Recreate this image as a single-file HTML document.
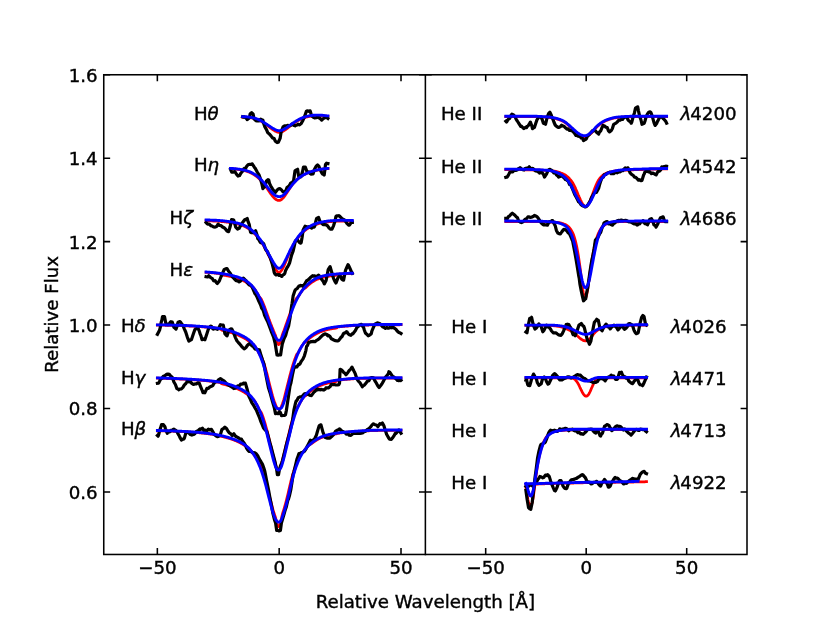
<!DOCTYPE html>
<html><head><meta charset="utf-8"><title>Line profiles</title>
<style>html,body{margin:0;padding:0;background:#fff}svg{display:block}</style></head>
<body>
<svg width="830" height="623" viewBox="0 0 830 623">
<rect width="830" height="623" fill="#fff"/>
<g fill="none" stroke-linejoin="round" stroke-linecap="square">
<g stroke="#f00" stroke-width="2.75">
<path d="M242.6 117.0 L243.1 117.0 L243.6 117.0 L244.1 117.0 L244.6 117.1 L245.1 117.1 L245.6 117.1 L246.1 117.2 L246.6 117.2 L247.1 117.3 L247.6 117.3 L248.1 117.4 L248.6 117.4 L249.1 117.5 L249.6 117.5 L250.1 117.6 L250.6 117.7 L251.1 117.8 L251.6 117.9 L252.1 118.0 L252.6 118.1 L253.1 118.2 L253.6 118.3 L254.1 118.4 L254.6 118.6 L255.1 118.7 L255.6 118.9 L256.1 119.0 L256.6 119.2 L257.1 119.4 L257.6 119.6 L258.1 119.8 L258.6 120.0 L259.1 120.2 L259.6 120.5 L260.1 120.7 L260.6 121.0 L261.1 121.3 L261.6 121.6 L262.1 121.9 L262.6 122.2 L263.1 122.5 L263.6 122.9 L264.1 123.2 L264.6 123.6 L265.1 123.9 L265.6 124.3 L266.1 124.7 L266.6 125.0 L267.1 125.4 L267.6 125.8 L268.1 126.1 L268.6 126.5 L269.1 126.9 L269.6 127.3 L270.1 127.7 L270.6 128.0 L271.1 128.4 L271.6 128.8 L272.1 129.1 L272.6 129.5 L273.1 129.8 L273.6 130.1 L274.1 130.4 L274.6 130.7 L275.1 131.0 L275.6 131.3 L276.1 131.5 L276.6 131.7 L277.1 131.9 L277.6 132.1 L278.1 132.2 L278.6 132.3 L279.1 132.3 L279.6 132.3 L280.1 132.3 L280.6 132.2 L281.1 132.0 L281.6 131.9 L282.1 131.7 L282.6 131.4 L283.1 131.2 L283.6 130.9 L284.1 130.6 L284.6 130.3 L285.1 129.9 L285.6 129.6 L286.1 129.2 L286.6 128.9 L287.1 128.5 L287.6 128.1 L288.1 127.7 L288.6 127.3 L289.1 126.9 L289.6 126.5 L290.1 126.1 L290.6 125.7 L291.1 125.3 L291.6 124.9 L292.1 124.5 L292.6 124.1 L293.1 123.8 L293.6 123.4 L294.1 123.1 L294.6 122.7 L295.1 122.4 L295.6 122.0 L296.1 121.7 L296.6 121.4 L297.1 121.1 L297.6 120.8 L298.1 120.5 L298.6 120.2 L299.1 119.9 L299.6 119.7 L300.1 119.4 L300.6 119.2 L301.1 119.0 L301.6 118.7 L302.1 118.5 L302.6 118.3 L303.1 118.1 L303.6 117.9 L304.1 117.7 L304.6 117.6 L305.1 117.4 L305.6 117.3 L306.1 117.1 L306.6 117.0 L307.1 116.9 L307.6 116.8 L308.1 116.7 L308.6 116.6 L309.1 116.5 L309.6 116.4 L310.1 116.3 L310.6 116.2 L311.1 116.1 L311.6 116.1 L312.1 116.0 L312.6 115.9 L313.1 115.9 L313.6 115.8 L314.1 115.8 L314.6 115.8 L315.1 115.7 L315.6 115.7 L316.1 115.7 L316.6 115.7 L317.1 115.7 L317.6 115.7 L318.1 115.7 L318.6 115.7 L319.1 115.7 L319.6 115.7 L320.1 115.7 L320.6 115.7 L321.1 115.8 L321.6 115.8 L322.1 115.8 L322.6 115.9 L323.1 115.9 L323.6 115.9 L324.1 116.0 L324.6 116.0 L325.1 116.1 L325.6 116.1 L326.1 116.2 L326.6 116.2 L327.1 116.3 L327.6 116.3 L327.9 116.4"/>
<path d="M230.5 168.7 L231.0 168.7 L231.5 168.8 L232.0 168.8 L232.5 168.8 L233.0 168.9 L233.5 168.9 L234.0 169.0 L234.5 169.0 L235.0 169.1 L235.5 169.1 L236.0 169.2 L236.5 169.2 L237.0 169.3 L237.5 169.4 L238.0 169.4 L238.5 169.5 L239.0 169.6 L239.5 169.6 L240.0 169.7 L240.5 169.8 L241.0 169.9 L241.5 170.0 L242.0 170.1 L242.5 170.2 L243.0 170.3 L243.5 170.4 L244.0 170.5 L244.5 170.6 L245.0 170.8 L245.5 170.9 L246.0 171.0 L246.5 171.2 L247.0 171.3 L247.5 171.5 L248.0 171.7 L248.5 171.9 L249.0 172.0 L249.5 172.2 L250.0 172.5 L250.5 172.7 L251.0 172.9 L251.5 173.2 L252.0 173.4 L252.5 173.7 L253.0 174.0 L253.5 174.3 L254.0 174.6 L254.5 175.0 L255.0 175.3 L255.5 175.7 L256.0 176.0 L256.5 176.4 L257.0 176.8 L257.5 177.2 L258.0 177.6 L258.5 178.1 L259.0 178.6 L259.5 179.0 L260.0 179.5 L260.5 180.0 L261.0 180.6 L261.5 181.1 L262.0 181.7 L262.5 182.2 L263.0 182.8 L263.5 183.4 L264.0 184.1 L264.5 184.7 L265.0 185.4 L265.5 186.1 L266.0 186.8 L266.5 187.5 L267.0 188.2 L267.5 188.9 L268.0 189.7 L268.5 190.4 L269.0 191.2 L269.5 191.9 L270.0 192.7 L270.5 193.4 L271.0 194.1 L271.5 194.7 L272.0 195.4 L272.5 196.0 L273.0 196.6 L273.5 197.2 L274.0 197.7 L274.5 198.2 L275.0 198.7 L275.5 199.1 L276.0 199.5 L276.5 199.8 L277.0 200.0 L277.5 200.2 L278.0 200.4 L278.5 200.4 L279.0 200.4 L279.5 200.4 L280.0 200.3 L280.5 200.1 L281.0 199.8 L281.5 199.5 L282.0 199.1 L282.5 198.6 L283.0 198.1 L283.5 197.5 L284.0 196.9 L284.5 196.3 L285.0 195.6 L285.5 194.8 L286.0 194.1 L286.5 193.3 L287.0 192.6 L287.5 191.8 L288.0 191.0 L288.5 190.2 L289.0 189.5 L289.5 188.7 L290.0 187.9 L290.5 187.2 L291.0 186.4 L291.5 185.7 L292.0 185.1 L292.5 184.4 L293.0 183.8 L293.5 183.2 L294.0 182.6 L294.5 182.0 L295.0 181.5 L295.5 180.9 L296.0 180.4 L296.5 180.0 L297.0 179.5 L297.5 179.0 L298.0 178.6 L298.5 178.2 L299.0 177.8 L299.5 177.4 L300.0 177.1 L300.5 176.7 L301.0 176.4 L301.5 176.1 L302.0 175.8 L302.5 175.5 L303.0 175.2 L303.5 174.9 L304.0 174.6 L304.5 174.4 L305.0 174.2 L305.5 173.9 L306.0 173.7 L306.5 173.5 L307.0 173.2 L307.5 173.0 L308.0 172.8 L308.5 172.6 L309.0 172.5 L309.5 172.3 L310.0 172.1 L310.5 171.9 L311.0 171.8 L311.5 171.6 L312.0 171.5 L312.5 171.3 L313.0 171.2 L313.5 171.1 L314.0 170.9 L314.5 170.8 L315.0 170.7 L315.5 170.6 L316.0 170.4 L316.5 170.3 L317.0 170.2 L317.5 170.1 L318.0 170.0 L318.5 169.9 L319.0 169.8 L319.5 169.7 L320.0 169.6 L320.5 169.5 L321.0 169.5 L321.5 169.4 L322.0 169.3 L322.5 169.2 L323.0 169.2 L323.5 169.1 L324.0 169.0 L324.5 169.0 L325.0 168.9 L325.5 168.9 L326.0 168.8 L326.5 168.8 L327.0 168.7 L327.5 168.7 L327.9 168.7"/>
<path d="M206.1 220.7 L206.6 220.7 L207.1 220.8 L207.6 220.8 L208.1 220.8 L208.6 220.8 L209.1 220.8 L209.6 220.8 L210.1 220.9 L210.6 220.9 L211.1 220.9 L211.6 220.9 L212.1 220.9 L212.6 221.0 L213.1 221.0 L213.6 221.0 L214.1 221.0 L214.6 221.0 L215.1 221.1 L215.6 221.1 L216.1 221.1 L216.6 221.1 L217.1 221.2 L217.6 221.2 L218.1 221.2 L218.6 221.3 L219.1 221.3 L219.6 221.3 L220.1 221.4 L220.6 221.4 L221.1 221.5 L221.6 221.5 L222.1 221.6 L222.6 221.6 L223.1 221.6 L223.6 221.7 L224.1 221.7 L224.6 221.8 L225.1 221.9 L225.6 221.9 L226.1 222.0 L226.6 222.0 L227.1 222.1 L227.6 222.2 L228.1 222.2 L228.6 222.3 L229.1 222.4 L229.6 222.4 L230.1 222.5 L230.6 222.6 L231.1 222.7 L231.6 222.7 L232.1 222.8 L232.6 222.9 L233.1 223.0 L233.6 223.1 L234.1 223.2 L234.6 223.3 L235.1 223.4 L235.6 223.5 L236.1 223.6 L236.6 223.7 L237.1 223.8 L237.6 223.9 L238.1 224.1 L238.6 224.2 L239.1 224.3 L239.6 224.5 L240.1 224.6 L240.6 224.8 L241.1 225.0 L241.6 225.1 L242.1 225.3 L242.6 225.5 L243.1 225.7 L243.6 225.9 L244.1 226.1 L244.6 226.4 L245.1 226.6 L245.6 226.9 L246.1 227.1 L246.6 227.4 L247.1 227.7 L247.6 228.0 L248.1 228.3 L248.6 228.7 L249.1 229.0 L249.6 229.4 L250.1 229.7 L250.6 230.1 L251.1 230.5 L251.6 230.9 L252.1 231.3 L252.6 231.8 L253.1 232.2 L253.6 232.7 L254.1 233.2 L254.6 233.7 L255.1 234.2 L255.6 234.7 L256.1 235.3 L256.6 235.8 L257.1 236.4 L257.6 237.0 L258.1 237.6 L258.6 238.2 L259.1 238.9 L259.6 239.5 L260.1 240.2 L260.6 240.9 L261.1 241.7 L261.6 242.4 L262.1 243.2 L262.6 244.0 L263.1 244.8 L263.6 245.7 L264.1 246.5 L264.6 247.4 L265.1 248.4 L265.6 249.3 L266.1 250.2 L266.6 251.2 L267.1 252.1 L267.6 253.1 L268.1 254.1 L268.6 255.1 L269.1 256.2 L269.6 257.2 L270.1 258.2 L270.6 259.3 L271.1 260.3 L271.6 261.3 L272.1 262.4 L272.6 263.4 L273.1 264.5 L273.6 265.5 L274.1 266.5 L274.6 267.4 L275.1 268.3 L275.6 269.2 L276.1 270.0 L276.6 270.7 L277.1 271.3 L277.6 271.9 L278.1 272.3 L278.6 272.5 L279.1 272.5 L279.6 272.4 L280.1 272.0 L280.6 271.5 L281.1 271.0 L281.6 270.3 L282.1 269.5 L282.6 268.6 L283.1 267.6 L283.6 266.6 L284.1 265.6 L284.6 264.4 L285.1 263.3 L285.6 262.1 L286.1 260.9 L286.6 259.7 L287.1 258.5 L287.6 257.3 L288.1 256.0 L288.6 254.8 L289.1 253.6 L289.6 252.5 L290.1 251.4 L290.6 250.3 L291.1 249.3 L291.6 248.4 L292.1 247.4 L292.6 246.5 L293.1 245.5 L293.6 244.6 L294.1 243.8 L294.6 242.9 L295.1 242.1 L295.6 241.3 L296.1 240.5 L296.6 239.8 L297.1 239.1 L297.6 238.4 L298.1 237.7 L298.6 237.0 L299.1 236.4 L299.6 235.8 L300.1 235.2 L300.6 234.7 L301.1 234.1 L301.6 233.6 L302.1 233.1 L302.6 232.6 L303.1 232.1 L303.6 231.6 L304.1 231.2 L304.6 230.8 L305.1 230.4 L305.6 230.0 L306.1 229.6 L306.6 229.2 L307.1 228.8 L307.6 228.5 L308.1 228.2 L308.6 227.9 L309.1 227.6 L309.6 227.3 L310.1 227.0 L310.6 226.7 L311.1 226.5 L311.6 226.2 L312.1 226.0 L312.6 225.7 L313.1 225.5 L313.6 225.3 L314.1 225.1 L314.6 224.9 L315.1 224.7 L315.6 224.5 L316.1 224.4 L316.6 224.2 L317.1 224.1 L317.6 223.9 L318.1 223.8 L318.6 223.6 L319.1 223.5 L319.6 223.4 L320.1 223.2 L320.6 223.1 L321.1 223.0 L321.6 222.9 L322.1 222.8 L322.6 222.7 L323.1 222.6 L323.6 222.5 L324.1 222.4 L324.6 222.3 L325.1 222.3 L325.6 222.2 L326.1 222.1 L326.6 222.0 L327.1 222.0 L327.6 221.9 L328.1 221.8 L328.6 221.8 L329.1 221.7 L329.6 221.7 L330.1 221.6 L330.6 221.6 L331.1 221.5 L331.6 221.5 L332.1 221.5 L332.6 221.4 L333.1 221.4 L333.6 221.4 L334.1 221.3 L334.6 221.3 L335.1 221.3 L335.6 221.2 L336.1 221.2 L336.6 221.2 L337.1 221.2 L337.6 221.2 L338.1 221.2 L338.6 221.1 L339.1 221.1 L339.6 221.1 L340.1 221.1 L340.6 221.1 L341.1 221.1 L341.6 221.1 L342.1 221.1 L342.6 221.1 L343.1 221.1 L343.6 221.1 L344.1 221.1 L344.6 221.1 L345.1 221.1 L345.6 221.2 L346.1 221.2 L346.6 221.2 L347.1 221.2 L347.6 221.2 L348.1 221.2 L348.6 221.2 L349.1 221.2 L349.6 221.2 L350.1 221.2 L350.6 221.2 L351.1 221.2 L351.6 221.2 L352.1 221.3 L352.3 221.3"/>
<path d="M206.1 272.3 L206.6 272.3 L207.1 272.4 L207.6 272.4 L208.1 272.4 L208.6 272.5 L209.1 272.5 L209.6 272.6 L210.1 272.6 L210.6 272.7 L211.1 272.7 L211.6 272.8 L212.1 272.8 L212.6 272.8 L213.1 272.9 L213.6 272.9 L214.1 273.0 L214.6 273.0 L215.1 273.1 L215.6 273.1 L216.1 273.2 L216.6 273.3 L217.1 273.3 L217.6 273.4 L218.1 273.4 L218.6 273.5 L219.1 273.6 L219.6 273.6 L220.1 273.8 L220.6 274.2 L221.1 274.6 L221.6 274.8 L222.1 275.0 L222.6 275.0 L223.1 275.1 L223.6 275.2 L224.1 275.3 L224.6 275.3 L225.1 275.4 L225.6 275.5 L226.1 275.6 L226.6 275.7 L227.1 275.8 L227.6 275.9 L228.1 276.0 L228.6 276.1 L229.1 276.2 L229.6 276.3 L230.1 276.4 L230.6 276.5 L231.1 276.6 L231.6 276.7 L232.1 276.8 L232.6 276.9 L233.1 277.1 L233.6 277.2 L234.1 277.3 L234.6 277.5 L235.1 277.6 L235.6 277.7 L236.1 277.9 L236.6 278.0 L237.1 278.2 L237.6 278.4 L238.1 278.5 L238.6 278.7 L239.1 278.9 L239.6 279.1 L240.1 279.2 L240.6 279.4 L241.1 279.6 L241.6 279.9 L242.1 280.1 L242.6 280.3 L243.1 280.5 L243.6 280.8 L244.1 281.1 L244.6 281.3 L245.1 281.6 L245.6 281.9 L246.1 282.2 L246.6 282.6 L247.1 282.9 L247.6 283.3 L248.1 283.6 L248.6 284.0 L249.1 284.4 L249.6 284.9 L250.1 285.3 L250.6 285.8 L251.1 286.3 L251.6 286.8 L252.1 287.2 L252.6 287.4 L253.1 287.5 L253.6 287.9 L254.1 288.5 L254.6 289.2 L255.1 289.9 L255.6 290.6 L256.1 291.4 L256.6 292.2 L257.1 293.0 L257.6 293.8 L258.1 294.7 L258.6 295.6 L259.1 296.5 L259.6 297.2 L260.1 297.7 L260.6 298.2 L261.1 298.9 L261.6 299.9 L262.1 301.0 L262.6 302.1 L263.1 303.3 L263.6 304.5 L264.1 305.7 L264.6 307.1 L265.1 308.4 L265.6 309.8 L266.1 311.2 L266.6 312.6 L267.1 314.0 L267.6 315.4 L268.1 316.8 L268.6 318.2 L269.1 319.6 L269.6 320.9 L270.1 322.2 L270.6 323.5 L271.1 324.7 L271.6 326.0 L272.1 327.3 L272.6 328.5 L273.1 329.8 L273.6 331.1 L274.1 332.3 L274.6 333.5 L275.1 334.6 L275.6 335.8 L276.1 337.7 L276.6 340.3 L277.1 342.1 L277.6 343.3 L278.1 344.2 L278.6 344.5 L279.1 344.2 L279.6 343.6 L280.1 343.0 L280.6 342.1 L281.1 340.3 L281.6 337.7 L282.1 335.5 L282.6 334.1 L283.1 332.9 L283.6 331.6 L284.1 330.2 L284.6 328.8 L285.1 327.4 L285.6 325.9 L286.1 324.5 L286.6 323.1 L287.1 321.7 L287.6 320.3 L288.1 318.9 L288.6 317.5 L289.1 316.1 L289.6 314.7 L290.1 313.3 L290.6 312.0 L291.1 310.6 L291.6 309.3 L292.1 308.0 L292.6 306.7 L293.1 305.5 L293.6 304.3 L294.1 303.2 L294.6 302.1 L295.1 301.0 L295.6 300.0 L296.1 299.0 L296.6 298.3 L297.1 297.8 L297.6 297.4 L298.1 296.8 L298.6 296.0 L299.1 295.2 L299.6 294.4 L300.1 293.6 L300.6 292.8 L301.1 292.1 L301.6 291.4 L302.1 290.7 L302.6 290.0 L303.1 289.4 L303.6 288.8 L304.1 288.3 L304.6 288.2 L305.1 288.1 L305.6 287.8 L306.1 287.3 L306.6 286.8 L307.1 286.3 L307.6 285.8 L308.1 285.3 L308.6 284.9 L309.1 284.5 L309.6 284.0 L310.1 283.6 L310.6 283.2 L311.1 282.9 L311.6 282.5 L312.1 282.1 L312.6 281.8 L313.1 281.5 L313.6 281.2 L314.1 280.9 L314.6 280.6 L315.1 280.3 L315.6 280.0 L316.1 279.8 L316.6 279.5 L317.1 279.3 L317.6 279.1 L318.1 278.9 L318.6 278.7 L319.1 278.5 L319.6 278.3 L320.1 278.1 L320.6 277.9 L321.1 277.8 L321.6 277.6 L322.1 277.5 L322.6 277.4 L323.1 277.2 L323.6 277.1 L324.1 277.0 L324.6 276.9 L325.1 276.8 L325.6 276.7 L326.1 276.6 L326.6 276.5 L327.1 276.4 L327.6 276.3 L328.1 276.3 L328.6 276.2 L329.1 276.1 L329.6 276.1 L330.1 276.0 L330.6 275.9 L331.1 275.9 L331.6 275.8 L332.1 275.7 L332.6 275.7 L333.1 275.6 L333.6 275.6 L334.1 275.5 L334.6 275.5 L335.1 275.4 L335.6 275.4 L336.1 275.2 L336.6 274.9 L337.1 274.5 L337.6 274.3 L338.1 274.2 L338.6 274.2 L339.1 274.1 L339.6 274.1 L340.1 274.1 L340.6 274.0 L341.1 274.0 L341.6 274.0 L342.1 274.0 L342.6 273.9 L343.1 273.9 L343.6 273.9 L344.1 273.8 L344.6 273.8 L345.1 273.8 L345.6 273.8 L346.1 273.7 L346.6 273.7 L347.1 273.7 L347.6 273.7 L348.1 273.7 L348.6 273.6 L349.1 273.6 L349.6 273.6 L350.1 273.6 L350.6 273.6 L351.1 273.5 L351.6 273.5 L352.1 273.5 L352.3 273.5"/>
<path d="M157.4 325.2 L157.9 325.2 L158.4 325.2 L158.9 325.2 L159.4 325.2 L159.9 325.2 L160.4 325.2 L160.9 325.2 L161.4 325.2 L161.9 325.2 L162.4 325.2 L162.9 325.2 L163.4 325.2 L163.9 325.2 L164.4 325.2 L164.9 325.2 L165.4 325.3 L165.9 325.3 L166.4 325.3 L166.9 325.3 L167.4 325.3 L167.9 325.3 L168.4 325.3 L168.9 325.3 L169.4 325.3 L169.9 325.3 L170.4 325.3 L170.9 325.3 L171.4 325.4 L171.9 325.4 L172.4 325.4 L172.9 325.4 L173.4 325.4 L173.9 325.4 L174.4 325.4 L174.9 325.4 L175.4 325.5 L175.9 325.5 L176.4 325.5 L176.9 325.5 L177.4 325.5 L177.9 325.5 L178.4 325.5 L178.9 325.6 L179.4 325.6 L179.9 325.6 L180.4 325.6 L180.9 325.6 L181.4 325.6 L181.9 325.7 L182.4 325.7 L182.9 325.7 L183.4 325.7 L183.9 325.7 L184.4 325.8 L184.9 325.8 L185.4 325.8 L185.9 325.8 L186.4 325.8 L186.9 325.9 L187.4 325.9 L187.9 325.9 L188.4 325.9 L188.9 326.0 L189.4 326.0 L189.9 326.0 L190.4 326.0 L190.9 326.1 L191.4 326.1 L191.9 326.1 L192.4 326.1 L192.9 326.2 L193.4 326.2 L193.9 326.2 L194.4 326.3 L194.9 326.3 L195.4 326.3 L195.9 326.4 L196.4 326.4 L196.9 326.4 L197.4 326.5 L197.9 326.5 L198.4 326.5 L198.9 326.6 L199.4 326.6 L199.9 326.6 L200.4 326.7 L200.9 326.7 L201.4 326.7 L201.9 326.8 L202.4 326.8 L202.9 326.9 L203.4 326.9 L203.9 326.9 L204.4 327.0 L204.9 327.0 L205.4 327.1 L205.9 327.1 L206.4 327.2 L206.9 327.2 L207.4 327.3 L207.9 327.3 L208.4 327.4 L208.9 327.4 L209.4 327.5 L209.9 327.5 L210.4 327.6 L210.9 327.6 L211.4 327.7 L211.9 327.7 L212.4 327.8 L212.9 327.8 L213.4 327.9 L213.9 328.0 L214.4 328.0 L214.9 328.1 L215.4 328.2 L215.9 328.2 L216.4 328.3 L216.9 328.4 L217.4 328.4 L217.9 328.5 L218.4 328.6 L218.9 328.7 L219.4 328.8 L219.9 328.9 L220.4 329.0 L220.9 329.4 L221.4 329.8 L221.9 330.2 L222.4 330.3 L222.9 330.4 L223.4 330.5 L223.9 330.6 L224.4 330.7 L224.9 330.8 L225.4 330.9 L225.9 331.0 L226.4 331.2 L226.9 331.3 L227.4 331.4 L227.9 331.5 L228.4 331.7 L228.9 331.8 L229.4 332.0 L229.9 332.1 L230.4 332.3 L230.9 332.4 L231.4 332.6 L231.9 332.7 L232.4 332.9 L232.9 333.1 L233.4 333.2 L233.9 333.4 L234.4 333.6 L234.9 333.8 L235.4 334.0 L235.9 334.2 L236.4 334.4 L236.9 334.6 L237.4 334.8 L237.9 335.0 L238.4 335.2 L238.9 335.4 L239.4 335.7 L239.9 335.9 L240.4 336.1 L240.9 336.4 L241.4 336.6 L241.9 336.9 L242.4 337.1 L242.9 337.4 L243.4 337.6 L243.9 337.9 L244.4 338.2 L244.9 338.5 L245.4 338.8 L245.9 339.1 L246.4 339.4 L246.9 339.8 L247.4 340.1 L247.9 340.5 L248.4 340.8 L248.9 341.2 L249.4 341.6 L249.9 342.0 L250.4 342.5 L250.9 342.9 L251.4 343.4 L251.9 343.9 L252.4 344.3 L252.9 344.5 L253.4 344.6 L253.9 345.0 L254.4 345.6 L254.9 346.2 L255.4 346.9 L255.9 347.7 L256.4 348.5 L256.9 349.3 L257.4 350.2 L257.9 351.1 L258.4 352.1 L258.9 353.1 L259.4 354.1 L259.9 354.9 L260.4 355.5 L260.9 356.0 L261.4 356.8 L261.9 357.9 L262.4 359.2 L262.9 360.6 L263.4 362.0 L263.9 363.4 L264.4 364.9 L264.9 366.5 L265.4 368.2 L265.9 370.0 L266.4 371.8 L266.9 373.7 L267.4 375.7 L267.9 377.7 L268.4 379.8 L268.9 381.8 L269.4 383.8 L269.9 385.8 L270.4 387.8 L270.9 389.7 L271.4 391.6 L271.9 393.5 L272.4 395.4 L272.9 397.1 L273.4 398.8 L273.9 400.4 L274.4 401.8 L274.9 403.1 L275.4 404.4 L275.9 405.7 L276.4 407.0 L276.9 407.9 L277.4 408.4 L277.9 408.8 L278.4 409.1 L278.9 409.2 L279.4 409.1 L279.9 408.8 L280.4 408.4 L280.9 407.7 L281.4 406.6 L281.9 405.3 L282.4 404.0 L282.9 402.5 L283.4 401.0 L283.9 399.4 L284.4 397.6 L284.9 395.7 L285.4 393.7 L285.9 391.7 L286.4 389.6 L286.9 387.5 L287.4 385.5 L287.9 383.5 L288.4 381.6 L288.9 379.6 L289.4 377.7 L289.9 375.7 L290.4 373.8 L290.9 371.9 L291.4 370.1 L291.9 368.3 L292.4 366.6 L292.9 365.0 L293.4 363.4 L293.9 361.9 L294.4 360.4 L294.9 359.0 L295.4 357.7 L295.9 356.4 L296.4 355.2 L296.9 354.2 L297.4 353.6 L297.9 353.1 L298.4 352.4 L298.9 351.5 L299.4 350.5 L299.9 349.5 L300.4 348.6 L300.9 347.7 L301.4 346.8 L301.9 346.0 L302.4 345.2 L302.9 344.5 L303.4 343.7 L303.9 343.1 L304.4 342.5 L304.9 342.3 L305.4 342.2 L305.9 341.8 L306.4 341.3 L306.9 340.8 L307.4 340.3 L307.9 339.8 L308.4 339.3 L308.9 338.9 L309.4 338.4 L309.9 338.0 L310.4 337.6 L310.9 337.2 L311.4 336.8 L311.9 336.5 L312.4 336.1 L312.9 335.8 L313.4 335.5 L313.9 335.1 L314.4 334.8 L314.9 334.5 L315.4 334.2 L315.9 334.0 L316.4 333.7 L316.9 333.4 L317.4 333.2 L317.9 332.9 L318.4 332.7 L318.9 332.5 L319.4 332.2 L319.9 332.0 L320.4 331.8 L320.9 331.6 L321.4 331.4 L321.9 331.2 L322.4 331.1 L322.9 330.9 L323.4 330.7 L323.9 330.6 L324.4 330.4 L324.9 330.3 L325.4 330.1 L325.9 330.0 L326.4 329.9 L326.9 329.7 L327.4 329.6 L327.9 329.5 L328.4 329.4 L328.9 329.3 L329.4 329.2 L329.9 329.1 L330.4 329.0 L330.9 328.9 L331.4 328.8 L331.9 328.7 L332.4 328.7 L332.9 328.6 L333.4 328.5 L333.9 328.4 L334.4 328.4 L334.9 328.3 L335.4 328.2 L335.9 328.1 L336.4 328.0 L336.9 327.7 L337.4 327.2 L337.9 327.0 L338.4 326.9 L338.9 326.8 L339.4 326.8 L339.9 326.7 L340.4 326.7 L340.9 326.6 L341.4 326.6 L341.9 326.5 L342.4 326.5 L342.9 326.4 L343.4 326.4 L343.9 326.3 L344.4 326.3 L344.9 326.2 L345.4 326.2 L345.9 326.2 L346.4 326.1 L346.9 326.1 L347.4 326.0 L347.9 326.0 L348.4 326.0 L348.9 325.9 L349.4 325.9 L349.9 325.8 L350.4 325.8 L350.9 325.8 L351.4 325.7 L351.9 325.7 L352.4 325.7 L352.9 325.6 L353.4 325.6 L353.9 325.6 L354.4 325.6 L354.9 325.5 L355.4 325.5 L355.9 325.5 L356.4 325.4 L356.9 325.4 L357.4 325.4 L357.9 325.4 L358.4 325.3 L358.9 325.3 L359.4 325.3 L359.9 325.3 L360.4 325.2 L360.9 325.2 L361.4 325.2 L361.9 325.2 L362.4 325.2 L362.9 325.1 L363.4 325.1 L363.9 325.1 L364.4 325.1 L364.9 325.1 L365.4 325.1 L365.9 325.0 L366.4 325.0 L366.9 325.0 L367.4 325.0 L367.9 325.0 L368.4 325.0 L368.9 325.0 L369.4 324.9 L369.9 324.9 L370.4 324.9 L370.9 324.9 L371.4 324.9 L371.9 324.9 L372.4 324.9 L372.9 324.9 L373.4 324.9 L373.9 324.9 L374.4 324.9 L374.9 324.8 L375.4 324.8 L375.9 324.8 L376.4 324.8 L376.9 324.8 L377.4 324.8 L377.9 324.8 L378.4 324.8 L378.9 324.8 L379.4 324.8 L379.9 324.8 L380.4 324.8 L380.9 324.8 L381.4 324.8 L381.9 324.8 L382.4 324.8 L382.9 324.8 L383.4 324.8 L383.9 324.8 L384.4 324.8 L384.9 324.8 L385.4 324.8 L385.9 324.8 L386.4 324.8 L386.9 324.8 L387.4 324.8 L387.9 324.8 L388.4 324.8 L388.9 324.8 L389.4 324.8 L389.9 324.8 L390.4 324.8 L390.9 324.8 L391.4 324.8 L391.9 324.8 L392.4 324.8 L392.9 324.8 L393.4 324.8 L393.9 324.8 L394.4 324.8 L394.9 324.8 L395.4 324.8 L395.9 324.8 L396.4 324.8 L396.9 324.8 L397.4 324.8 L397.9 324.8 L398.4 324.8 L398.9 324.8 L399.4 324.8 L399.9 324.7 L400.4 324.7 L400.9 324.7 L401.0 324.7"/>
<path d="M157.4 378.2 L157.9 378.2 L158.4 378.2 L158.9 378.3 L159.4 378.3 L159.9 378.3 L160.4 378.3 L160.9 378.3 L161.4 378.3 L161.9 378.3 L162.4 378.3 L162.9 378.3 L163.4 378.4 L163.9 378.4 L164.4 378.4 L164.9 378.4 L165.4 378.4 L165.9 378.4 L166.4 378.5 L166.9 378.5 L167.4 378.5 L167.9 378.5 L168.4 378.5 L168.9 378.5 L169.4 378.6 L169.9 378.6 L170.4 378.6 L170.9 378.6 L171.4 378.6 L171.9 378.6 L172.4 378.7 L172.9 378.7 L173.4 378.7 L173.9 378.7 L174.4 378.7 L174.9 378.8 L175.4 378.8 L175.9 378.8 L176.4 378.8 L176.9 378.9 L177.4 378.9 L177.9 378.9 L178.4 378.9 L178.9 378.9 L179.4 379.0 L179.9 379.0 L180.4 379.0 L180.9 379.0 L181.4 379.1 L181.9 379.1 L182.4 379.1 L182.9 379.1 L183.4 379.2 L183.9 379.2 L184.4 379.2 L184.9 379.2 L185.4 379.3 L185.9 379.3 L186.4 379.3 L186.9 379.3 L187.4 379.4 L187.9 379.4 L188.4 379.4 L188.9 379.5 L189.4 379.5 L189.9 379.5 L190.4 379.6 L190.9 379.6 L191.4 379.6 L191.9 379.6 L192.4 379.7 L192.9 379.7 L193.4 379.7 L193.9 379.8 L194.4 379.8 L194.9 379.8 L195.4 379.9 L195.9 379.9 L196.4 379.9 L196.9 380.0 L197.4 380.0 L197.9 380.1 L198.4 380.1 L198.9 380.1 L199.4 380.2 L199.9 380.2 L200.4 380.2 L200.9 380.3 L201.4 380.3 L201.9 380.4 L202.4 380.4 L202.9 380.4 L203.4 380.5 L203.9 380.5 L204.4 380.6 L204.9 380.6 L205.4 380.7 L205.9 380.7 L206.4 380.7 L206.9 380.8 L207.4 380.8 L207.9 380.9 L208.4 380.9 L208.9 381.0 L209.4 381.0 L209.9 381.1 L210.4 381.2 L210.9 381.2 L211.4 381.3 L211.9 381.3 L212.4 381.4 L212.9 381.4 L213.4 381.5 L213.9 381.6 L214.4 381.6 L214.9 381.7 L215.4 381.8 L215.9 381.8 L216.4 381.9 L216.9 382.0 L217.4 382.1 L217.9 382.2 L218.4 382.2 L218.9 382.3 L219.4 382.4 L219.9 382.5 L220.4 382.7 L220.9 383.0 L221.4 383.5 L221.9 383.8 L222.4 384.0 L222.9 384.1 L223.4 384.2 L223.9 384.3 L224.4 384.4 L224.9 384.5 L225.4 384.7 L225.9 384.8 L226.4 384.9 L226.9 385.1 L227.4 385.2 L227.9 385.3 L228.4 385.5 L228.9 385.6 L229.4 385.8 L229.9 385.9 L230.4 386.1 L230.9 386.2 L231.4 386.4 L231.9 386.6 L232.4 386.8 L232.9 386.9 L233.4 387.1 L233.9 387.3 L234.4 387.5 L234.9 387.7 L235.4 387.9 L235.9 388.1 L236.4 388.3 L236.9 388.5 L237.4 388.7 L237.9 388.9 L238.4 389.2 L238.9 389.4 L239.4 389.6 L239.9 389.9 L240.4 390.1 L240.9 390.4 L241.4 390.6 L241.9 390.9 L242.4 391.2 L242.9 391.5 L243.4 391.8 L243.9 392.1 L244.4 392.4 L244.9 392.7 L245.4 393.0 L245.9 393.4 L246.4 393.7 L246.9 394.1 L247.4 394.5 L247.9 394.9 L248.4 395.3 L248.9 395.7 L249.4 396.2 L249.9 396.7 L250.4 397.2 L250.9 397.7 L251.4 398.2 L251.9 398.8 L252.4 399.3 L252.9 399.5 L253.4 399.7 L253.9 400.1 L254.4 400.8 L254.9 401.5 L255.4 402.3 L255.9 403.2 L256.4 404.0 L256.9 404.9 L257.4 405.9 L257.9 406.9 L258.4 407.9 L258.9 409.0 L259.4 410.0 L259.9 410.9 L260.4 411.5 L260.9 412.1 L261.4 412.9 L261.9 414.0 L262.4 415.4 L262.9 416.8 L263.4 418.2 L263.9 419.8 L264.4 421.4 L264.9 423.0 L265.4 424.7 L265.9 426.5 L266.4 428.3 L266.9 430.2 L267.4 432.1 L267.9 434.1 L268.4 436.1 L268.9 438.1 L269.4 440.2 L269.9 442.2 L270.4 444.3 L270.9 446.3 L271.4 448.3 L271.9 450.4 L272.4 452.4 L272.9 454.4 L273.4 456.4 L273.9 458.3 L274.4 460.1 L274.9 461.9 L275.4 463.6 L275.9 465.3 L276.4 467.1 L276.9 468.5 L277.4 469.3 L277.9 469.8 L278.4 470.2 L278.9 470.1 L279.4 469.7 L279.9 468.8 L280.4 467.7 L280.9 466.1 L281.4 464.1 L281.9 462.1 L282.4 460.3 L282.9 458.4 L283.4 456.5 L283.9 454.4 L284.4 452.3 L284.9 450.2 L285.4 448.1 L285.9 446.0 L286.4 443.9 L286.9 441.9 L287.4 439.8 L287.9 437.8 L288.4 435.7 L288.9 433.7 L289.4 431.6 L289.9 429.5 L290.4 427.4 L290.9 425.4 L291.4 423.5 L291.9 421.7 L292.4 419.9 L292.9 418.3 L293.4 416.7 L293.9 415.2 L294.4 413.8 L294.9 412.4 L295.4 411.1 L295.9 409.8 L296.4 408.6 L296.9 407.7 L297.4 407.0 L297.9 406.5 L298.4 405.9 L298.9 405.0 L299.4 404.0 L299.9 403.0 L300.4 402.1 L300.9 401.2 L301.4 400.4 L301.9 399.6 L302.4 398.8 L302.9 398.1 L303.4 397.4 L303.9 396.7 L304.4 396.2 L304.9 395.9 L305.4 395.8 L305.9 395.5 L306.4 395.0 L306.9 394.5 L307.4 394.0 L307.9 393.5 L308.4 393.1 L308.9 392.6 L309.4 392.2 L309.9 391.8 L310.4 391.4 L310.9 391.0 L311.4 390.6 L311.9 390.2 L312.4 389.9 L312.9 389.5 L313.4 389.2 L313.9 388.9 L314.4 388.6 L314.9 388.3 L315.4 388.0 L315.9 387.7 L316.4 387.4 L316.9 387.1 L317.4 386.9 L317.9 386.6 L318.4 386.4 L318.9 386.1 L319.4 385.9 L319.9 385.7 L320.4 385.5 L320.9 385.3 L321.4 385.1 L321.9 384.9 L322.4 384.7 L322.9 384.5 L323.4 384.3 L323.9 384.2 L324.4 384.0 L324.9 383.9 L325.4 383.7 L325.9 383.6 L326.4 383.4 L326.9 383.3 L327.4 383.2 L327.9 383.0 L328.4 382.9 L328.9 382.8 L329.4 382.7 L329.9 382.6 L330.4 382.5 L330.9 382.4 L331.4 382.3 L331.9 382.2 L332.4 382.1 L332.9 382.0 L333.4 381.9 L333.9 381.8 L334.4 381.8 L334.9 381.7 L335.4 381.6 L335.9 381.5 L336.4 381.4 L336.9 381.0 L337.4 380.6 L337.9 380.3 L338.4 380.2 L338.9 380.1 L339.4 380.1 L339.9 380.0 L340.4 379.9 L340.9 379.9 L341.4 379.8 L341.9 379.8 L342.4 379.7 L342.9 379.7 L343.4 379.6 L343.9 379.5 L344.4 379.5 L344.9 379.4 L345.4 379.4 L345.9 379.4 L346.4 379.3 L346.9 379.3 L347.4 379.2 L347.9 379.2 L348.4 379.1 L348.9 379.1 L349.4 379.1 L349.9 379.0 L350.4 379.0 L350.9 378.9 L351.4 378.9 L351.9 378.9 L352.4 378.8 L352.9 378.8 L353.4 378.8 L353.9 378.7 L354.4 378.7 L354.9 378.7 L355.4 378.7 L355.9 378.6 L356.4 378.6 L356.9 378.6 L357.4 378.6 L357.9 378.5 L358.4 378.5 L358.9 378.5 L359.4 378.5 L359.9 378.5 L360.4 378.4 L360.9 378.4 L361.4 378.4 L361.9 378.4 L362.4 378.4 L362.9 378.4 L363.4 378.4 L363.9 378.3 L364.4 378.3 L364.9 378.3 L365.4 378.3 L365.9 378.3 L366.4 378.3 L366.9 378.3 L367.4 378.3 L367.9 378.3 L368.4 378.3 L368.9 378.2 L369.4 378.2 L369.9 378.2 L370.4 378.2 L370.9 378.2 L371.4 378.2 L371.9 378.2 L372.4 378.2 L372.9 378.2 L373.4 378.2 L373.9 378.2 L374.4 378.2 L374.9 378.2 L375.4 378.2 L375.9 378.2 L376.4 378.2 L376.9 378.2 L377.4 378.2 L377.9 378.2 L378.4 378.2 L378.9 378.2 L379.4 378.2 L379.9 378.2 L380.4 378.2 L380.9 378.2 L381.4 378.2 L381.9 378.2 L382.4 378.2 L382.9 378.2 L383.4 378.2 L383.9 378.2 L384.4 378.2 L384.9 378.2 L385.4 378.2 L385.9 378.2 L386.4 378.2 L386.9 378.2 L387.4 378.1 L387.9 378.1 L388.4 378.1 L388.9 378.1 L389.4 378.1 L389.9 378.1 L390.4 378.1 L390.9 378.1 L391.4 378.1 L391.9 378.1 L392.4 378.1 L392.9 378.1 L393.4 378.1 L393.9 378.1 L394.4 378.1 L394.9 378.1 L395.4 378.1 L395.9 378.1 L396.4 378.1 L396.9 378.1 L397.4 378.1 L397.9 378.1 L398.4 378.1 L398.9 378.1 L399.4 378.1 L399.9 378.1 L400.4 378.1 L400.9 378.1 L401.0 378.1"/>
<path d="M157.4 430.8 L157.9 430.8 L158.4 430.8 L158.9 430.8 L159.4 430.8 L159.9 430.8 L160.4 430.8 L160.9 430.8 L161.4 430.9 L161.9 430.9 L162.4 430.9 L162.9 430.9 L163.4 430.9 L163.9 430.9 L164.4 430.9 L164.9 431.0 L165.4 431.0 L165.9 431.0 L166.4 431.0 L166.9 431.0 L167.4 431.0 L167.9 431.0 L168.4 431.1 L168.9 431.1 L169.4 431.1 L169.9 431.1 L170.4 431.1 L170.9 431.2 L171.4 431.2 L171.9 431.2 L172.4 431.2 L172.9 431.2 L173.4 431.3 L173.9 431.3 L174.4 431.3 L174.9 431.3 L175.4 431.3 L175.9 431.4 L176.4 431.4 L176.9 431.4 L177.4 431.4 L177.9 431.4 L178.4 431.5 L178.9 431.5 L179.4 431.5 L179.9 431.5 L180.4 431.6 L180.9 431.6 L181.4 431.6 L181.9 431.6 L182.4 431.7 L182.9 431.7 L183.4 431.7 L183.9 431.7 L184.4 431.8 L184.9 431.8 L185.4 431.8 L185.9 431.8 L186.4 431.9 L186.9 431.9 L187.4 431.9 L187.9 431.9 L188.4 432.0 L188.9 432.0 L189.4 432.0 L189.9 432.1 L190.4 432.1 L190.9 432.1 L191.4 432.2 L191.9 432.2 L192.4 432.2 L192.9 432.3 L193.4 432.3 L193.9 432.3 L194.4 432.4 L194.9 432.4 L195.4 432.4 L195.9 432.5 L196.4 432.5 L196.9 432.6 L197.4 432.6 L197.9 432.7 L198.4 432.7 L198.9 432.7 L199.4 432.8 L199.9 432.8 L200.4 432.9 L200.9 432.9 L201.4 433.0 L201.9 433.0 L202.4 433.1 L202.9 433.1 L203.4 433.2 L203.9 433.2 L204.4 433.3 L204.9 433.3 L205.4 433.4 L205.9 433.5 L206.4 433.5 L206.9 433.6 L207.4 433.6 L207.9 433.7 L208.4 433.8 L208.9 433.8 L209.4 433.9 L209.9 434.0 L210.4 434.0 L210.9 434.1 L211.4 434.2 L211.9 434.2 L212.4 434.3 L212.9 434.4 L213.4 434.5 L213.9 434.6 L214.4 434.6 L214.9 434.7 L215.4 434.8 L215.9 434.9 L216.4 435.0 L216.9 435.1 L217.4 435.2 L217.9 435.3 L218.4 435.4 L218.9 435.5 L219.4 435.6 L219.9 435.7 L220.4 435.9 L220.9 436.2 L221.4 436.4 L221.9 436.5 L222.4 436.6 L222.9 436.7 L223.4 436.8 L223.9 437.0 L224.4 437.1 L224.9 437.2 L225.4 437.4 L225.9 437.5 L226.4 437.6 L226.9 437.8 L227.4 437.9 L227.9 438.0 L228.4 438.2 L228.9 438.3 L229.4 438.5 L229.9 438.6 L230.4 438.8 L230.9 439.0 L231.4 439.1 L231.9 439.3 L232.4 439.5 L232.9 439.7 L233.4 439.8 L233.9 440.0 L234.4 440.2 L234.9 440.4 L235.4 440.6 L235.9 440.8 L236.4 441.0 L236.9 441.2 L237.4 441.5 L237.9 441.7 L238.4 441.9 L238.9 442.1 L239.4 442.4 L239.9 442.6 L240.4 442.9 L240.9 443.2 L241.4 443.5 L241.9 443.7 L242.4 444.0 L242.9 444.3 L243.4 444.7 L243.9 445.0 L244.4 445.3 L244.9 445.7 L245.4 446.1 L245.9 446.4 L246.4 446.6 L246.9 446.8 L247.4 447.0 L247.9 447.5 L248.4 447.9 L248.9 448.4 L249.4 448.9 L249.9 449.5 L250.4 450.0 L250.9 450.6 L251.4 451.2 L251.9 451.9 L252.4 452.6 L252.9 453.3 L253.4 454.0 L253.9 454.7 L254.4 455.3 L254.9 455.8 L255.4 456.1 L255.9 456.6 L256.4 457.4 L256.9 458.3 L257.4 459.2 L257.9 460.2 L258.4 461.3 L258.9 462.3 L259.4 463.4 L259.9 464.6 L260.4 465.8 L260.9 467.1 L261.4 468.4 L261.9 469.7 L262.4 471.1 L262.9 472.6 L263.4 474.1 L263.9 475.7 L264.4 477.3 L264.9 478.9 L265.4 480.6 L265.9 482.4 L266.4 484.2 L266.9 486.1 L267.4 488.0 L267.9 490.0 L268.4 492.0 L268.9 494.0 L269.4 496.0 L269.9 498.0 L270.4 499.9 L270.9 501.8 L271.4 503.8 L271.9 505.7 L272.4 507.5 L272.9 509.4 L273.4 511.1 L273.9 512.7 L274.4 514.2 L274.9 515.6 L275.4 517.1 L275.9 519.2 L276.4 521.9 L276.9 523.8 L277.4 525.1 L277.9 526.1 L278.4 526.6 L278.9 526.4 L279.4 525.5 L279.9 524.7 L280.4 523.7 L280.9 522.0 L281.4 519.3 L281.9 516.3 L282.4 514.2 L282.9 512.5 L283.4 510.9 L283.9 509.3 L284.4 507.6 L284.9 505.9 L285.4 504.1 L285.9 502.3 L286.4 500.4 L286.9 498.4 L287.4 496.3 L287.9 494.2 L288.4 492.0 L288.9 489.9 L289.4 487.7 L289.9 485.6 L290.4 483.5 L290.9 481.4 L291.4 479.4 L291.9 477.5 L292.4 475.7 L292.9 473.9 L293.4 472.3 L293.9 470.7 L294.4 469.2 L294.9 467.7 L295.4 466.3 L295.9 464.9 L296.4 463.6 L296.9 462.4 L297.4 461.2 L297.9 460.0 L298.4 459.0 L298.9 457.9 L299.4 456.9 L299.9 456.0 L300.4 455.1 L300.9 454.3 L301.4 453.6 L301.9 453.1 L302.4 452.8 L302.9 452.3 L303.4 451.7 L303.9 451.0 L304.4 450.4 L304.9 449.7 L305.4 449.1 L305.9 448.5 L306.4 447.9 L306.9 447.4 L307.4 446.8 L307.9 446.3 L308.4 445.8 L308.9 445.3 L309.4 444.9 L309.9 444.5 L310.4 444.2 L310.9 444.0 L311.4 443.8 L311.9 443.4 L312.4 443.0 L312.9 442.6 L313.4 442.2 L313.9 441.9 L314.4 441.5 L314.9 441.2 L315.4 440.8 L315.9 440.5 L316.4 440.2 L316.9 439.9 L317.4 439.6 L317.9 439.3 L318.4 439.0 L318.9 438.8 L319.4 438.5 L319.9 438.3 L320.4 438.0 L320.9 437.8 L321.4 437.6 L321.9 437.4 L322.4 437.2 L322.9 437.0 L323.4 436.8 L323.9 436.6 L324.4 436.5 L324.9 436.3 L325.4 436.2 L325.9 436.0 L326.4 435.9 L326.9 435.7 L327.4 435.6 L327.9 435.5 L328.4 435.4 L328.9 435.2 L329.4 435.1 L329.9 435.0 L330.4 434.9 L330.9 434.8 L331.4 434.7 L331.9 434.6 L332.4 434.5 L332.9 434.4 L333.4 434.4 L333.9 434.3 L334.4 434.2 L334.9 434.1 L335.4 434.0 L335.9 433.9 L336.4 433.8 L336.9 433.5 L337.4 433.4 L337.9 433.3 L338.4 433.2 L338.9 433.1 L339.4 433.1 L339.9 433.0 L340.4 432.9 L340.9 432.9 L341.4 432.8 L341.9 432.8 L342.4 432.7 L342.9 432.7 L343.4 432.6 L343.9 432.5 L344.4 432.5 L344.9 432.4 L345.4 432.4 L345.9 432.3 L346.4 432.3 L346.9 432.2 L347.4 432.2 L347.9 432.2 L348.4 432.1 L348.9 432.1 L349.4 432.0 L349.9 432.0 L350.4 431.9 L350.9 431.9 L351.4 431.9 L351.9 431.8 L352.4 431.8 L352.9 431.7 L353.4 431.7 L353.9 431.7 L354.4 431.6 L354.9 431.6 L355.4 431.5 L355.9 431.5 L356.4 431.5 L356.9 431.4 L357.4 431.4 L357.9 431.4 L358.4 431.3 L358.9 431.3 L359.4 431.3 L359.9 431.3 L360.4 431.2 L360.9 431.2 L361.4 431.2 L361.9 431.1 L362.4 431.1 L362.9 431.1 L363.4 431.0 L363.9 431.0 L364.4 431.0 L364.9 431.0 L365.4 430.9 L365.9 430.9 L366.4 430.9 L366.9 430.9 L367.4 430.8 L367.9 430.8 L368.4 430.8 L368.9 430.8 L369.4 430.7 L369.9 430.7 L370.4 430.7 L370.9 430.7 L371.4 430.7 L371.9 430.6 L372.4 430.6 L372.9 430.6 L373.4 430.6 L373.9 430.6 L374.4 430.5 L374.9 430.5 L375.4 430.5 L375.9 430.5 L376.4 430.5 L376.9 430.5 L377.4 430.5 L377.9 430.5 L378.4 430.4 L378.9 430.4 L379.4 430.4 L379.9 430.4 L380.4 430.4 L380.9 430.4 L381.4 430.4 L381.9 430.4 L382.4 430.4 L382.9 430.4 L383.4 430.4 L383.9 430.4 L384.4 430.4 L384.9 430.3 L385.4 430.3 L385.9 430.3 L386.4 430.3 L386.9 430.3 L387.4 430.3 L387.9 430.3 L388.4 430.3 L388.9 430.3 L389.4 430.3 L389.9 430.3 L390.4 430.3 L390.9 430.3 L391.4 430.3 L391.9 430.3 L392.4 430.3 L392.9 430.3 L393.4 430.3 L393.9 430.3 L394.4 430.3 L394.9 430.3 L395.4 430.3 L395.9 430.3 L396.4 430.3 L396.9 430.3 L397.4 430.3 L397.9 430.3 L398.4 430.3 L398.9 430.3 L399.4 430.3 L399.9 430.3 L400.4 430.3 L400.9 430.3 L401.0 430.3"/>
<path d="M505.8 116.7 L506.3 116.7 L506.8 116.7 L507.3 116.7 L507.8 116.7 L508.3 116.7 L508.8 116.7 L509.3 116.7 L509.8 116.7 L510.3 116.7 L510.8 116.7 L511.3 116.7 L511.8 116.7 L512.3 116.7 L512.8 116.7 L513.3 116.7 L513.8 116.7 L514.3 116.7 L514.8 116.7 L515.3 116.7 L515.8 116.7 L516.3 116.7 L516.8 116.7 L517.3 116.7 L517.8 116.7 L518.3 116.7 L518.8 116.7 L519.3 116.7 L519.8 116.7 L520.3 116.7 L520.8 116.7 L521.3 116.7 L521.8 116.7 L522.3 116.7 L522.8 116.7 L523.3 116.7 L523.8 116.7 L524.3 116.7 L524.8 116.7 L525.3 116.7 L525.8 116.7 L526.3 116.7 L526.8 116.7 L527.3 116.7 L527.8 116.7 L528.3 116.7 L528.8 116.7 L529.3 116.7 L529.8 116.7 L530.3 116.7 L530.8 116.7 L531.3 116.7 L531.8 116.7 L532.3 116.7 L532.8 116.7 L533.3 116.7 L533.8 116.7 L534.3 116.7 L534.8 116.7 L535.3 116.7 L535.8 116.7 L536.3 116.7 L536.8 116.8 L537.3 116.8 L537.8 116.8 L538.3 116.8 L538.8 116.8 L539.3 116.8 L539.8 116.9 L540.3 116.9 L540.8 116.9 L541.3 116.9 L541.8 117.0 L542.3 117.0 L542.8 117.0 L543.3 117.1 L543.8 117.1 L544.3 117.1 L544.8 117.2 L545.3 117.2 L545.8 117.2 L546.3 117.3 L546.8 117.3 L547.3 117.3 L547.8 117.4 L548.3 117.4 L548.8 117.5 L549.3 117.5 L549.8 117.6 L550.3 117.6 L550.8 117.7 L551.3 117.8 L551.8 117.8 L552.3 117.9 L552.8 118.0 L553.3 118.1 L553.8 118.2 L554.3 118.3 L554.8 118.4 L555.3 118.5 L555.8 118.6 L556.3 118.8 L556.8 118.9 L557.3 119.1 L557.8 119.2 L558.3 119.4 L558.8 119.5 L559.3 119.7 L559.8 119.9 L560.3 120.1 L560.8 120.2 L561.3 120.4 L561.8 120.7 L562.3 120.9 L562.8 121.1 L563.3 121.4 L563.8 121.7 L564.3 122.0 L564.8 122.3 L565.3 122.7 L565.8 123.0 L566.3 123.4 L566.8 123.8 L567.3 124.3 L567.8 124.7 L568.3 125.2 L568.8 125.6 L569.3 126.1 L569.8 126.5 L570.3 127.0 L570.8 127.5 L571.3 127.9 L571.8 128.4 L572.3 128.9 L572.8 129.3 L573.3 129.8 L573.8 130.3 L574.3 130.8 L574.8 131.2 L575.3 131.7 L575.8 132.1 L576.3 132.6 L576.8 133.0 L577.3 133.4 L577.8 133.8 L578.3 134.2 L578.8 134.5 L579.3 134.8 L579.8 135.1 L580.3 135.4 L580.8 135.7 L581.3 135.9 L581.8 136.1 L582.3 136.3 L582.8 136.4 L583.3 136.6 L583.8 136.6 L584.3 136.7 L584.8 136.7 L585.3 136.6 L585.8 136.5 L586.3 136.4 L586.8 136.2 L587.3 136.0 L587.8 135.7 L588.3 135.4 L588.8 135.1 L589.3 134.8 L589.8 134.4 L590.3 134.0 L590.8 133.5 L591.3 133.1 L591.8 132.6 L592.3 132.1 L592.8 131.5 L593.3 131.0 L593.8 130.4 L594.3 129.8 L594.8 129.2 L595.3 128.6 L595.8 128.1 L596.3 127.5 L596.8 127.0 L597.3 126.5 L597.8 126.0 L598.3 125.6 L598.8 125.2 L599.3 124.8 L599.8 124.4 L600.3 124.0 L600.8 123.6 L601.3 123.2 L601.8 122.9 L602.3 122.6 L602.8 122.3 L603.3 122.0 L603.8 121.7 L604.3 121.4 L604.8 121.2 L605.3 120.9 L605.8 120.7 L606.3 120.5 L606.8 120.3 L607.3 120.1 L607.8 119.9 L608.3 119.7 L608.8 119.5 L609.3 119.3 L609.8 119.2 L610.3 119.0 L610.8 118.9 L611.3 118.7 L611.8 118.6 L612.3 118.5 L612.8 118.3 L613.3 118.2 L613.8 118.1 L614.3 118.0 L614.8 117.9 L615.3 117.8 L615.8 117.8 L616.3 117.7 L616.8 117.6 L617.3 117.6 L617.8 117.5 L618.3 117.5 L618.8 117.4 L619.3 117.4 L619.8 117.3 L620.3 117.3 L620.8 117.3 L621.3 117.2 L621.8 117.2 L622.3 117.2 L622.8 117.1 L623.3 117.1 L623.8 117.1 L624.3 117.0 L624.8 117.0 L625.3 117.0 L625.8 116.9 L626.3 116.9 L626.8 116.9 L627.3 116.9 L627.8 116.8 L628.3 116.8 L628.8 116.8 L629.3 116.8 L629.8 116.8 L630.3 116.8 L630.8 116.7 L631.3 116.7 L631.8 116.7 L632.3 116.7 L632.8 116.7 L633.3 116.7 L633.8 116.7 L634.3 116.7 L634.8 116.7 L635.3 116.7 L635.8 116.7 L636.3 116.7 L636.8 116.7 L637.3 116.7 L637.8 116.7 L638.3 116.7 L638.8 116.7 L639.3 116.7 L639.8 116.7 L640.3 116.7 L640.8 116.7 L641.3 116.7 L641.8 116.7 L642.3 116.7 L642.8 116.7 L643.3 116.7 L643.8 116.7 L644.3 116.7 L644.8 116.7 L645.3 116.7 L645.8 116.7 L646.3 116.7 L646.8 116.7 L647.3 116.7 L647.8 116.7 L648.3 116.7 L648.8 116.7 L649.3 116.7 L649.8 116.7 L650.3 116.7 L650.8 116.7 L651.3 116.7 L651.8 116.7 L652.3 116.7 L652.8 116.7 L653.3 116.7 L653.8 116.7 L654.3 116.7 L654.8 116.7 L655.3 116.7 L655.8 116.7 L656.3 116.7 L656.8 116.7 L657.3 116.7 L657.8 116.7 L658.3 116.7 L658.8 116.7 L659.3 116.7 L659.8 116.7 L660.3 116.7 L660.8 116.7 L661.3 116.7 L661.8 116.7 L662.3 116.7 L662.8 116.7 L663.3 116.7 L663.8 116.7 L664.3 116.7 L664.8 116.7 L665.3 116.7 L665.8 116.7 L666.3 116.7 L666.6 116.7"/>
<path d="M505.8 169.5 L506.3 169.5 L506.8 169.5 L507.3 169.5 L507.8 169.5 L508.3 169.5 L508.8 169.5 L509.3 169.5 L509.8 169.5 L510.3 169.5 L510.8 169.5 L511.3 169.6 L511.8 169.6 L512.3 169.6 L512.8 169.6 L513.3 169.6 L513.8 169.6 L514.3 169.6 L514.8 169.6 L515.3 169.6 L515.8 169.6 L516.3 169.6 L516.8 169.6 L517.3 169.6 L517.8 169.6 L518.3 169.6 L518.8 169.7 L519.3 169.7 L519.8 169.7 L520.3 169.7 L520.8 169.7 L521.3 169.7 L521.8 169.7 L522.3 169.7 L522.8 169.7 L523.3 169.7 L523.8 169.7 L524.3 169.8 L524.8 169.8 L525.3 169.8 L525.8 169.8 L526.3 169.8 L526.8 169.8 L527.3 169.8 L527.8 169.8 L528.3 169.9 L528.8 169.9 L529.3 169.9 L529.8 169.9 L530.3 169.9 L530.8 169.9 L531.3 169.9 L531.8 169.9 L532.3 169.9 L532.8 170.0 L533.3 170.0 L533.8 170.0 L534.3 170.0 L534.8 170.0 L535.3 170.0 L535.8 170.0 L536.3 170.0 L536.8 170.1 L537.3 170.1 L537.8 170.1 L538.3 170.1 L538.8 170.1 L539.3 170.1 L539.8 170.2 L540.3 170.2 L540.8 170.2 L541.3 170.2 L541.8 170.2 L542.3 170.2 L542.8 170.3 L543.3 170.3 L543.8 170.3 L544.3 170.3 L544.8 170.4 L545.3 170.4 L545.8 170.4 L546.3 170.4 L546.8 170.5 L547.3 170.5 L547.8 170.5 L548.3 170.6 L548.8 170.6 L549.3 170.6 L549.8 170.7 L550.3 170.7 L550.8 170.7 L551.3 170.8 L551.8 170.8 L552.3 170.9 L552.8 170.9 L553.3 171.0 L553.8 171.1 L554.3 171.1 L554.8 171.2 L555.3 171.3 L555.8 171.4 L556.3 171.6 L556.8 171.7 L557.3 171.8 L557.8 172.0 L558.3 172.1 L558.8 172.3 L559.3 172.4 L559.8 172.6 L560.3 172.8 L560.8 173.0 L561.3 173.2 L561.8 173.4 L562.3 173.6 L562.8 173.8 L563.3 174.0 L563.8 174.3 L564.3 174.5 L564.8 174.8 L565.3 175.1 L565.8 175.5 L566.3 175.8 L566.8 176.2 L567.3 176.6 L567.8 177.0 L568.3 177.5 L568.8 178.0 L569.3 178.5 L569.8 179.1 L570.3 179.6 L570.8 180.2 L571.3 180.9 L571.8 181.6 L572.3 182.3 L572.8 183.1 L573.3 183.9 L573.8 184.8 L574.3 185.8 L574.8 186.8 L575.3 187.9 L575.8 189.1 L576.3 190.2 L576.8 191.4 L577.3 192.6 L577.8 193.8 L578.3 195.0 L578.8 196.1 L579.3 197.3 L579.8 198.4 L580.3 199.5 L580.8 200.5 L581.3 201.6 L581.8 202.5 L582.3 203.4 L582.8 204.2 L583.3 204.9 L583.8 205.5 L584.3 206.0 L584.8 206.4 L585.3 206.5 L585.8 206.6 L586.3 206.4 L586.8 206.1 L587.3 205.7 L587.8 205.1 L588.3 204.4 L588.8 203.5 L589.3 202.6 L589.8 201.5 L590.3 200.3 L590.8 199.0 L591.3 197.7 L591.8 196.3 L592.3 195.0 L592.8 193.6 L593.3 192.2 L593.8 190.9 L594.3 189.6 L594.8 188.3 L595.3 187.0 L595.8 185.8 L596.3 184.6 L596.8 183.5 L597.3 182.4 L597.8 181.5 L598.3 180.6 L598.8 179.8 L599.3 179.1 L599.8 178.4 L600.3 177.8 L600.8 177.3 L601.3 176.8 L601.8 176.3 L602.3 175.8 L602.8 175.4 L603.3 175.0 L603.8 174.6 L604.3 174.3 L604.8 174.0 L605.3 173.7 L605.8 173.5 L606.3 173.2 L606.8 173.0 L607.3 172.9 L607.8 172.7 L608.3 172.5 L608.8 172.4 L609.3 172.3 L609.8 172.1 L610.3 172.0 L610.8 171.9 L611.3 171.8 L611.8 171.6 L612.3 171.5 L612.8 171.4 L613.3 171.3 L613.8 171.2 L614.3 171.2 L614.8 171.1 L615.3 171.0 L615.8 170.9 L616.3 170.8 L616.8 170.8 L617.3 170.7 L617.8 170.7 L618.3 170.6 L618.8 170.6 L619.3 170.5 L619.8 170.5 L620.3 170.4 L620.8 170.4 L621.3 170.3 L621.8 170.3 L622.3 170.3 L622.8 170.2 L623.3 170.2 L623.8 170.2 L624.3 170.2 L624.8 170.1 L625.3 170.1 L625.8 170.1 L626.3 170.0 L626.8 170.0 L627.3 170.0 L627.8 170.0 L628.3 170.0 L628.8 169.9 L629.3 169.9 L629.8 169.9 L630.3 169.9 L630.8 169.9 L631.3 169.8 L631.8 169.8 L632.3 169.8 L632.8 169.8 L633.3 169.8 L633.8 169.7 L634.3 169.7 L634.8 169.7 L635.3 169.7 L635.8 169.7 L636.3 169.7 L636.8 169.6 L637.3 169.6 L637.8 169.6 L638.3 169.6 L638.8 169.6 L639.3 169.6 L639.8 169.6 L640.3 169.5 L640.8 169.5 L641.3 169.5 L641.8 169.5 L642.3 169.5 L642.8 169.5 L643.3 169.4 L643.8 169.4 L644.3 169.4 L644.8 169.4 L645.3 169.4 L645.8 169.4 L646.3 169.4 L646.8 169.3 L647.3 169.3 L647.8 169.3 L648.3 169.3 L648.8 169.3 L649.3 169.3 L649.8 169.3 L650.3 169.2 L650.8 169.2 L651.3 169.2 L651.8 169.2 L652.3 169.2 L652.8 169.2 L653.3 169.2 L653.8 169.1 L654.3 169.1 L654.8 169.1 L655.3 169.1 L655.8 169.1 L656.3 169.1 L656.8 169.1 L657.3 169.1 L657.8 169.0 L658.3 169.0 L658.8 169.0 L659.3 169.0 L659.8 169.0 L660.3 169.0 L660.8 169.0 L661.3 169.0 L661.8 169.0 L662.3 169.0 L662.8 168.9 L663.3 168.9 L663.8 168.9 L664.3 168.9 L664.8 168.9 L665.3 168.9 L665.8 168.9 L666.3 168.9 L666.6 168.9"/>
<path d="M505.8 221.5 L506.3 221.5 L506.8 221.5 L507.3 221.5 L507.8 221.5 L508.3 221.5 L508.8 221.5 L509.3 221.5 L509.8 221.5 L510.3 221.5 L510.8 221.5 L511.3 221.5 L511.8 221.5 L512.3 221.5 L512.8 221.5 L513.3 221.5 L513.8 221.5 L514.3 221.5 L514.8 221.5 L515.3 221.5 L515.8 221.5 L516.3 221.5 L516.8 221.5 L517.3 221.5 L517.8 221.5 L518.3 221.5 L518.8 221.5 L519.3 221.5 L519.8 221.5 L520.3 221.5 L520.8 221.5 L521.3 221.5 L521.8 221.5 L522.3 221.5 L522.8 221.5 L523.3 221.5 L523.8 221.5 L524.3 221.5 L524.8 221.5 L525.3 221.6 L525.8 221.6 L526.3 221.6 L526.8 221.6 L527.3 221.6 L527.8 221.6 L528.3 221.6 L528.8 221.6 L529.3 221.6 L529.8 221.6 L530.3 221.6 L530.8 221.6 L531.3 221.6 L531.8 221.6 L532.3 221.6 L532.8 221.6 L533.3 221.6 L533.8 221.6 L534.3 221.6 L534.8 221.6 L535.3 221.6 L535.8 221.6 L536.3 221.7 L536.8 221.7 L537.3 221.7 L537.8 221.7 L538.3 221.7 L538.8 221.7 L539.3 221.7 L539.8 221.7 L540.3 221.7 L540.8 221.7 L541.3 221.7 L541.8 221.7 L542.3 221.7 L542.8 221.7 L543.3 221.8 L543.8 221.8 L544.3 221.8 L544.8 221.8 L545.3 221.8 L545.8 221.8 L546.3 221.8 L546.8 221.9 L547.3 221.9 L547.8 221.9 L548.3 221.9 L548.8 221.9 L549.3 221.9 L549.8 222.0 L550.3 222.0 L550.8 222.0 L551.3 222.0 L551.8 222.1 L552.3 222.1 L552.8 222.1 L553.3 222.1 L553.8 222.2 L554.3 222.2 L554.8 222.2 L555.3 222.3 L555.8 222.3 L556.3 222.3 L556.8 222.4 L557.3 222.4 L557.8 222.5 L558.3 222.6 L558.8 222.6 L559.3 222.7 L559.8 222.8 L560.3 222.9 L560.8 223.1 L561.3 223.2 L561.8 223.3 L562.3 223.5 L562.8 223.6 L563.3 223.8 L563.8 224.0 L564.3 224.2 L564.8 224.4 L565.3 224.6 L565.8 224.8 L566.3 225.1 L566.8 225.4 L567.3 225.7 L567.8 226.1 L568.3 226.6 L568.8 227.0 L569.3 227.6 L569.8 228.2 L570.3 228.9 L570.8 229.6 L571.3 230.3 L571.8 231.2 L572.3 232.1 L572.8 233.1 L573.3 234.3 L573.8 235.6 L574.3 237.1 L574.8 238.8 L575.3 240.6 L575.8 242.6 L576.3 244.8 L576.8 247.1 L577.3 249.7 L577.8 252.4 L578.3 255.4 L578.8 258.6 L579.3 262.1 L579.8 265.7 L580.3 269.4 L580.8 273.4 L581.3 277.5 L581.8 281.6 L582.3 285.7 L582.8 289.5 L583.3 292.7 L583.8 295.3 L584.3 297.1 L584.8 298.1 L585.3 298.2 L585.8 297.6 L586.3 296.2 L586.8 294.2 L587.3 291.6 L587.8 288.5 L588.3 285.1 L588.8 281.4 L589.3 277.7 L589.8 274.1 L590.3 270.6 L590.8 267.3 L591.3 264.0 L591.8 260.8 L592.3 257.8 L592.8 254.9 L593.3 252.2 L593.8 249.7 L594.3 247.3 L594.8 245.2 L595.3 243.1 L595.8 241.2 L596.3 239.4 L596.8 237.8 L597.3 236.3 L597.8 234.9 L598.3 233.6 L598.8 232.5 L599.3 231.5 L599.8 230.6 L600.3 229.7 L600.8 228.9 L601.3 228.2 L601.8 227.5 L602.3 226.9 L602.8 226.4 L603.3 225.9 L603.8 225.5 L604.3 225.1 L604.8 224.8 L605.3 224.5 L605.8 224.3 L606.3 224.0 L606.8 223.8 L607.3 223.6 L607.8 223.4 L608.3 223.2 L608.8 223.0 L609.3 222.8 L609.8 222.6 L610.3 222.5 L610.8 222.4 L611.3 222.3 L611.8 222.2 L612.3 222.1 L612.8 222.0 L613.3 222.0 L613.8 221.9 L614.3 221.9 L614.8 221.9 L615.3 221.9 L615.8 221.8 L616.3 221.8 L616.8 221.8 L617.3 221.8 L617.8 221.8 L618.3 221.8 L618.8 221.7 L619.3 221.7 L619.8 221.7 L620.3 221.7 L620.8 221.7 L621.3 221.7 L621.8 221.7 L622.3 221.7 L622.8 221.7 L623.3 221.6 L623.8 221.6 L624.3 221.6 L624.8 221.6 L625.3 221.6 L625.8 221.6 L626.3 221.6 L626.8 221.6 L627.3 221.6 L627.8 221.6 L628.3 221.6 L628.8 221.5 L629.3 221.5 L629.8 221.5 L630.3 221.5 L630.8 221.5 L631.3 221.5 L631.8 221.5 L632.3 221.5 L632.8 221.5 L633.3 221.5 L633.8 221.5 L634.3 221.5 L634.8 221.5 L635.3 221.5 L635.8 221.5 L636.3 221.5 L636.8 221.5 L637.3 221.5 L637.8 221.5 L638.3 221.5 L638.8 221.5 L639.3 221.5 L639.8 221.5 L640.3 221.5 L640.8 221.5 L641.3 221.5 L641.8 221.5 L642.3 221.5 L642.8 221.5 L643.3 221.5 L643.8 221.5 L644.3 221.5 L644.8 221.5 L645.3 221.5 L645.8 221.5 L646.3 221.5 L646.8 221.5 L647.3 221.5 L647.8 221.5 L648.3 221.5 L648.8 221.5 L649.3 221.5 L649.8 221.5 L650.3 221.5 L650.8 221.5 L651.3 221.5 L651.8 221.5 L652.3 221.5 L652.8 221.5 L653.3 221.5 L653.8 221.5 L654.3 221.5 L654.8 221.5 L655.3 221.5 L655.8 221.5 L656.3 221.5 L656.8 221.5 L657.3 221.5 L657.8 221.5 L658.3 221.5 L658.8 221.5 L659.3 221.5 L659.8 221.5 L660.3 221.5 L660.8 221.5 L661.3 221.5 L661.8 221.5 L662.3 221.5 L662.8 221.5 L663.3 221.5 L663.8 221.5 L664.3 221.5 L664.8 221.5 L665.3 221.5 L665.8 221.5 L666.3 221.5 L666.6 221.5"/>
<path d="M525.9 325.4 L526.4 325.4 L526.9 325.4 L527.4 325.4 L527.9 325.4 L528.4 325.4 L528.9 325.4 L529.4 325.4 L529.9 325.4 L530.4 325.4 L530.9 325.4 L531.4 325.4 L531.9 325.4 L532.4 325.4 L532.9 325.4 L533.4 325.4 L533.9 325.4 L534.4 325.4 L534.9 325.4 L535.4 325.4 L535.9 325.4 L536.4 325.4 L536.9 325.4 L537.4 325.4 L537.9 325.4 L538.4 325.4 L538.9 325.4 L539.4 325.4 L539.9 325.4 L540.4 325.4 L540.9 325.4 L541.4 325.4 L541.9 325.4 L542.4 325.4 L542.9 325.4 L543.4 325.4 L543.9 325.4 L544.4 325.4 L544.9 325.4 L545.4 325.4 L545.9 325.4 L546.4 325.4 L546.9 325.5 L547.4 325.5 L547.9 325.5 L548.4 325.5 L548.9 325.5 L549.4 325.5 L549.9 325.5 L550.4 325.5 L550.9 325.5 L551.4 325.6 L551.9 325.6 L552.4 325.6 L552.9 325.7 L553.4 325.7 L553.9 325.8 L554.4 325.8 L554.9 325.9 L555.4 325.9 L555.9 326.0 L556.4 326.0 L556.9 326.1 L557.4 326.2 L557.9 326.3 L558.4 326.3 L558.9 326.4 L559.4 326.5 L559.9 326.6 L560.4 326.7 L560.9 326.8 L561.4 327.0 L561.9 327.1 L562.4 327.2 L562.9 327.4 L563.4 327.6 L563.9 327.7 L564.4 327.9 L564.9 328.1 L565.4 328.3 L565.9 328.5 L566.4 328.7 L566.9 328.9 L567.4 329.2 L567.9 329.4 L568.4 329.6 L568.9 329.9 L569.4 330.1 L569.9 330.4 L570.4 330.7 L570.9 331.0 L571.4 331.3 L571.9 331.6 L572.4 331.9 L572.9 332.3 L573.4 332.6 L573.9 333.0 L574.4 333.4 L574.9 333.8 L575.4 334.2 L575.9 334.6 L576.4 335.0 L576.9 335.5 L577.4 335.9 L577.9 336.4 L578.4 336.9 L578.9 337.3 L579.4 337.8 L579.9 338.2 L580.4 338.6 L580.9 339.0 L581.4 339.3 L581.9 339.6 L582.4 339.9 L582.9 340.2 L583.4 340.4 L583.9 340.6 L584.4 340.7 L584.9 340.8 L585.4 340.9 L585.9 340.9 L586.4 340.8 L586.9 340.7 L587.4 340.5 L587.9 340.2 L588.4 339.9 L588.9 339.5 L589.4 339.1 L589.9 338.6 L590.4 338.1 L590.9 337.5 L591.4 336.9 L591.9 336.3 L592.4 335.6 L592.9 335.0 L593.4 334.3 L593.9 333.7 L594.4 333.1 L594.9 332.5 L595.4 332.0 L595.9 331.5 L596.4 331.1 L596.9 330.7 L597.4 330.3 L597.9 330.0 L598.4 329.6 L598.9 329.3 L599.4 329.1 L599.9 328.8 L600.4 328.6 L600.9 328.3 L601.4 328.1 L601.9 328.0 L602.4 327.8 L602.9 327.6 L603.4 327.4 L603.9 327.3 L604.4 327.2 L604.9 327.0 L605.4 326.9 L605.9 326.8 L606.4 326.7 L606.9 326.6 L607.4 326.5 L607.9 326.4 L608.4 326.3 L608.9 326.2 L609.4 326.2 L609.9 326.1 L610.4 326.1 L610.9 326.0 L611.4 326.0 L611.9 325.9 L612.4 325.9 L612.9 325.9 L613.4 325.8 L613.9 325.8 L614.4 325.8 L614.9 325.8 L615.4 325.8 L615.9 325.7 L616.4 325.7 L616.9 325.7 L617.4 325.7 L617.9 325.7 L618.4 325.6 L618.9 325.6 L619.4 325.6 L619.9 325.6 L620.4 325.6 L620.9 325.6 L621.4 325.6 L621.9 325.5 L622.4 325.5 L622.9 325.5 L623.4 325.5 L623.9 325.5 L624.4 325.5 L624.9 325.5 L625.4 325.5 L625.9 325.4 L626.4 325.4 L626.9 325.4 L627.4 325.4 L627.9 325.4 L628.4 325.4 L628.9 325.4 L629.4 325.4 L629.9 325.3 L630.4 325.3 L630.9 325.3 L631.4 325.3 L631.9 325.3 L632.4 325.3 L632.9 325.3 L633.4 325.3 L633.9 325.3 L634.4 325.2 L634.9 325.2 L635.4 325.2 L635.9 325.2 L636.4 325.2 L636.9 325.2 L637.4 325.2 L637.9 325.2 L638.4 325.2 L638.9 325.2 L639.4 325.2 L639.9 325.1 L640.4 325.1 L640.9 325.1 L641.4 325.1 L641.9 325.1 L642.4 325.1 L642.9 325.1 L643.4 325.1 L643.9 325.1 L644.4 325.1 L644.9 325.1 L645.4 325.1 L645.9 325.1 L646.4 325.1 L646.5 325.1"/>
<path d="M525.9 377.8 L526.4 377.8 L526.9 377.8 L527.4 377.8 L527.9 377.8 L528.4 377.8 L528.9 377.8 L529.4 377.8 L529.9 377.8 L530.4 377.8 L530.9 377.8 L531.4 377.8 L531.9 377.8 L532.4 377.8 L532.9 377.8 L533.4 377.8 L533.9 377.8 L534.4 377.8 L534.9 377.8 L535.4 377.8 L535.9 377.8 L536.4 377.8 L536.9 377.8 L537.4 377.8 L537.9 377.8 L538.4 377.8 L538.9 377.8 L539.4 377.8 L539.9 377.8 L540.4 377.8 L540.9 377.8 L541.4 377.8 L541.9 377.8 L542.4 377.8 L542.9 377.8 L543.4 377.8 L543.9 377.8 L544.4 377.8 L544.9 377.8 L545.4 377.8 L545.9 377.8 L546.4 377.8 L546.9 377.8 L547.4 377.8 L547.9 377.8 L548.4 377.8 L548.9 377.8 L549.4 377.8 L549.9 377.8 L550.4 377.8 L550.9 377.8 L551.4 377.8 L551.9 377.8 L552.4 377.8 L552.9 377.8 L553.4 377.8 L553.9 377.8 L554.4 377.8 L554.9 377.8 L555.4 377.8 L555.9 377.8 L556.4 377.8 L556.9 377.8 L557.4 377.8 L557.9 377.8 L558.4 377.8 L558.9 377.8 L559.4 377.8 L559.9 377.8 L560.4 377.8 L560.9 377.8 L561.4 377.8 L561.9 377.8 L562.4 377.8 L562.9 377.8 L563.4 377.8 L563.9 377.8 L564.4 377.8 L564.9 377.8 L565.4 377.8 L565.9 377.8 L566.4 377.9 L566.9 377.9 L567.4 377.9 L567.9 377.9 L568.4 377.9 L568.9 377.9 L569.4 377.9 L569.9 377.9 L570.4 377.9 L570.9 377.9 L571.4 378.0 L571.9 378.0 L572.4 378.1 L572.9 378.2 L573.4 378.4 L573.9 378.7 L574.4 379.0 L574.9 379.4 L575.4 379.9 L575.9 380.5 L576.4 381.1 L576.9 381.8 L577.4 382.5 L577.9 383.3 L578.4 384.2 L578.9 385.2 L579.4 386.2 L579.9 387.3 L580.4 388.3 L580.9 389.4 L581.4 390.4 L581.9 391.4 L582.4 392.4 L582.9 393.3 L583.4 394.1 L583.9 394.7 L584.4 395.3 L584.9 395.7 L585.4 396.0 L585.9 396.2 L586.4 396.2 L586.9 396.0 L587.4 395.7 L587.9 395.3 L588.4 394.7 L588.9 393.9 L589.4 393.0 L589.9 392.0 L590.4 390.9 L590.9 389.7 L591.4 388.5 L591.9 387.4 L592.4 386.2 L592.9 385.1 L593.4 384.0 L593.9 383.0 L594.4 382.1 L594.9 381.3 L595.4 380.6 L595.9 379.9 L596.4 379.4 L596.9 378.9 L597.4 378.6 L597.9 378.4 L598.4 378.2 L598.9 378.2 L599.4 378.1 L599.9 378.1 L600.4 378.1 L600.9 378.0 L601.4 378.0 L601.9 378.0 L602.4 378.0 L602.9 378.0 L603.4 378.0 L603.9 378.0 L604.4 377.9 L604.9 377.9 L605.4 377.9 L605.9 377.9 L606.4 377.9 L606.9 377.9 L607.4 377.9 L607.9 377.9 L608.4 377.9 L608.9 377.9 L609.4 377.9 L609.9 377.8 L610.4 377.8 L610.9 377.8 L611.4 377.8 L611.9 377.8 L612.4 377.8 L612.9 377.8 L613.4 377.8 L613.9 377.8 L614.4 377.8 L614.9 377.8 L615.4 377.8 L615.9 377.8 L616.4 377.8 L616.9 377.8 L617.4 377.8 L617.9 377.8 L618.4 377.8 L618.9 377.8 L619.4 377.8 L619.9 377.8 L620.4 377.8 L620.9 377.8 L621.4 377.8 L621.9 377.8 L622.4 377.8 L622.9 377.8 L623.4 377.8 L623.9 377.8 L624.4 377.8 L624.9 377.8 L625.4 377.8 L625.9 377.8 L626.4 377.8 L626.9 377.8 L627.4 377.8 L627.9 377.8 L628.4 377.8 L628.9 377.8 L629.4 377.8 L629.9 377.8 L630.4 377.8 L630.9 377.8 L631.4 377.8 L631.9 377.8 L632.4 377.8 L632.9 377.8 L633.4 377.8 L633.9 377.8 L634.4 377.8 L634.9 377.8 L635.4 377.8 L635.9 377.8 L636.4 377.8 L636.9 377.8 L637.4 377.8 L637.9 377.8 L638.4 377.8 L638.9 377.8 L639.4 377.8 L639.9 377.8 L640.4 377.8 L640.9 377.8 L641.4 377.8 L641.9 377.8 L642.4 377.8 L642.9 377.8 L643.4 377.8 L643.9 377.8 L644.4 377.8 L644.9 377.8 L645.4 377.8 L645.9 377.8 L646.4 377.8 L646.5 377.8"/>
<path d="M525.9 487.0 L526.4 489.7 L526.9 493.1 L527.4 496.4 L527.9 499.5 L528.4 501.9 L528.9 503.6 L529.4 504.8 L529.9 505.5 L530.4 505.7 L530.9 505.5 L531.4 504.8 L531.9 503.5 L532.4 501.6 L532.9 499.1 L533.4 496.1 L533.9 492.6 L534.4 488.7 L534.9 484.8 L535.4 480.8 L535.9 476.9 L536.4 473.0 L536.9 469.4 L537.4 466.0 L537.9 462.9 L538.4 460.2 L538.9 457.7 L539.4 455.5 L539.9 453.4 L540.4 451.5 L540.9 449.7 L541.4 448.1 L541.9 446.5 L542.4 445.1 L542.9 443.8 L543.4 442.5 L543.9 441.4 L544.4 440.3 L544.9 439.4 L545.4 438.5 L545.9 437.7 L546.4 437.0 L546.9 436.4 L547.4 435.8 L547.9 435.2 L548.4 434.7 L548.9 434.3 L549.4 433.9 L549.9 433.5 L550.4 433.2 L550.9 433.0 L551.4 432.7 L551.9 432.5 L552.4 432.3 L552.9 432.1 L553.4 431.9 L553.9 431.8 L554.4 431.6 L554.9 431.5 L555.4 431.3 L555.9 431.2 L556.4 431.1 L556.9 431.0 L557.4 430.9 L557.9 430.9 L558.4 430.8 L558.9 430.7 L559.4 430.7 L559.9 430.6 L560.4 430.6 L560.9 430.5 L561.4 430.5 L561.9 430.4 L562.4 430.4 L562.9 430.4 L563.4 430.3 L563.9 430.3 L564.4 430.2 L564.9 430.2 L565.4 430.1 L565.9 430.1 L566.4 430.1 L566.9 430.0 L567.4 430.0 L567.9 430.0 L568.4 429.9 L568.9 429.9 L569.4 429.9 L569.9 429.9 L570.4 429.8 L570.9 429.8 L571.4 429.8 L571.9 429.8 L572.4 429.8 L572.9 429.7 L573.4 429.7 L573.9 429.7 L574.4 429.7 L574.9 429.7 L575.4 429.7 L575.9 429.7 L576.4 429.7 L576.9 429.7 L577.4 429.7 L577.9 429.7 L578.4 429.7 L578.9 429.7 L579.4 429.7 L579.9 429.7 L580.4 429.7 L580.9 429.7 L581.4 429.7 L581.9 429.7 L582.4 429.7 L582.9 429.7 L583.4 429.7 L583.9 429.7 L584.4 429.7 L584.9 429.7 L585.4 429.7 L585.9 429.7 L586.4 429.7 L586.9 429.7 L587.4 429.7 L587.9 429.7 L588.4 429.7 L588.9 429.7 L589.4 429.7 L589.9 429.7 L590.4 429.7 L590.9 429.7 L591.4 429.7 L591.9 429.7 L592.4 429.7 L592.9 429.7 L593.4 429.7 L593.9 429.7 L594.4 429.7 L594.9 429.7 L595.4 429.7 L595.9 429.7 L596.4 429.7 L596.9 429.7 L597.4 429.7 L597.9 429.7 L598.4 429.7 L598.9 429.7 L599.4 429.7 L599.9 429.7 L600.4 429.7 L600.9 429.7 L601.4 429.7 L601.9 429.7 L602.4 429.7 L602.9 429.7 L603.4 429.7 L603.9 429.7 L604.4 429.7 L604.9 429.7 L605.4 429.7 L605.9 429.7 L606.4 429.7 L606.9 429.7 L607.4 429.7 L607.9 429.7 L608.4 429.7 L608.9 429.7 L609.4 429.7 L609.9 429.7 L610.4 429.7 L610.9 429.7 L611.4 429.7 L611.9 429.7 L612.4 429.7 L612.9 429.7 L613.4 429.7 L613.9 429.7 L614.4 429.7 L614.9 429.7 L615.4 429.7 L615.9 429.7 L616.4 429.7 L616.9 429.7 L617.4 429.7 L617.9 429.7 L618.4 429.7 L618.9 429.7 L619.4 429.7 L619.9 429.7 L620.4 429.7 L620.9 429.7 L621.4 429.7 L621.9 429.7 L622.4 429.7 L622.9 429.7 L623.4 429.7 L623.9 429.7 L624.4 429.7 L624.9 429.7 L625.4 429.7 L625.9 429.7 L626.4 429.7 L626.9 429.7 L627.4 429.7 L627.9 429.7 L628.4 429.7 L628.9 429.7 L629.4 429.7 L629.9 429.7 L630.4 429.7 L630.9 429.7 L631.4 429.7 L631.9 429.7 L632.4 429.7 L632.9 429.7 L633.4 429.7 L633.9 429.7 L634.4 429.7 L634.9 429.7 L635.4 429.7 L635.9 429.7 L636.4 429.7 L636.9 429.7 L637.4 429.7 L637.9 429.7 L638.4 429.7 L638.9 429.7 L639.4 429.7 L639.9 429.7 L640.4 429.7 L640.9 429.7 L641.4 429.7 L641.9 429.7 L642.4 429.7 L642.9 429.7 L643.4 429.7 L643.9 429.7 L644.4 429.7 L644.9 429.7 L645.4 429.7 L645.9 429.7 L646.4 429.7 L646.5 429.7"/>
<path d="M525.9 484.4 L526.4 484.4 L526.9 484.4 L527.4 484.3 L527.9 484.3 L528.4 484.3 L528.9 484.3 L529.4 484.3 L529.9 484.3 L530.4 484.2 L530.9 484.2 L531.4 484.2 L531.9 484.2 L532.4 484.2 L532.9 484.1 L533.4 484.1 L533.9 484.1 L534.4 484.1 L534.9 484.1 L535.4 484.1 L535.9 484.0 L536.4 484.0 L536.9 484.0 L537.4 484.0 L537.9 484.0 L538.4 484.0 L538.9 483.9 L539.4 483.9 L539.9 483.9 L540.4 483.9 L540.9 483.9 L541.4 483.9 L541.9 483.8 L542.4 483.8 L542.9 483.8 L543.4 483.8 L543.9 483.8 L544.4 483.8 L544.9 483.7 L545.4 483.7 L545.9 483.7 L546.4 483.7 L546.9 483.7 L547.4 483.7 L547.9 483.7 L548.4 483.6 L548.9 483.6 L549.4 483.6 L549.9 483.6 L550.4 483.6 L550.9 483.6 L551.4 483.6 L551.9 483.5 L552.4 483.5 L552.9 483.5 L553.4 483.5 L553.9 483.5 L554.4 483.5 L554.9 483.5 L555.4 483.4 L555.9 483.4 L556.4 483.4 L556.9 483.4 L557.4 483.4 L557.9 483.4 L558.4 483.4 L558.9 483.3 L559.4 483.3 L559.9 483.3 L560.4 483.3 L560.9 483.3 L561.4 483.3 L561.9 483.3 L562.4 483.3 L562.9 483.2 L563.4 483.2 L563.9 483.2 L564.4 483.2 L564.9 483.2 L565.4 483.2 L565.9 483.2 L566.4 483.1 L566.9 483.1 L567.4 483.1 L567.9 483.1 L568.4 483.1 L568.9 483.1 L569.4 483.1 L569.9 483.1 L570.4 483.0 L570.9 483.0 L571.4 483.0 L571.9 483.0 L572.4 483.0 L572.9 483.0 L573.4 483.0 L573.9 483.0 L574.4 482.9 L574.9 482.9 L575.4 482.9 L575.9 482.9 L576.4 482.9 L576.9 482.9 L577.4 482.9 L577.9 482.9 L578.4 482.9 L578.9 482.8 L579.4 482.8 L579.9 482.8 L580.4 482.8 L580.9 482.8 L581.4 482.8 L581.9 482.8 L582.4 482.8 L582.9 482.8 L583.4 482.7 L583.9 482.7 L584.4 482.7 L584.9 482.7 L585.4 482.7 L585.9 482.7 L586.4 482.7 L586.9 482.7 L587.4 482.7 L587.9 482.7 L588.4 482.7 L588.9 482.6 L589.4 482.6 L589.9 482.6 L590.4 482.6 L590.9 482.6 L591.4 482.6 L591.9 482.6 L592.4 482.6 L592.9 482.6 L593.4 482.6 L593.9 482.6 L594.4 482.5 L594.9 482.5 L595.4 482.5 L595.9 482.5 L596.4 482.5 L596.9 482.5 L597.4 482.5 L597.9 482.5 L598.4 482.5 L598.9 482.5 L599.4 482.5 L599.9 482.5 L600.4 482.5 L600.9 482.5 L601.4 482.4 L601.9 482.4 L602.4 482.4 L602.9 482.4 L603.4 482.4 L603.9 482.4 L604.4 482.4 L604.9 482.4 L605.4 482.4 L605.9 482.4 L606.4 482.4 L606.9 482.4 L607.4 482.4 L607.9 482.4 L608.4 482.3 L608.9 482.3 L609.4 482.3 L609.9 482.3 L610.4 482.3 L610.9 482.3 L611.4 482.3 L611.9 482.3 L612.4 482.3 L612.9 482.3 L613.4 482.3 L613.9 482.3 L614.4 482.3 L614.9 482.3 L615.4 482.3 L615.9 482.2 L616.4 482.2 L616.9 482.2 L617.4 482.2 L617.9 482.2 L618.4 482.2 L618.9 482.2 L619.4 482.2 L619.9 482.2 L620.4 482.2 L620.9 482.2 L621.4 482.2 L621.9 482.2 L622.4 482.1 L622.9 482.1 L623.4 482.1 L623.9 482.1 L624.4 482.1 L624.9 482.1 L625.4 482.1 L625.9 482.1 L626.4 482.1 L626.9 482.1 L627.4 482.1 L627.9 482.1 L628.4 482.1 L628.9 482.0 L629.4 482.0 L629.9 482.0 L630.4 482.0 L630.9 482.0 L631.4 482.0 L631.9 482.0 L632.4 482.0 L632.9 482.0 L633.4 482.0 L633.9 482.0 L634.4 481.9 L634.9 481.9 L635.4 481.9 L635.9 481.9 L636.4 481.9 L636.9 481.9 L637.4 481.9 L637.9 481.9 L638.4 481.9 L638.9 481.9 L639.4 481.9 L639.9 481.8 L640.4 481.8 L640.9 481.8 L641.4 481.8 L641.9 481.8 L642.4 481.8 L642.9 481.8 L643.4 481.8 L643.9 481.8 L644.4 481.8 L644.9 481.8 L645.4 481.7 L645.9 481.7 L646.4 481.7 L646.5 481.7"/>
</g>
<g stroke="#000" stroke-width="3.20">
<path d="M242.6 116.8 L243.6 117.2 L244.1 116.7 L245.6 117.8 L246.5 118.5 L247.1 119.6 L248.6 118.5 L249.4 117.7 L250.1 114.0 L251.6 112.6 L253.1 114.2 L254.2 119.1 L256.1 120.7 L257.1 121.0 L257.6 120.9 L259.1 120.8 L260.0 119.7 L260.6 119.2 L262.1 120.0 L262.9 120.1 L263.6 123.3 L264.8 126.8 L266.6 129.9 L267.7 132.6 L269.6 134.2 L271.1 136.1 L272.6 137.9 L274.1 138.5 L275.4 141.3 L277.1 142.6 L278.3 142.2 L280.1 138.4 L281.2 131.6 L283.1 126.8 L284.6 125.8 L286.0 126.2 L287.6 125.3 L288.9 125.8 L290.6 125.4 L292.1 124.0 L293.6 125.2 L295.1 125.9 L296.6 125.0 L297.6 124.9 L298.1 124.2 L299.6 124.9 L301.1 123.6 L302.6 121.0 L304.1 117.7 L305.6 113.5 L306.3 111.4 L307.1 110.9 L308.6 111.3 L310.1 110.8 L311.6 115.8 L313.1 117.1 L314.6 118.0 L316.1 117.7 L317.6 117.2 L318.8 117.7 L320.6 118.9 L321.7 120.1 L323.6 118.4 L324.6 117.7 L325.1 117.6 L326.6 117.5 L327.9 118.4"/>
<path d="M230.5 169.4 L231.7 172.2 L233.5 172.1 L234.9 171.6 L236.5 174.3 L238.0 176.1 L239.5 175.6 L241.0 173.0 L241.7 172.2 L242.5 171.2 L244.0 168.6 L244.6 168.3 L245.5 168.6 L247.0 165.8 L248.4 164.5 L250.0 164.3 L251.5 164.1 L252.3 163.9 L253.0 165.2 L254.5 167.4 L255.2 168.3 L256.0 169.8 L257.5 172.5 L259.0 174.8 L260.5 179.1 L261.0 180.8 L262.0 184.4 L262.9 188.6 L263.5 187.8 L264.8 186.6 L266.5 181.0 L268.0 179.6 L268.7 179.9 L269.5 183.3 L270.6 185.7 L272.5 188.9 L273.5 190.5 L275.4 192.4 L277.0 190.2 L278.5 188.8 L280.0 188.6 L281.5 189.9 L283.0 191.9 L284.5 191.9 L285.1 191.4 L286.0 190.4 L287.0 187.6 L289.0 186.1 L289.9 184.7 L290.5 183.3 L292.0 182.3 L293.5 181.2 L295.0 170.9 L296.5 169.9 L297.6 169.3 L298.6 176.0 L299.5 176.7 L301.0 176.8 L302.5 171.7 L303.4 167.3 L304.0 167.0 L305.3 167.0 L306.8 171.2 L308.5 172.3 L309.2 172.2 L310.0 173.4 L311.1 174.1 L313.0 174.0 L314.5 169.2 L316.0 166.5 L316.9 165.4 L317.5 165.0 L319.0 166.5 L320.5 170.2 L322.0 173.3 L322.7 174.1 L323.5 174.2 L324.2 175.1 L325.0 168.6 L325.5 164.5 L326.5 163.2 L327.9 163.5"/>
<path d="M206.1 222.6 L206.7 223.3 L207.6 224.1 L209.1 224.0 L209.6 224.3 L210.6 225.6 L212.1 226.0 L213.6 227.0 L215.1 227.1 L216.6 226.5 L218.1 224.1 L219.6 225.5 L221.1 225.7 L222.6 227.0 L224.1 227.7 L225.6 229.2 L227.0 231.0 L228.6 231.7 L230.1 226.8 L231.6 219.6 L233.1 219.8 L233.7 220.0 L234.6 223.0 L235.7 227.2 L237.6 229.1 L239.1 228.4 L240.6 225.6 L241.4 224.3 L242.1 223.2 L243.4 221.4 L245.1 219.4 L246.6 218.9 L247.2 218.5 L248.1 221.7 L249.2 224.3 L250.5 232.0 L251.1 232.6 L252.6 232.6 L254.1 232.5 L255.6 230.7 L257.1 235.2 L257.8 238.7 L258.6 239.3 L260.1 242.0 L260.7 242.6 L261.6 242.0 L263.1 243.3 L263.6 243.6 L264.6 246.6 L265.5 249.3 L266.1 250.1 L267.6 251.8 L268.4 254.2 L269.1 255.3 L270.4 258.0 L272.1 263.4 L273.6 269.4 L274.2 272.5 L275.1 274.1 L276.1 275.0 L278.1 274.5 L279.0 275.4 L279.6 274.8 L281.1 276.1 L281.9 276.4 L282.6 275.2 L284.1 274.4 L284.8 273.4 L285.6 270.4 L287.1 267.5 L287.7 266.7 L288.6 265.0 L289.6 262.8 L291.6 255.1 L293.1 251.2 L294.6 244.7 L295.4 240.7 L296.1 240.5 L297.3 239.7 L299.1 242.1 L300.6 243.2 L301.2 242.6 L302.1 237.3 L303.1 230.1 L305.1 226.2 L306.6 226.7 L308.0 227.2 L309.6 226.5 L311.1 227.6 L311.8 228.1 L312.6 227.0 L314.1 227.2 L314.7 226.2 L315.6 222.1 L316.6 218.5 L318.6 217.5 L320.1 221.7 L321.6 223.0 L323.1 224.6 L324.6 224.7 L326.1 224.8 L327.6 225.9 L329.1 228.0 L330.6 229.2 L332.0 229.1 L333.6 225.6 L335.1 220.8 L335.9 216.6 L336.6 215.8 L338.1 215.9 L338.8 215.6 L339.6 216.1 L341.1 217.6 L341.7 218.5 L342.6 219.0 L344.1 219.7 L345.6 221.3 L347.1 223.7 L348.6 225.1 L349.4 225.2 L350.1 224.1 L351.3 222.3 L352.3 222.3"/>
<path d="M206.1 276.7 L207.6 277.0 L208.7 275.8 L210.6 277.5 L211.6 278.1 L212.1 278.2 L213.6 280.7 L214.5 281.0 L215.1 280.7 L216.6 282.9 L217.3 283.5 L218.1 282.5 L219.3 281.0 L221.1 276.5 L222.6 273.1 L224.1 269.7 L225.6 268.8 L227.0 268.5 L228.6 271.3 L230.1 273.0 L231.6 275.5 L233.1 277.5 L234.6 279.1 L236.1 280.7 L237.6 280.9 L239.1 281.8 L240.5 281.0 L242.1 278.9 L243.4 278.1 L245.1 279.8 L246.3 281.0 L248.1 283.7 L249.2 284.9 L251.1 285.3 L252.0 286.8 L252.6 288.2 L254.1 291.5 L254.9 293.6 L255.6 294.2 L257.1 297.1 L258.3 300.0 L260.1 303.8 L261.0 306.0 L261.6 308.0 L263.1 310.2 L264.0 313.0 L264.6 315.4 L266.1 318.5 L267.6 321.5 L269.1 325.5 L270.6 329.4 L271.5 332.0 L272.1 333.3 L273.6 337.1 L275.1 343.1 L276.2 350.0 L277.0 355.0 L278.1 355.2 L279.6 354.8 L280.6 355.0 L281.3 350.0 L282.3 344.0 L284.1 338.4 L285.6 335.5 L286.8 331.0 L288.6 326.0 L289.3 322.0 L290.1 317.4 L290.8 312.0 L291.6 306.1 L292.1 303.2 L293.1 296.1 L294.6 291.5 L295.4 289.7 L296.1 289.2 L297.6 288.1 L298.3 286.8 L299.1 286.0 L300.6 285.4 L301.2 285.8 L302.1 285.5 L303.6 286.6 L304.1 284.9 L305.1 283.3 L306.6 280.7 L308.1 280.0 L309.6 278.5 L310.8 277.2 L312.6 275.7 L314.1 276.1 L314.7 275.8 L315.6 276.3 L317.1 276.1 L318.6 275.2 L320.1 276.7 L321.4 279.1 L323.1 281.2 L324.3 283.9 L326.1 280.5 L327.6 272.7 L328.2 269.5 L329.1 268.1 L330.1 266.6 L332.0 273.3 L333.6 278.6 L335.1 281.7 L335.9 283.0 L336.6 281.5 L337.8 278.1 L339.6 275.5 L341.1 276.9 L341.7 279.1 L342.6 279.9 L343.6 280.1 L345.5 270.4 L347.1 266.6 L348.0 264.6 L348.6 265.5 L350.0 268.5 L351.6 272.1 L352.3 273.3"/>
<path d="M157.4 334.3 L158.9 331.4 L159.6 330.1 L160.4 326.9 L161.2 322.3 L161.9 320.0 L162.5 316.6 L163.4 316.5 L164.5 316.6 L165.8 323.3 L166.4 323.7 L167.9 324.6 L169.4 323.6 L170.2 322.3 L170.9 321.7 L172.2 322.0 L173.9 327.3 L175.4 328.5 L176.0 329.1 L176.9 326.7 L178.0 322.3 L179.9 321.6 L180.5 322.0 L181.4 323.4 L182.8 325.2 L184.4 329.1 L185.7 332.0 L187.4 337.3 L188.9 341.1 L189.5 340.7 L190.4 340.1 L191.4 339.7 L193.4 333.8 L194.9 329.5 L196.4 328.6 L197.9 327.9 L199.4 331.3 L200.1 333.9 L200.9 335.6 L202.0 339.7 L203.9 338.9 L204.9 339.7 L206.9 333.7 L208.4 329.1 L209.9 326.6 L210.7 326.2 L211.4 326.3 L212.9 329.0 L213.6 329.1 L214.4 328.3 L215.9 328.6 L217.4 329.3 L218.9 327.8 L220.4 324.7 L221.9 325.0 L223.3 325.2 L224.9 333.7 L226.4 335.4 L227.1 335.8 L227.9 333.3 L229.0 330.1 L230.9 328.9 L231.9 329.1 L233.9 333.4 L235.4 337.6 L236.9 340.8 L238.4 342.6 L239.9 344.2 L241.4 346.1 L242.9 347.8 L244.4 348.9 L245.9 347.6 L247.3 345.5 L248.9 344.0 L250.2 343.6 L251.9 345.8 L253.1 346.4 L254.9 348.9 L256.0 349.3 L257.9 349.7 L259.4 349.9 L260.9 354.9 L262.4 359.8 L263.9 363.7 L265.4 372.1 L266.9 380.0 L268.4 387.4 L269.9 392.2 L271.4 397.7 L272.5 401.5 L274.4 408.1 L275.5 413.7 L277.4 413.0 L278.0 413.7 L278.9 413.3 L279.5 411.5 L280.4 412.5 L281.5 415.6 L283.4 415.5 L284.9 415.3 L285.5 414.6 L286.4 410.2 L287.9 400.0 L289.4 390.0 L290.0 386.0 L290.9 383.0 L292.4 375.0 L293.9 368.1 L295.4 366.9 L296.0 366.7 L296.9 367.0 L298.4 364.5 L298.9 364.8 L299.9 364.0 L301.4 361.1 L302.9 359.1 L304.4 355.8 L305.9 350.6 L306.6 346.4 L307.4 345.6 L308.6 342.6 L310.4 341.9 L311.4 341.6 L313.4 341.4 L314.9 341.7 L316.4 340.5 L317.9 339.6 L319.2 338.7 L320.9 336.9 L322.0 335.8 L323.9 334.4 L324.9 333.9 L326.9 334.5 L327.8 335.8 L328.4 335.4 L329.9 336.4 L331.4 338.8 L332.9 339.5 L334.4 340.3 L335.5 340.7 L337.4 341.0 L338.4 340.7 L340.4 338.2 L341.3 336.8 L341.9 336.9 L343.4 333.7 L344.2 333.0 L344.9 332.9 L346.4 331.7 L347.1 332.0 L347.9 333.5 L349.4 334.9 L350.0 334.9 L350.9 335.3 L352.4 333.6 L352.9 333.9 L353.9 332.4 L355.4 330.5 L356.9 327.5 L358.4 326.3 L359.9 324.7 L361.4 324.3 L362.9 326.8 L363.5 327.2 L364.4 330.2 L365.4 333.0 L367.4 334.9 L368.3 335.8 L368.9 335.6 L370.4 334.4 L371.2 333.9 L371.9 331.0 L373.1 328.1 L374.9 324.1 L376.4 323.3 L377.9 322.9 L379.4 323.5 L380.8 324.3 L382.4 326.7 L383.7 327.2 L385.4 328.3 L386.9 327.5 L387.6 328.1 L388.4 328.2 L389.9 327.5 L391.4 327.8 L392.9 327.2 L394.3 328.1 L395.9 329.2 L397.2 331.0 L398.9 332.5 L400.4 333.1 L401.0 333.5"/>
<path d="M157.4 383.3 L158.7 383.1 L160.4 379.6 L161.9 378.3 L163.4 376.2 L164.9 375.7 L166.4 374.4 L167.9 374.1 L169.3 374.4 L170.9 376.2 L172.2 377.3 L173.9 382.0 L175.4 384.5 L176.9 388.6 L178.4 389.3 L178.9 389.8 L179.9 389.0 L181.4 388.8 L182.9 387.4 L184.4 384.9 L185.9 383.5 L187.4 381.2 L188.9 381.8 L189.5 380.2 L190.4 381.0 L191.4 383.1 L193.4 384.4 L194.9 383.9 L196.3 384.0 L197.9 382.8 L199.2 383.1 L200.9 387.4 L202.4 391.0 L203.0 392.7 L203.9 391.9 L204.9 392.7 L206.9 388.4 L208.4 388.3 L209.8 386.9 L211.4 386.3 L212.7 385.6 L214.4 382.6 L215.5 382.1 L217.4 381.3 L218.4 379.8 L220.4 378.7 L221.3 379.2 L221.9 379.6 L223.4 380.5 L224.2 381.1 L224.9 382.0 L226.4 383.5 L227.1 384.0 L227.9 384.6 L229.4 385.6 L230.9 386.3 L232.4 387.3 L233.9 388.6 L234.8 388.3 L235.4 388.0 L236.9 387.2 L237.7 386.0 L238.4 386.7 L239.9 385.1 L240.6 384.0 L241.4 384.2 L242.9 384.0 L243.5 383.1 L244.4 383.3 L245.4 383.1 L247.3 389.8 L248.9 396.2 L250.4 399.3 L251.9 402.9 L253.4 405.0 L254.9 407.7 L256.4 410.2 L257.9 413.9 L259.4 417.3 L260.9 421.6 L262.4 425.1 L263.5 428.0 L265.4 430.2 L266.9 431.7 L268.4 437.2 L269.9 443.0 L271.2 447.3 L272.9 454.0 L274.4 459.5 L275.1 462.3 L275.9 466.5 L276.6 469.0 L277.4 474.7 L278.5 474.7 L279.5 469.0 L280.4 466.2 L281.9 462.6 L282.6 460.4 L283.4 456.8 L284.9 450.8 L286.4 444.7 L287.9 439.1 L289.4 433.7 L290.0 431.0 L290.9 427.3 L292.4 421.5 L293.9 410.2 L295.4 403.5 L296.0 401.4 L296.9 400.4 L298.4 397.5 L298.9 397.5 L299.9 396.9 L301.4 396.9 L302.8 395.6 L304.4 393.9 L305.7 393.7 L307.4 394.2 L308.6 394.6 L310.4 395.5 L311.4 395.6 L313.4 392.9 L314.3 391.7 L314.9 391.5 L316.4 389.8 L317.2 388.9 L317.9 389.8 L319.4 389.5 L320.1 389.8 L320.9 389.3 L322.4 389.7 L323.0 389.8 L323.9 390.1 L325.4 388.9 L325.9 387.9 L326.9 387.8 L328.4 387.9 L329.9 386.8 L331.4 384.4 L332.9 384.7 L334.4 384.5 L335.9 385.0 L337.4 385.0 L338.9 384.6 L339.5 383.4 L340.1 369.3 L341.9 370.2 L343.4 372.1 L344.9 373.2 L346.0 374.7 L347.9 372.4 L349.4 370.3 L350.9 368.9 L352.0 367.1 L353.9 371.0 L354.7 372.5 L355.4 374.2 L356.9 378.8 L358.4 381.2 L359.9 382.6 L361.4 385.1 L362.3 386.8 L362.9 385.9 L364.4 385.1 L365.9 383.2 L366.6 382.3 L367.4 381.2 L368.9 380.7 L370.4 378.0 L371.9 377.5 L373.4 377.8 L374.9 380.9 L376.4 383.2 L377.9 386.0 L379.1 387.5 L380.9 385.2 L382.4 383.1 L383.4 381.2 L385.4 377.3 L386.9 375.6 L388.4 373.7 L388.9 371.7 L389.9 372.4 L391.4 374.6 L392.9 376.8 L393.7 376.9 L394.4 377.7 L395.9 378.7 L397.4 380.3 L398.1 380.3 L398.9 380.7 L400.4 379.6 L401.0 380.3"/>
<path d="M157.4 435.5 L158.1 436.2 L158.9 434.0 L159.6 430.4 L160.4 428.4 L161.6 424.6 L163.4 424.7 L164.9 426.8 L165.4 428.5 L166.4 431.0 L167.3 433.3 L167.9 432.1 L169.4 432.0 L170.2 431.4 L170.9 430.3 L172.4 430.0 L173.1 429.5 L173.9 429.1 L175.4 430.7 L176.0 430.4 L176.9 431.5 L178.4 434.6 L178.9 435.2 L179.9 437.4 L181.4 440.0 L182.9 439.2 L183.7 439.1 L184.4 438.2 L185.7 433.3 L187.4 432.0 L188.9 433.1 L190.4 434.5 L191.9 435.1 L193.4 434.6 L194.9 433.6 L196.3 431.4 L197.9 430.8 L199.4 429.3 L200.1 428.9 L200.9 429.4 L202.4 428.1 L203.0 428.9 L203.9 430.8 L205.4 430.1 L205.9 430.4 L206.9 430.8 L208.4 429.2 L209.9 430.0 L211.4 429.3 L212.9 431.9 L214.4 434.5 L215.9 435.8 L217.4 436.7 L218.9 436.3 L220.4 434.6 L221.9 429.5 L223.4 428.7 L224.9 427.1 L226.4 428.4 L227.9 431.0 L229.4 433.0 L230.9 433.9 L232.4 435.6 L233.9 433.8 L234.8 435.2 L235.4 436.1 L236.9 437.1 L238.4 437.7 L239.9 438.9 L241.4 439.1 L242.5 441.0 L244.4 443.5 L245.9 446.0 L246.4 447.8 L247.4 449.4 L248.9 451.3 L250.4 451.1 L251.9 452.4 L253.4 452.5 L254.9 452.9 L256.0 453.6 L257.9 456.0 L258.9 458.4 L260.9 461.7 L261.8 463.2 L262.4 464.1 L263.9 468.3 L264.7 470.9 L265.4 474.4 L266.6 480.5 L268.4 489.3 L269.8 497.0 L271.4 505.0 L272.9 513.4 L274.4 519.4 L275.6 523.0 L276.7 530.4 L277.4 530.1 L278.9 531.0 L280.4 530.5 L281.4 523.0 L283.4 516.3 L284.0 514.2 L284.9 511.1 L286.4 506.4 L287.9 499.8 L288.4 499.3 L289.4 495.9 L290.8 489.7 L292.4 479.4 L293.1 474.7 L293.9 472.1 L295.1 467.0 L296.9 459.3 L298.4 455.4 L298.9 453.6 L299.9 453.6 L301.4 452.5 L302.9 452.3 L304.4 451.2 L305.9 449.1 L307.4 446.0 L308.9 443.3 L309.5 442.0 L310.4 440.2 L311.9 440.7 L312.4 441.0 L313.4 440.0 L314.9 438.3 L316.4 435.1 L317.2 432.3 L317.9 429.9 L319.2 425.6 L320.9 424.8 L322.4 430.1 L323.0 432.3 L323.9 434.3 L324.9 437.2 L326.9 438.1 L327.8 438.1 L328.4 438.2 L329.9 438.2 L331.4 436.7 L332.9 435.4 L334.4 433.3 L335.5 431.4 L337.4 430.1 L338.9 429.4 L339.4 428.9 L340.4 429.6 L341.9 431.1 L343.4 431.8 L344.9 432.7 L346.4 434.2 L347.9 433.3 L349.0 435.2 L350.9 435.3 L352.4 434.0 L352.9 433.3 L353.9 433.2 L355.4 433.4 L356.7 433.3 L358.4 433.1 L359.9 433.4 L361.4 433.2 L362.9 432.7 L364.4 431.4 L365.4 431.4 L367.4 429.4 L368.9 428.6 L370.4 427.2 L371.9 425.1 L373.4 423.8 L374.9 424.7 L376.4 425.0 L377.9 426.7 L379.4 424.4 L379.9 423.7 L380.9 424.2 L382.4 423.0 L383.9 425.8 L384.7 428.5 L385.4 430.5 L386.6 434.3 L388.4 437.5 L389.5 439.1 L391.4 439.3 L392.4 438.1 L394.4 435.1 L395.3 433.3 L395.9 433.6 L397.4 431.7 L398.2 430.4 L398.9 430.0 L400.4 432.3 L401.0 433.2"/>
<path d="M505.8 121.2 L506.5 122.1 L507.1 121.1 L508.4 119.2 L509.7 118.4 L511.0 115.4 L511.9 114.1 L513.6 114.9 L514.1 115.6 L514.9 116.4 L516.2 119.4 L517.3 121.0 L518.8 123.3 L520.1 125.4 L520.6 126.4 L521.4 126.1 L522.7 127.5 L523.9 128.6 L525.3 127.4 L526.6 127.6 L527.1 126.4 L527.9 126.1 L529.2 124.3 L530.4 122.1 L531.8 125.8 L532.5 128.6 L533.1 128.2 L534.4 127.4 L535.7 123.6 L536.9 119.9 L538.3 117.9 L539.0 116.7 L539.6 116.5 L540.9 116.6 L542.2 119.5 L543.4 123.2 L544.8 123.8 L545.5 124.3 L546.1 121.9 L547.4 116.5 L548.7 113.4 L549.9 112.3 L551.3 115.3 L552.0 117.8 L552.6 118.4 L553.9 122.0 L555.2 125.0 L556.5 126.3 L557.8 127.3 L558.6 127.5 L559.1 127.3 L560.4 126.6 L561.7 125.2 L563.0 126.1 L564.3 126.6 L565.1 127.5 L565.6 127.9 L566.9 129.1 L568.2 128.9 L569.5 130.5 L570.8 130.5 L571.6 130.8 L572.1 130.3 L573.4 132.0 L574.7 133.6 L576.0 135.5 L577.3 135.7 L578.1 136.2 L578.6 136.3 L579.9 136.3 L581.2 138.0 L582.5 138.3 L583.5 140.5 L585.1 139.6 L585.7 139.5 L586.4 138.7 L587.7 135.7 L588.9 135.1 L590.3 133.1 L591.6 132.0 L592.2 130.8 L592.9 130.9 L594.2 130.5 L595.4 130.8 L596.8 132.6 L598.1 133.4 L598.7 134.0 L599.4 132.2 L600.7 130.8 L602.0 127.6 L603.0 125.4 L604.6 126.0 L605.9 127.2 L607.2 127.5 L608.5 130.9 L609.5 131.9 L611.1 130.8 L611.7 129.7 L612.4 128.5 L613.7 124.3 L615.0 123.6 L616.3 122.8 L617.1 122.1 L618.9 120.1 L620.2 120.1 L621.5 119.2 L622.8 119.3 L623.6 117.8 L625.4 117.0 L626.7 116.7 L628.0 119.9 L629.0 121.0 L630.6 122.0 L631.2 123.2 L631.9 121.7 L633.2 116.5 L634.5 112.7 L635.5 108.0 L637.1 107.0 L637.7 106.9 L638.4 110.6 L639.7 116.4 L641.0 120.0 L642.0 124.3 L643.6 123.6 L644.2 123.2 L644.9 121.2 L646.2 116.5 L647.5 113.9 L648.6 112.3 L650.1 111.9 L650.7 112.3 L651.4 113.8 L652.7 117.8 L654.0 122.6 L655.1 125.4 L656.6 123.5 L657.2 122.1 L657.9 120.8 L659.2 118.0 L660.5 117.0 L661.6 116.7 L663.1 118.4 L663.7 118.9 L664.4 119.7 L665.7 121.3 L666.6 123.2"/>
<path d="M505.8 177.3 L506.5 177.1 L507.1 177.2 L508.4 175.1 L509.7 172.5 L511.0 171.8 L512.3 171.9 L513.0 171.7 L513.6 170.8 L514.9 170.3 L516.2 170.3 L517.5 169.7 L518.8 168.3 L519.5 168.4 L520.1 167.7 L521.4 169.0 L522.7 169.7 L524.0 170.0 L525.3 168.3 L526.0 168.4 L526.6 168.2 L527.9 168.1 L529.2 166.8 L530.5 168.3 L531.8 168.5 L532.5 168.4 L533.1 168.6 L534.4 169.9 L535.7 171.0 L537.0 171.1 L538.3 172.1 L539.0 171.7 L539.6 173.1 L540.9 172.6 L542.2 172.7 L543.5 174.5 L544.5 177.1 L546.1 174.7 L546.6 173.9 L547.4 172.0 L548.7 169.7 L550.0 169.3 L551.3 170.2 L552.0 170.6 L552.6 171.3 L553.9 173.0 L555.2 172.7 L556.5 175.0 L557.8 175.9 L558.6 177.1 L559.1 176.6 L560.4 176.4 L561.7 175.7 L563.0 176.9 L564.3 177.9 L565.1 179.3 L565.6 178.5 L566.9 180.4 L568.2 181.1 L569.5 184.4 L570.8 184.7 L571.6 186.9 L572.1 188.0 L573.4 191.2 L574.7 194.4 L576.0 196.8 L577.3 199.1 L578.1 201.0 L578.6 201.8 L579.9 202.8 L581.2 204.8 L582.5 205.9 L583.8 205.9 L585.1 206.9 L585.7 206.8 L586.4 206.5 L587.7 205.0 L588.9 203.1 L590.3 200.9 L591.6 197.4 L592.2 196.6 L592.9 195.3 L594.2 193.1 L595.5 192.3 L596.5 192.3 L598.1 189.3 L598.7 188.0 L599.4 185.4 L600.7 181.1 L602.0 177.9 L603.3 177.2 L604.1 174.9 L605.9 174.5 L607.2 173.2 L608.4 172.8 L609.8 172.2 L611.1 173.7 L612.4 173.4 L613.7 173.7 L615.0 172.8 L616.3 171.9 L617.1 172.8 L618.9 171.8 L620.2 171.8 L621.4 170.6 L622.8 170.7 L624.1 168.9 L624.7 168.4 L625.4 167.9 L626.7 168.4 L628.0 167.8 L629.3 170.9 L630.1 172.8 L631.9 174.6 L633.2 175.3 L634.5 177.2 L635.8 177.3 L636.6 178.2 L638.4 180.1 L639.7 179.7 L641.0 180.7 L642.0 180.4 L643.6 175.0 L644.2 173.9 L644.9 172.1 L646.2 171.1 L647.5 171.4 L648.8 172.0 L649.6 171.7 L651.4 173.6 L652.7 173.0 L654.0 173.6 L655.3 174.5 L656.1 174.9 L657.9 171.6 L659.2 171.3 L660.5 170.0 L661.8 167.0 L662.7 167.3 L664.4 166.5 L665.7 166.2 L666.6 166.3"/>
<path d="M505.8 218.4 L506.5 218.4 L507.1 218.9 L508.4 216.7 L509.7 215.9 L511.0 214.2 L512.3 213.2 L513.6 214.2 L514.9 215.3 L516.2 216.8 L517.5 217.8 L518.4 220.6 L520.1 222.0 L521.4 222.6 L522.7 222.0 L524.0 220.6 L524.9 219.5 L526.6 218.6 L527.9 216.9 L529.2 216.8 L530.5 217.5 L531.4 217.3 L533.1 216.6 L534.4 215.4 L535.7 216.0 L537.0 216.6 L538.3 218.3 L539.6 220.4 L540.1 221.7 L540.9 222.4 L542.2 223.8 L543.4 224.9 L544.8 224.7 L546.1 225.0 L546.6 224.9 L547.4 225.2 L548.7 222.8 L549.4 221.7 L550.0 221.7 L551.3 221.1 L552.0 220.6 L552.6 220.5 L553.9 223.2 L555.2 225.7 L556.4 230.4 L557.8 233.0 L559.0 233.6 L560.4 234.0 L561.7 232.0 L563.0 230.2 L564.0 229.3 L565.6 229.7 L566.1 230.4 L566.9 230.8 L568.2 232.9 L569.4 233.6 L570.8 236.7 L572.1 239.8 L572.7 241.2 L573.4 245.0 L574.7 251.7 L576.0 259.0 L577.0 265.1 L578.6 275.1 L579.2 278.1 L579.9 283.9 L581.2 290.6 L582.5 296.6 L583.5 300.8 L585.1 299.1 L585.7 298.7 L586.4 294.0 L587.7 287.9 L589.0 278.6 L590.0 271.6 L591.6 261.6 L592.2 258.6 L592.9 255.7 L594.2 248.3 L595.4 240.1 L596.8 238.5 L597.6 238.0 L599.4 234.2 L600.7 232.3 L601.9 228.2 L603.3 225.4 L604.1 222.8 L605.9 221.8 L607.2 221.5 L608.4 223.9 L609.8 223.7 L611.1 224.6 L611.7 224.9 L612.4 225.2 L613.7 223.6 L614.9 222.8 L616.3 221.4 L617.6 220.7 L618.2 220.6 L618.9 220.4 L620.2 220.7 L621.4 220.0 L622.8 220.6 L624.1 220.5 L625.4 220.4 L626.7 220.6 L628.0 221.4 L629.3 221.9 L630.1 221.7 L631.9 222.6 L633.2 223.4 L634.5 223.9 L635.8 223.8 L637.1 225.1 L637.7 224.9 L638.4 223.9 L639.7 223.8 L641.0 221.7 L642.3 221.9 L643.1 220.6 L644.9 223.6 L646.2 223.8 L647.5 224.9 L648.8 222.1 L649.6 219.5 L651.4 218.6 L652.7 221.1 L654.0 224.9 L655.3 225.7 L656.1 227.1 L657.9 223.8 L658.7 221.7 L660.5 217.7 L661.8 217.3 L663.1 216.8 L664.4 220.7 L665.3 221.7 L666.6 221.7"/>
<path d="M525.9 331.9 L527.0 332.8 L528.3 325.1 L529.7 318.3 L531.1 318.1 L531.6 317.3 L532.4 321.1 L533.1 324.1 L533.7 325.9 L535.0 329.1 L536.3 328.0 L537.0 327.0 L537.6 326.2 L538.9 323.9 L540.2 325.6 L540.8 326.0 L541.5 327.7 L542.8 331.8 L544.1 330.2 L544.7 328.9 L545.4 327.5 L546.6 325.1 L548.0 326.9 L548.6 327.0 L549.3 327.7 L550.6 329.1 L551.4 330.8 L553.2 332.8 L554.3 332.8 L555.8 332.8 L557.1 333.8 L558.4 334.7 L559.7 335.2 L561.0 335.3 L562.3 333.7 L563.6 330.9 L564.4 328.9 L564.9 328.0 L566.2 324.6 L567.5 324.2 L568.8 324.5 L570.1 326.9 L571.3 328.9 L572.7 333.7 L573.2 334.7 L574.0 334.2 L575.2 335.7 L576.6 331.5 L577.1 330.8 L577.9 328.2 L579.0 325.1 L580.5 324.1 L581.3 323.5 L583.1 326.1 L583.6 326.0 L584.4 327.8 L585.6 332.8 L587.0 338.6 L587.5 340.5 L588.3 341.3 L589.4 344.3 L590.9 341.0 L592.2 333.6 L593.5 326.5 L594.4 322.2 L596.1 320.2 L596.7 319.3 L597.4 319.9 L598.3 320.2 L600.0 328.5 L601.3 329.9 L602.1 330.8 L603.9 326.9 L605.2 325.3 L606.0 324.1 L607.8 326.3 L608.3 327.0 L609.1 326.9 L610.2 328.9 L611.7 327.1 L613.0 326.0 L614.1 325.1 L615.6 326.6 L616.9 327.9 L618.0 329.9 L619.5 328.2 L620.8 326.7 L621.8 326.0 L623.4 327.7 L624.1 328.9 L624.7 329.3 L626.0 328.3 L627.3 326.7 L628.0 325.1 L628.6 323.9 L629.9 323.5 L631.2 324.5 L632.4 325.1 L633.8 329.6 L634.3 330.8 L635.1 332.4 L636.3 333.7 L637.7 333.1 L638.2 332.8 L639.0 328.8 L640.1 323.1 L641.6 317.4 L642.9 315.5 L644.0 316.4 L645.5 324.1 L646.5 325.1"/>
<path d="M525.9 380.3 L526.4 378.9 L527.2 382.6 L527.7 384.7 L528.5 385.5 L529.7 385.7 L531.1 381.0 L531.6 378.9 L532.4 376.8 L533.5 374.1 L535.0 376.6 L536.3 378.5 L537.4 382.8 L538.9 385.3 L540.2 384.5 L541.2 383.7 L542.8 377.9 L544.1 377.0 L545.1 378.0 L546.7 382.0 L548.0 384.2 L548.9 383.7 L550.6 380.0 L551.9 377.0 L552.8 375.1 L554.5 373.6 L555.3 374.1 L557.1 376.1 L557.8 377.0 L558.4 378.0 L559.7 379.9 L561.0 380.0 L562.0 379.9 L563.6 378.9 L564.9 378.3 L566.2 377.7 L567.5 376.9 L568.8 376.9 L570.1 377.3 L570.7 378.0 L571.4 378.0 L572.7 377.2 L573.6 377.0 L575.3 376.0 L576.5 375.1 L577.9 374.6 L579.2 375.2 L580.5 375.2 L581.8 376.7 L582.3 377.0 L583.1 378.0 L584.4 378.3 L585.2 378.9 L585.7 379.2 L587.0 380.4 L588.1 380.8 L589.6 381.0 L590.9 381.4 L592.2 382.0 L593.5 382.7 L594.8 382.2 L596.1 382.3 L596.7 381.8 L597.4 381.7 L598.7 379.4 L599.6 378.9 L601.3 378.3 L602.5 378.9 L603.9 379.6 L605.2 380.8 L606.5 378.6 L607.8 377.6 L608.3 377.0 L609.1 376.8 L610.4 376.1 L611.2 375.1 L613.0 376.7 L613.7 376.0 L614.3 376.7 L615.6 379.4 L616.9 379.4 L617.6 378.9 L618.2 376.7 L619.5 372.5 L620.8 373.2 L621.4 372.2 L622.1 374.0 L623.3 376.0 L624.7 377.2 L625.3 377.0 L626.0 378.1 L627.3 377.9 L628.0 378.9 L628.6 380.8 L629.9 382.0 L631.2 383.0 L632.4 383.7 L633.8 381.9 L634.3 380.8 L635.1 380.3 L636.3 378.9 L637.7 379.9 L638.2 380.8 L639.0 383.2 L640.1 384.7 L641.6 385.0 L642.6 385.7 L644.2 382.5 L645.5 379.3 L646.5 377.0"/>
<path d="M525.9 490.4 L527.2 499.8 L528.5 507.5 L529.8 508.8 L530.8 509.3 L532.2 502.5 L533.5 491.0 L535.0 477.7 L536.3 468.2 L537.6 457.8 L538.9 451.4 L540.2 446.3 L540.8 444.7 L541.5 444.1 L542.8 443.7 L544.1 442.8 L544.7 442.8 L545.4 441.9 L546.6 438.9 L548.0 434.9 L548.6 433.1 L549.3 431.8 L550.5 430.2 L551.9 431.0 L553.2 430.5 L554.5 430.2 L555.8 430.7 L557.1 431.4 L558.4 430.6 L559.2 430.2 L559.7 428.8 L561.0 429.8 L562.0 429.3 L563.6 428.9 L564.9 428.4 L565.9 428.3 L567.5 429.2 L568.8 430.7 L569.8 429.3 L571.4 429.6 L572.7 429.1 L573.6 430.2 L575.3 431.0 L576.5 431.2 L577.9 432.7 L579.2 432.2 L580.5 433.9 L581.8 433.6 L582.3 434.1 L583.1 434.3 L584.4 433.1 L585.2 432.2 L585.7 432.2 L587.0 430.3 L588.1 429.3 L589.6 429.4 L590.9 429.0 L592.2 429.4 L593.3 431.2 L594.8 432.6 L595.8 433.1 L597.4 430.1 L598.7 432.3 L600.0 435.8 L600.6 436.0 L601.3 434.4 L602.5 433.1 L603.9 428.3 L604.5 426.4 L605.2 425.9 L606.5 424.9 L607.3 424.5 L609.1 425.7 L609.9 427.3 L610.4 427.8 L611.7 430.7 L613.0 429.7 L614.1 428.3 L615.6 426.6 L616.9 425.8 L618.2 426.3 L619.5 426.3 L620.8 426.7 L622.1 428.2 L622.8 429.3 L623.4 430.0 L624.7 429.0 L625.7 430.2 L627.3 431.9 L628.6 433.1 L629.9 433.9 L631.1 435.1 L632.5 433.4 L633.4 432.2 L635.1 430.0 L636.3 429.3 L637.7 430.1 L639.0 430.5 L640.3 429.2 L641.6 429.3 L642.9 429.7 L644.2 429.6 L644.9 430.2 L645.5 431.0 L646.5 431.8"/>
<path d="M525.9 486.5 L526.4 487.1 L527.2 486.6 L528.5 486.2 L529.3 485.6 L529.8 485.2 L531.1 484.5 L532.4 485.8 L533.1 484.4 L533.7 484.4 L535.0 483.9 L536.0 483.3 L537.6 479.8 L538.9 478.3 L539.9 476.5 L541.5 477.0 L542.8 477.8 L543.7 477.5 L545.4 475.1 L546.7 475.6 L547.6 474.6 L549.3 476.6 L550.6 480.9 L551.4 483.3 L553.2 487.6 L554.5 490.5 L555.3 491.0 L557.1 487.3 L558.4 483.2 L559.2 481.3 L559.7 480.6 L561.0 480.5 L562.3 483.7 L563.0 486.1 L563.6 486.9 L564.9 488.4 L566.2 488.6 L566.9 488.1 L567.5 486.1 L568.8 482.4 L570.1 481.7 L570.7 480.4 L571.4 479.8 L572.7 479.5 L573.6 479.4 L575.3 478.7 L576.5 478.4 L577.9 477.4 L579.2 476.6 L580.5 475.7 L581.8 474.9 L582.3 474.6 L583.1 475.0 L584.4 476.7 L585.2 477.5 L585.7 478.4 L587.0 481.3 L588.1 482.3 L589.6 482.2 L590.9 483.9 L592.2 483.6 L593.5 482.3 L594.8 482.4 L596.1 481.6 L596.7 481.3 L597.4 482.4 L598.7 484.2 L600.0 485.8 L600.6 486.1 L601.3 484.3 L602.5 482.3 L603.9 480.6 L604.5 479.4 L605.2 480.3 L606.4 482.3 L607.8 485.4 L608.3 487.1 L609.1 487.2 L610.2 486.1 L611.7 482.1 L613.0 480.4 L614.3 478.3 L615.1 477.5 L615.6 478.1 L616.9 478.0 L618.0 478.4 L619.5 480.2 L620.8 481.1 L622.1 482.1 L623.4 483.9 L624.7 483.6 L626.0 482.6 L626.6 483.3 L627.3 482.3 L628.6 481.2 L629.5 480.4 L631.2 479.5 L632.4 478.4 L633.8 478.7 L635.1 479.0 L636.4 479.7 L637.7 478.7 L638.2 479.4 L639.0 477.4 L640.1 474.6 L641.6 472.7 L642.9 471.7 L644.2 471.4 L645.5 473.2 L646.5 473.6"/>
</g>
<g stroke="#00f" stroke-width="2.90">
<path d="M242.6 116.6 L243.1 116.6 L243.6 116.6 L244.1 116.7 L244.6 116.7 L245.1 116.7 L245.6 116.7 L246.1 116.8 L246.6 116.8 L247.1 116.9 L247.6 116.9 L248.1 117.0 L248.6 117.0 L249.1 117.1 L249.6 117.2 L250.1 117.2 L250.6 117.3 L251.1 117.4 L251.6 117.5 L252.1 117.6 L252.6 117.7 L253.1 117.8 L253.6 117.9 L254.1 118.0 L254.6 118.2 L255.1 118.3 L255.6 118.5 L256.1 118.6 L256.6 118.8 L257.1 119.0 L257.6 119.2 L258.1 119.4 L258.6 119.6 L259.1 119.8 L259.6 120.0 L260.1 120.3 L260.6 120.5 L261.1 120.8 L261.6 121.1 L262.1 121.4 L262.6 121.7 L263.1 122.0 L263.6 122.3 L264.1 122.6 L264.6 122.9 L265.1 123.3 L265.6 123.6 L266.1 123.9 L266.6 124.2 L267.1 124.6 L267.6 124.9 L268.1 125.3 L268.6 125.6 L269.1 125.9 L269.6 126.3 L270.1 126.6 L270.6 126.9 L271.1 127.3 L271.6 127.6 L272.1 127.9 L272.6 128.2 L273.1 128.5 L273.6 128.7 L274.1 129.0 L274.6 129.3 L275.1 129.5 L275.6 129.8 L276.1 130.0 L276.6 130.2 L277.1 130.3 L277.6 130.5 L278.1 130.6 L278.6 130.6 L279.1 130.7 L279.6 130.7 L280.1 130.6 L280.6 130.5 L281.1 130.4 L281.6 130.3 L282.1 130.1 L282.6 129.9 L283.1 129.7 L283.6 129.4 L284.1 129.2 L284.6 128.9 L285.1 128.6 L285.6 128.3 L286.1 128.0 L286.6 127.7 L287.1 127.3 L287.6 127.0 L288.1 126.6 L288.6 126.3 L289.1 125.9 L289.6 125.5 L290.1 125.2 L290.6 124.8 L291.1 124.4 L291.6 124.1 L292.1 123.7 L292.6 123.4 L293.1 123.0 L293.6 122.7 L294.1 122.4 L294.6 122.0 L295.1 121.7 L295.6 121.4 L296.1 121.1 L296.6 120.8 L297.1 120.5 L297.6 120.2 L298.1 119.9 L298.6 119.6 L299.1 119.4 L299.6 119.1 L300.1 118.9 L300.6 118.6 L301.1 118.4 L301.6 118.2 L302.1 118.0 L302.6 117.7 L303.1 117.5 L303.6 117.4 L304.1 117.2 L304.6 117.0 L305.1 116.8 L305.6 116.7 L306.1 116.5 L306.6 116.4 L307.1 116.3 L307.6 116.2 L308.1 116.1 L308.6 116.0 L309.1 115.9 L309.6 115.8 L310.1 115.7 L310.6 115.6 L311.1 115.6 L311.6 115.5 L312.1 115.4 L312.6 115.4 L313.1 115.3 L313.6 115.3 L314.1 115.2 L314.6 115.2 L315.1 115.2 L315.6 115.1 L316.1 115.1 L316.6 115.1 L317.1 115.1 L317.6 115.1 L318.1 115.1 L318.6 115.1 L319.1 115.1 L319.6 115.1 L320.1 115.2 L320.6 115.2 L321.1 115.2 L321.6 115.2 L322.1 115.3 L322.6 115.3 L323.1 115.4 L323.6 115.4 L324.1 115.5 L324.6 115.6 L325.1 115.6 L325.6 115.7 L326.1 115.7 L326.6 115.8 L327.1 115.9 L327.6 115.9 L327.9 115.9"/>
<path d="M230.5 168.4 L231.0 168.4 L231.5 168.5 L232.0 168.5 L232.5 168.5 L233.0 168.5 L233.5 168.6 L234.0 168.6 L234.5 168.7 L235.0 168.7 L235.5 168.8 L236.0 168.8 L236.5 168.9 L237.0 168.9 L237.5 169.0 L238.0 169.1 L238.5 169.1 L239.0 169.2 L239.5 169.3 L240.0 169.3 L240.5 169.4 L241.0 169.5 L241.5 169.6 L242.0 169.7 L242.5 169.8 L243.0 169.9 L243.5 170.0 L244.0 170.1 L244.5 170.2 L245.0 170.3 L245.5 170.4 L246.0 170.6 L246.5 170.7 L247.0 170.9 L247.5 171.0 L248.0 171.2 L248.5 171.3 L249.0 171.5 L249.5 171.7 L250.0 171.9 L250.5 172.1 L251.0 172.3 L251.5 172.6 L252.0 172.8 L252.5 173.1 L253.0 173.4 L253.5 173.7 L254.0 174.0 L254.5 174.3 L255.0 174.6 L255.5 174.9 L256.0 175.3 L256.5 175.6 L257.0 176.0 L257.5 176.4 L258.0 176.8 L258.5 177.2 L259.0 177.7 L259.5 178.1 L260.0 178.6 L260.5 179.1 L261.0 179.6 L261.5 180.1 L262.0 180.6 L262.5 181.2 L263.0 181.7 L263.5 182.3 L264.0 182.8 L264.5 183.4 L265.0 184.0 L265.5 184.6 L266.0 185.3 L266.5 185.9 L267.0 186.5 L267.5 187.2 L268.0 187.8 L268.5 188.5 L269.0 189.1 L269.5 189.8 L270.0 190.4 L270.5 191.0 L271.0 191.5 L271.5 192.1 L272.0 192.6 L272.5 193.1 L273.0 193.6 L273.5 194.0 L274.0 194.4 L274.5 194.8 L275.0 195.2 L275.5 195.5 L276.0 195.8 L276.5 196.0 L277.0 196.2 L277.5 196.4 L278.0 196.5 L278.5 196.6 L279.0 196.6 L279.5 196.6 L280.0 196.6 L280.5 196.5 L281.0 196.4 L281.5 196.2 L282.0 196.0 L282.5 195.7 L283.0 195.4 L283.5 195.0 L284.0 194.6 L284.5 194.1 L285.0 193.6 L285.5 193.1 L286.0 192.6 L286.5 192.0 L287.0 191.4 L287.5 190.8 L288.0 190.2 L288.5 189.5 L289.0 188.9 L289.5 188.3 L290.0 187.6 L290.5 187.0 L291.0 186.3 L291.5 185.7 L292.0 185.0 L292.5 184.4 L293.0 183.8 L293.5 183.3 L294.0 182.7 L294.5 182.2 L295.0 181.6 L295.5 181.1 L296.0 180.6 L296.5 180.1 L297.0 179.7 L297.5 179.2 L298.0 178.8 L298.5 178.4 L299.0 177.9 L299.5 177.6 L300.0 177.2 L300.5 176.8 L301.0 176.5 L301.5 176.1 L302.0 175.8 L302.5 175.5 L303.0 175.2 L303.5 174.9 L304.0 174.7 L304.5 174.4 L305.0 174.1 L305.5 173.9 L306.0 173.7 L306.5 173.4 L307.0 173.2 L307.5 173.0 L308.0 172.8 L308.5 172.6 L309.0 172.4 L309.5 172.2 L310.0 172.0 L310.5 171.8 L311.0 171.7 L311.5 171.5 L312.0 171.4 L312.5 171.2 L313.0 171.1 L313.5 170.9 L314.0 170.8 L314.5 170.7 L315.0 170.5 L315.5 170.4 L316.0 170.3 L316.5 170.2 L317.0 170.0 L317.5 169.9 L318.0 169.8 L318.5 169.7 L319.0 169.6 L319.5 169.5 L320.0 169.4 L320.5 169.3 L321.0 169.3 L321.5 169.2 L322.0 169.1 L322.5 169.0 L323.0 168.9 L323.5 168.9 L324.0 168.8 L324.5 168.7 L325.0 168.7 L325.5 168.6 L326.0 168.6 L326.5 168.5 L327.0 168.5 L327.5 168.4 L327.9 168.4"/>
<path d="M206.1 219.9 L206.6 219.9 L207.1 220.0 L207.6 220.0 L208.1 220.0 L208.6 220.0 L209.1 220.0 L209.6 220.0 L210.1 220.1 L210.6 220.1 L211.1 220.1 L211.6 220.1 L212.1 220.1 L212.6 220.2 L213.1 220.2 L213.6 220.2 L214.1 220.2 L214.6 220.2 L215.1 220.3 L215.6 220.3 L216.1 220.3 L216.6 220.3 L217.1 220.4 L217.6 220.4 L218.1 220.4 L218.6 220.5 L219.1 220.5 L219.6 220.5 L220.1 220.6 L220.6 220.6 L221.1 220.7 L221.6 220.7 L222.1 220.8 L222.6 220.8 L223.1 220.8 L223.6 220.9 L224.1 220.9 L224.6 221.0 L225.1 221.1 L225.6 221.1 L226.1 221.2 L226.6 221.2 L227.1 221.3 L227.6 221.4 L228.1 221.4 L228.6 221.5 L229.1 221.6 L229.6 221.6 L230.1 221.7 L230.6 221.8 L231.1 221.9 L231.6 221.9 L232.1 222.0 L232.6 222.1 L233.1 222.2 L233.6 222.3 L234.1 222.4 L234.6 222.5 L235.1 222.6 L235.6 222.7 L236.1 222.8 L236.6 222.9 L237.1 223.0 L237.6 223.1 L238.1 223.3 L238.6 223.4 L239.1 223.5 L239.6 223.7 L240.1 223.8 L240.6 224.0 L241.1 224.2 L241.6 224.3 L242.1 224.5 L242.6 224.7 L243.1 224.9 L243.6 225.1 L244.1 225.3 L244.6 225.6 L245.1 225.8 L245.6 226.1 L246.1 226.3 L246.6 226.6 L247.1 226.9 L247.6 227.2 L248.1 227.5 L248.6 227.9 L249.1 228.2 L249.6 228.6 L250.1 228.9 L250.6 229.3 L251.1 229.7 L251.6 230.1 L252.1 230.5 L252.6 231.0 L253.1 231.4 L253.6 231.9 L254.1 232.4 L254.6 232.9 L255.1 233.4 L255.6 233.9 L256.1 234.5 L256.6 235.0 L257.1 235.6 L257.6 236.2 L258.1 236.8 L258.6 237.4 L259.1 238.1 L259.6 238.7 L260.1 239.4 L260.6 240.1 L261.1 240.9 L261.6 241.6 L262.1 242.4 L262.6 243.2 L263.1 244.0 L263.6 244.9 L264.1 245.7 L264.6 246.6 L265.1 247.6 L265.6 248.5 L266.1 249.4 L266.6 250.4 L267.1 251.3 L267.6 252.2 L268.1 253.1 L268.6 254.0 L269.1 254.9 L269.6 255.8 L270.1 256.7 L270.6 257.5 L271.1 258.4 L271.6 259.3 L272.1 260.2 L272.6 261.1 L273.1 261.9 L273.6 262.8 L274.1 263.6 L274.6 264.4 L275.1 265.1 L275.6 265.8 L276.1 266.5 L276.6 267.0 L277.1 267.5 L277.6 267.9 L278.1 268.1 L278.6 268.3 L279.1 268.3 L279.6 268.2 L280.1 268.0 L280.6 267.7 L281.1 267.3 L281.6 266.8 L282.1 266.2 L282.6 265.4 L283.1 264.6 L283.6 263.8 L284.1 262.9 L284.6 261.9 L285.1 260.9 L285.6 259.9 L286.1 258.9 L286.6 257.9 L287.1 256.8 L287.6 255.7 L288.1 254.7 L288.6 253.6 L289.1 252.6 L289.6 251.5 L290.1 250.5 L290.6 249.5 L291.1 248.5 L291.6 247.6 L292.1 246.6 L292.6 245.7 L293.1 244.7 L293.6 243.8 L294.1 243.0 L294.6 242.1 L295.1 241.3 L295.6 240.5 L296.1 239.7 L296.6 239.0 L297.1 238.3 L297.6 237.6 L298.1 236.9 L298.6 236.2 L299.1 235.6 L299.6 235.0 L300.1 234.4 L300.6 233.9 L301.1 233.3 L301.6 232.8 L302.1 232.3 L302.6 231.8 L303.1 231.3 L303.6 230.8 L304.1 230.4 L304.6 230.0 L305.1 229.6 L305.6 229.2 L306.1 228.8 L306.6 228.4 L307.1 228.0 L307.6 227.7 L308.1 227.4 L308.6 227.1 L309.1 226.8 L309.6 226.5 L310.1 226.2 L310.6 225.9 L311.1 225.7 L311.6 225.4 L312.1 225.2 L312.6 224.9 L313.1 224.7 L313.6 224.5 L314.1 224.3 L314.6 224.1 L315.1 223.9 L315.6 223.7 L316.1 223.6 L316.6 223.4 L317.1 223.3 L317.6 223.1 L318.1 223.0 L318.6 222.8 L319.1 222.7 L319.6 222.6 L320.1 222.4 L320.6 222.3 L321.1 222.2 L321.6 222.1 L322.1 222.0 L322.6 221.9 L323.1 221.8 L323.6 221.7 L324.1 221.6 L324.6 221.5 L325.1 221.5 L325.6 221.4 L326.1 221.3 L326.6 221.2 L327.1 221.2 L327.6 221.1 L328.1 221.0 L328.6 221.0 L329.1 220.9 L329.6 220.9 L330.1 220.8 L330.6 220.8 L331.1 220.7 L331.6 220.7 L332.1 220.7 L332.6 220.6 L333.1 220.6 L333.6 220.6 L334.1 220.5 L334.6 220.5 L335.1 220.5 L335.6 220.4 L336.1 220.4 L336.6 220.4 L337.1 220.4 L337.6 220.4 L338.1 220.4 L338.6 220.3 L339.1 220.3 L339.6 220.3 L340.1 220.3 L340.6 220.3 L341.1 220.3 L341.6 220.3 L342.1 220.3 L342.6 220.3 L343.1 220.3 L343.6 220.3 L344.1 220.3 L344.6 220.3 L345.1 220.3 L345.6 220.4 L346.1 220.4 L346.6 220.4 L347.1 220.4 L347.6 220.4 L348.1 220.4 L348.6 220.4 L349.1 220.4 L349.6 220.4 L350.1 220.4 L350.6 220.4 L351.1 220.4 L351.6 220.4 L352.1 220.5 L352.3 220.5"/>
<path d="M206.1 272.0 L206.6 272.0 L207.1 272.1 L207.6 272.1 L208.1 272.1 L208.6 272.2 L209.1 272.2 L209.6 272.3 L210.1 272.3 L210.6 272.4 L211.1 272.4 L211.6 272.5 L212.1 272.5 L212.6 272.5 L213.1 272.6 L213.6 272.6 L214.1 272.7 L214.6 272.7 L215.1 272.8 L215.6 272.8 L216.1 272.9 L216.6 273.0 L217.1 273.0 L217.6 273.1 L218.1 273.1 L218.6 273.2 L219.1 273.3 L219.6 273.3 L220.1 273.4 L220.6 273.4 L221.1 273.5 L221.6 273.6 L222.1 273.7 L222.6 273.7 L223.1 273.8 L223.6 273.9 L224.1 274.0 L224.6 274.0 L225.1 274.1 L225.6 274.2 L226.1 274.3 L226.6 274.4 L227.1 274.5 L227.6 274.6 L228.1 274.7 L228.6 274.8 L229.1 274.9 L229.6 275.0 L230.1 275.1 L230.6 275.2 L231.1 275.3 L231.6 275.4 L232.1 275.5 L232.6 275.6 L233.1 275.8 L233.6 275.9 L234.1 276.0 L234.6 276.2 L235.1 276.3 L235.6 276.4 L236.1 276.6 L236.6 276.7 L237.1 276.9 L237.6 277.1 L238.1 277.2 L238.6 277.4 L239.1 277.6 L239.6 277.8 L240.1 277.9 L240.6 278.1 L241.1 278.3 L241.6 278.6 L242.1 278.8 L242.6 279.0 L243.1 279.2 L243.6 279.5 L244.1 279.8 L244.6 280.0 L245.1 280.3 L245.6 280.6 L246.1 280.9 L246.6 281.3 L247.1 281.6 L247.6 282.0 L248.1 282.3 L248.6 282.7 L249.1 283.1 L249.6 283.6 L250.1 284.0 L250.6 284.5 L251.1 285.0 L251.6 285.5 L252.1 286.1 L252.6 286.6 L253.1 287.2 L253.6 287.9 L254.1 288.5 L254.6 289.2 L255.1 289.9 L255.6 290.6 L256.1 291.4 L256.6 292.2 L257.1 293.0 L257.6 293.8 L258.1 294.7 L258.6 295.7 L259.1 296.6 L259.6 297.6 L260.1 298.6 L260.6 299.7 L261.1 300.8 L261.6 301.9 L262.1 303.0 L262.6 304.2 L263.1 305.5 L263.6 306.8 L264.1 308.1 L264.6 309.5 L265.1 310.9 L265.6 312.3 L266.1 313.7 L266.6 315.1 L267.1 316.5 L267.6 317.9 L268.1 319.3 L268.6 320.6 L269.1 321.9 L269.6 323.2 L270.1 324.5 L270.6 325.7 L271.1 327.0 L271.6 328.3 L272.1 329.6 L272.6 330.8 L273.1 332.0 L273.6 333.2 L274.1 334.4 L274.6 335.4 L275.1 336.4 L275.6 337.4 L276.1 338.2 L276.6 338.9 L277.1 339.5 L277.6 339.9 L278.1 340.2 L278.6 340.4 L279.1 340.4 L279.6 340.3 L280.1 340.1 L280.6 339.7 L281.1 339.1 L281.6 338.3 L282.1 337.4 L282.6 336.3 L283.1 335.1 L283.6 333.9 L284.1 332.6 L284.6 331.3 L285.1 329.9 L285.6 328.5 L286.1 327.1 L286.6 325.6 L287.1 324.2 L287.6 322.8 L288.1 321.4 L288.6 320.0 L289.1 318.6 L289.6 317.2 L290.1 315.8 L290.6 314.4 L291.1 313.1 L291.6 311.7 L292.1 310.4 L292.6 309.0 L293.1 307.8 L293.6 306.5 L294.1 305.3 L294.6 304.1 L295.1 303.0 L295.6 301.9 L296.1 300.8 L296.6 299.8 L297.1 298.8 L297.6 297.8 L298.1 296.9 L298.6 296.0 L299.1 295.2 L299.6 294.4 L300.1 293.6 L300.6 292.8 L301.1 292.1 L301.6 291.4 L302.1 290.7 L302.6 290.0 L303.1 289.4 L303.6 288.8 L304.1 288.2 L304.6 287.6 L305.1 287.0 L305.6 286.5 L306.1 286.0 L306.6 285.5 L307.1 285.0 L307.6 284.5 L308.1 284.0 L308.6 283.6 L309.1 283.2 L309.6 282.7 L310.1 282.3 L310.6 281.9 L311.1 281.6 L311.6 281.2 L312.1 280.8 L312.6 280.5 L313.1 280.2 L313.6 279.9 L314.1 279.6 L314.6 279.3 L315.1 279.0 L315.6 278.7 L316.1 278.5 L316.6 278.2 L317.1 278.0 L317.6 277.8 L318.1 277.6 L318.6 277.4 L319.1 277.2 L319.6 277.0 L320.1 276.8 L320.6 276.6 L321.1 276.5 L321.6 276.3 L322.1 276.2 L322.6 276.1 L323.1 275.9 L323.6 275.8 L324.1 275.7 L324.6 275.6 L325.1 275.5 L325.6 275.4 L326.1 275.3 L326.6 275.2 L327.1 275.1 L327.6 275.0 L328.1 275.0 L328.6 274.9 L329.1 274.8 L329.6 274.8 L330.1 274.7 L330.6 274.6 L331.1 274.6 L331.6 274.5 L332.1 274.4 L332.6 274.4 L333.1 274.3 L333.6 274.3 L334.1 274.2 L334.6 274.2 L335.1 274.2 L335.6 274.1 L336.1 274.1 L336.6 274.0 L337.1 274.0 L337.6 273.9 L338.1 273.9 L338.6 273.9 L339.1 273.8 L339.6 273.8 L340.1 273.8 L340.6 273.7 L341.1 273.7 L341.6 273.7 L342.1 273.7 L342.6 273.6 L343.1 273.6 L343.6 273.6 L344.1 273.5 L344.6 273.5 L345.1 273.5 L345.6 273.5 L346.1 273.4 L346.6 273.4 L347.1 273.4 L347.6 273.4 L348.1 273.4 L348.6 273.3 L349.1 273.3 L349.6 273.3 L350.1 273.3 L350.6 273.3 L351.1 273.2 L351.6 273.2 L352.1 273.2 L352.3 273.2"/>
<path d="M157.4 324.9 L157.9 324.9 L158.4 324.9 L158.9 324.9 L159.4 324.9 L159.9 324.9 L160.4 324.9 L160.9 324.9 L161.4 324.9 L161.9 324.9 L162.4 324.9 L162.9 324.9 L163.4 324.9 L163.9 324.9 L164.4 324.9 L164.9 324.9 L165.4 325.0 L165.9 325.0 L166.4 325.0 L166.9 325.0 L167.4 325.0 L167.9 325.0 L168.4 325.0 L168.9 325.0 L169.4 325.0 L169.9 325.0 L170.4 325.0 L170.9 325.0 L171.4 325.1 L171.9 325.1 L172.4 325.1 L172.9 325.1 L173.4 325.1 L173.9 325.1 L174.4 325.1 L174.9 325.1 L175.4 325.2 L175.9 325.2 L176.4 325.2 L176.9 325.2 L177.4 325.2 L177.9 325.2 L178.4 325.2 L178.9 325.3 L179.4 325.3 L179.9 325.3 L180.4 325.3 L180.9 325.3 L181.4 325.3 L181.9 325.4 L182.4 325.4 L182.9 325.4 L183.4 325.4 L183.9 325.4 L184.4 325.5 L184.9 325.5 L185.4 325.5 L185.9 325.5 L186.4 325.5 L186.9 325.6 L187.4 325.6 L187.9 325.6 L188.4 325.6 L188.9 325.7 L189.4 325.7 L189.9 325.7 L190.4 325.7 L190.9 325.8 L191.4 325.8 L191.9 325.8 L192.4 325.8 L192.9 325.9 L193.4 325.9 L193.9 325.9 L194.4 326.0 L194.9 326.0 L195.4 326.0 L195.9 326.1 L196.4 326.1 L196.9 326.1 L197.4 326.2 L197.9 326.2 L198.4 326.2 L198.9 326.3 L199.4 326.3 L199.9 326.3 L200.4 326.4 L200.9 326.4 L201.4 326.4 L201.9 326.5 L202.4 326.5 L202.9 326.6 L203.4 326.6 L203.9 326.6 L204.4 326.7 L204.9 326.7 L205.4 326.8 L205.9 326.8 L206.4 326.9 L206.9 326.9 L207.4 327.0 L207.9 327.0 L208.4 327.1 L208.9 327.1 L209.4 327.2 L209.9 327.2 L210.4 327.3 L210.9 327.3 L211.4 327.4 L211.9 327.4 L212.4 327.5 L212.9 327.5 L213.4 327.6 L213.9 327.7 L214.4 327.7 L214.9 327.8 L215.4 327.9 L215.9 327.9 L216.4 328.0 L216.9 328.1 L217.4 328.1 L217.9 328.2 L218.4 328.3 L218.9 328.4 L219.4 328.5 L219.9 328.5 L220.4 328.6 L220.9 328.7 L221.4 328.8 L221.9 328.9 L222.4 329.0 L222.9 329.1 L223.4 329.2 L223.9 329.3 L224.4 329.4 L224.9 329.5 L225.4 329.6 L225.9 329.7 L226.4 329.9 L226.9 330.0 L227.4 330.1 L227.9 330.2 L228.4 330.4 L228.9 330.5 L229.4 330.7 L229.9 330.8 L230.4 331.0 L230.9 331.1 L231.4 331.3 L231.9 331.4 L232.4 331.6 L232.9 331.8 L233.4 331.9 L233.9 332.1 L234.4 332.3 L234.9 332.5 L235.4 332.7 L235.9 332.9 L236.4 333.1 L236.9 333.3 L237.4 333.5 L237.9 333.7 L238.4 333.9 L238.9 334.1 L239.4 334.4 L239.9 334.6 L240.4 334.8 L240.9 335.1 L241.4 335.3 L241.9 335.6 L242.4 335.8 L242.9 336.1 L243.4 336.3 L243.9 336.6 L244.4 336.9 L244.9 337.2 L245.4 337.5 L245.9 337.8 L246.4 338.1 L246.9 338.5 L247.4 338.8 L247.9 339.2 L248.4 339.5 L248.9 339.9 L249.4 340.3 L249.9 340.7 L250.4 341.2 L250.9 341.6 L251.4 342.1 L251.9 342.6 L252.4 343.2 L252.9 343.7 L253.4 344.3 L253.9 344.9 L254.4 345.6 L254.9 346.2 L255.4 346.9 L255.9 347.7 L256.4 348.5 L256.9 349.3 L257.4 350.2 L257.9 351.1 L258.4 352.1 L258.9 353.1 L259.4 354.1 L259.9 355.3 L260.4 356.4 L260.9 357.7 L261.4 358.9 L261.9 360.3 L262.4 361.7 L262.9 363.1 L263.4 364.6 L263.9 366.2 L264.4 367.9 L264.9 369.6 L265.4 371.4 L265.9 373.3 L266.4 375.3 L266.9 377.3 L267.4 379.4 L267.9 381.4 L268.4 383.4 L268.9 385.4 L269.4 387.4 L269.9 389.3 L270.4 391.3 L270.9 393.2 L271.4 395.0 L271.9 396.8 L272.4 398.5 L272.9 400.1 L273.4 401.5 L273.9 402.9 L274.4 404.1 L274.9 405.3 L275.4 406.3 L275.9 407.1 L276.4 407.7 L276.9 408.2 L277.4 408.5 L277.9 408.7 L278.4 408.9 L278.9 408.9 L279.4 408.9 L279.9 408.8 L280.4 408.6 L280.9 408.2 L281.4 407.8 L281.9 407.1 L282.4 406.2 L282.9 405.0 L283.4 403.7 L283.9 402.2 L284.4 400.7 L284.9 399.0 L285.4 397.2 L285.9 395.3 L286.4 393.3 L286.9 391.3 L287.4 389.2 L287.9 387.1 L288.4 385.1 L288.9 383.1 L289.4 381.2 L289.9 379.2 L290.4 377.3 L290.9 375.3 L291.4 373.4 L291.9 371.6 L292.4 369.7 L292.9 368.0 L293.4 366.3 L293.9 364.6 L294.4 363.1 L294.9 361.6 L295.4 360.1 L295.9 358.7 L296.4 357.4 L296.9 356.1 L297.4 354.9 L297.9 353.7 L298.4 352.6 L298.9 351.5 L299.4 350.5 L299.9 349.5 L300.4 348.6 L300.9 347.7 L301.4 346.8 L301.9 346.0 L302.4 345.2 L302.9 344.5 L303.4 343.7 L303.9 343.1 L304.4 342.4 L304.9 341.8 L305.4 341.2 L305.9 340.6 L306.4 340.0 L306.9 339.5 L307.4 339.0 L307.9 338.5 L308.4 338.0 L308.9 337.6 L309.4 337.1 L309.9 336.7 L310.4 336.3 L310.9 335.9 L311.4 335.5 L311.9 335.2 L312.4 334.8 L312.9 334.5 L313.4 334.2 L313.9 333.8 L314.4 333.5 L314.9 333.2 L315.4 332.9 L315.9 332.7 L316.4 332.4 L316.9 332.1 L317.4 331.9 L317.9 331.6 L318.4 331.4 L318.9 331.2 L319.4 330.9 L319.9 330.7 L320.4 330.5 L320.9 330.3 L321.4 330.1 L321.9 329.9 L322.4 329.8 L322.9 329.6 L323.4 329.4 L323.9 329.3 L324.4 329.1 L324.9 329.0 L325.4 328.8 L325.9 328.7 L326.4 328.6 L326.9 328.4 L327.4 328.3 L327.9 328.2 L328.4 328.1 L328.9 328.0 L329.4 327.9 L329.9 327.8 L330.4 327.7 L330.9 327.6 L331.4 327.5 L331.9 327.4 L332.4 327.4 L332.9 327.3 L333.4 327.2 L333.9 327.1 L334.4 327.1 L334.9 327.0 L335.4 326.9 L335.9 326.9 L336.4 326.8 L336.9 326.7 L337.4 326.7 L337.9 326.6 L338.4 326.6 L338.9 326.5 L339.4 326.5 L339.9 326.4 L340.4 326.4 L340.9 326.3 L341.4 326.3 L341.9 326.2 L342.4 326.2 L342.9 326.1 L343.4 326.1 L343.9 326.0 L344.4 326.0 L344.9 325.9 L345.4 325.9 L345.9 325.9 L346.4 325.8 L346.9 325.8 L347.4 325.7 L347.9 325.7 L348.4 325.7 L348.9 325.6 L349.4 325.6 L349.9 325.5 L350.4 325.5 L350.9 325.5 L351.4 325.4 L351.9 325.4 L352.4 325.4 L352.9 325.3 L353.4 325.3 L353.9 325.3 L354.4 325.3 L354.9 325.2 L355.4 325.2 L355.9 325.2 L356.4 325.1 L356.9 325.1 L357.4 325.1 L357.9 325.1 L358.4 325.0 L358.9 325.0 L359.4 325.0 L359.9 325.0 L360.4 324.9 L360.9 324.9 L361.4 324.9 L361.9 324.9 L362.4 324.9 L362.9 324.8 L363.4 324.8 L363.9 324.8 L364.4 324.8 L364.9 324.8 L365.4 324.8 L365.9 324.7 L366.4 324.7 L366.9 324.7 L367.4 324.7 L367.9 324.7 L368.4 324.7 L368.9 324.7 L369.4 324.6 L369.9 324.6 L370.4 324.6 L370.9 324.6 L371.4 324.6 L371.9 324.6 L372.4 324.6 L372.9 324.6 L373.4 324.6 L373.9 324.6 L374.4 324.6 L374.9 324.5 L375.4 324.5 L375.9 324.5 L376.4 324.5 L376.9 324.5 L377.4 324.5 L377.9 324.5 L378.4 324.5 L378.9 324.5 L379.4 324.5 L379.9 324.5 L380.4 324.5 L380.9 324.5 L381.4 324.5 L381.9 324.5 L382.4 324.5 L382.9 324.5 L383.4 324.5 L383.9 324.5 L384.4 324.5 L384.9 324.5 L385.4 324.5 L385.9 324.5 L386.4 324.5 L386.9 324.5 L387.4 324.5 L387.9 324.5 L388.4 324.5 L388.9 324.5 L389.4 324.5 L389.9 324.5 L390.4 324.5 L390.9 324.5 L391.4 324.5 L391.9 324.5 L392.4 324.5 L392.9 324.5 L393.4 324.5 L393.9 324.5 L394.4 324.5 L394.9 324.5 L395.4 324.5 L395.9 324.5 L396.4 324.5 L396.9 324.5 L397.4 324.5 L397.9 324.5 L398.4 324.5 L398.9 324.5 L399.4 324.5 L399.9 324.4 L400.4 324.4 L400.9 324.4 L401.0 324.4"/>
<path d="M157.4 377.9 L157.9 377.9 L158.4 377.9 L158.9 378.0 L159.4 378.0 L159.9 378.0 L160.4 378.0 L160.9 378.0 L161.4 378.0 L161.9 378.0 L162.4 378.0 L162.9 378.0 L163.4 378.1 L163.9 378.1 L164.4 378.1 L164.9 378.1 L165.4 378.1 L165.9 378.1 L166.4 378.2 L166.9 378.2 L167.4 378.2 L167.9 378.2 L168.4 378.2 L168.9 378.2 L169.4 378.3 L169.9 378.3 L170.4 378.3 L170.9 378.3 L171.4 378.3 L171.9 378.3 L172.4 378.4 L172.9 378.4 L173.4 378.4 L173.9 378.4 L174.4 378.4 L174.9 378.5 L175.4 378.5 L175.9 378.5 L176.4 378.5 L176.9 378.6 L177.4 378.6 L177.9 378.6 L178.4 378.6 L178.9 378.6 L179.4 378.7 L179.9 378.7 L180.4 378.7 L180.9 378.7 L181.4 378.8 L181.9 378.8 L182.4 378.8 L182.9 378.8 L183.4 378.9 L183.9 378.9 L184.4 378.9 L184.9 378.9 L185.4 379.0 L185.9 379.0 L186.4 379.0 L186.9 379.0 L187.4 379.1 L187.9 379.1 L188.4 379.1 L188.9 379.2 L189.4 379.2 L189.9 379.2 L190.4 379.3 L190.9 379.3 L191.4 379.3 L191.9 379.3 L192.4 379.4 L192.9 379.4 L193.4 379.4 L193.9 379.5 L194.4 379.5 L194.9 379.5 L195.4 379.6 L195.9 379.6 L196.4 379.6 L196.9 379.7 L197.4 379.7 L197.9 379.8 L198.4 379.8 L198.9 379.8 L199.4 379.9 L199.9 379.9 L200.4 379.9 L200.9 380.0 L201.4 380.0 L201.9 380.1 L202.4 380.1 L202.9 380.1 L203.4 380.2 L203.9 380.2 L204.4 380.3 L204.9 380.3 L205.4 380.4 L205.9 380.4 L206.4 380.4 L206.9 380.5 L207.4 380.5 L207.9 380.6 L208.4 380.6 L208.9 380.7 L209.4 380.7 L209.9 380.8 L210.4 380.9 L210.9 380.9 L211.4 381.0 L211.9 381.0 L212.4 381.1 L212.9 381.1 L213.4 381.2 L213.9 381.3 L214.4 381.3 L214.9 381.4 L215.4 381.5 L215.9 381.5 L216.4 381.6 L216.9 381.7 L217.4 381.8 L217.9 381.9 L218.4 381.9 L218.9 382.0 L219.4 382.1 L219.9 382.2 L220.4 382.3 L220.9 382.4 L221.4 382.5 L221.9 382.6 L222.4 382.7 L222.9 382.8 L223.4 382.9 L223.9 383.0 L224.4 383.1 L224.9 383.2 L225.4 383.4 L225.9 383.5 L226.4 383.6 L226.9 383.8 L227.4 383.9 L227.9 384.0 L228.4 384.2 L228.9 384.3 L229.4 384.5 L229.9 384.6 L230.4 384.8 L230.9 384.9 L231.4 385.1 L231.9 385.3 L232.4 385.5 L232.9 385.6 L233.4 385.8 L233.9 386.0 L234.4 386.2 L234.9 386.4 L235.4 386.6 L235.9 386.8 L236.4 387.0 L236.9 387.2 L237.4 387.4 L237.9 387.6 L238.4 387.9 L238.9 388.1 L239.4 388.3 L239.9 388.6 L240.4 388.8 L240.9 389.1 L241.4 389.3 L241.9 389.6 L242.4 389.9 L242.9 390.2 L243.4 390.5 L243.9 390.8 L244.4 391.1 L244.9 391.4 L245.4 391.7 L245.9 392.1 L246.4 392.4 L246.9 392.8 L247.4 393.2 L247.9 393.6 L248.4 394.0 L248.9 394.4 L249.4 394.9 L249.9 395.4 L250.4 395.9 L250.9 396.4 L251.4 396.9 L251.9 397.5 L252.4 398.1 L252.9 398.7 L253.4 399.4 L253.9 400.1 L254.4 400.8 L254.9 401.5 L255.4 402.3 L255.9 403.2 L256.4 404.0 L256.9 404.9 L257.4 405.9 L257.9 406.9 L258.4 407.9 L258.9 409.0 L259.4 410.1 L259.9 411.3 L260.4 412.5 L260.9 413.8 L261.4 415.1 L261.9 416.5 L262.4 418.0 L262.9 419.5 L263.4 421.0 L263.9 422.7 L264.4 424.4 L264.9 426.1 L265.4 427.9 L265.9 429.8 L266.4 431.7 L266.9 433.7 L267.4 435.7 L267.9 437.7 L268.4 439.7 L268.9 441.8 L269.4 443.9 L269.9 445.9 L270.4 447.9 L270.9 450.0 L271.4 452.0 L271.9 454.0 L272.4 456.0 L272.9 457.9 L273.4 459.8 L273.9 461.5 L274.4 463.2 L274.9 464.8 L275.4 466.2 L275.9 467.4 L276.4 468.4 L276.9 469.1 L277.4 469.6 L277.9 469.9 L278.4 470.0 L278.9 469.9 L279.4 469.7 L279.9 469.2 L280.4 468.5 L280.9 467.6 L281.4 466.4 L281.9 465.0 L282.4 463.4 L282.9 461.7 L283.4 459.9 L283.9 458.0 L284.4 456.1 L284.9 454.0 L285.4 451.9 L285.9 449.8 L286.4 447.6 L286.9 445.6 L287.4 443.5 L287.9 441.5 L288.4 439.4 L288.9 437.4 L289.4 435.3 L289.9 433.2 L290.4 431.1 L290.9 429.1 L291.4 427.0 L291.9 425.0 L292.4 423.1 L292.9 421.3 L293.4 419.6 L293.9 418.0 L294.4 416.4 L294.9 414.9 L295.4 413.5 L295.9 412.1 L296.4 410.8 L296.9 409.5 L297.4 408.3 L297.9 407.2 L298.4 406.1 L298.9 405.0 L299.4 404.0 L299.9 403.0 L300.4 402.1 L300.9 401.2 L301.4 400.4 L301.9 399.6 L302.4 398.8 L302.9 398.1 L303.4 397.4 L303.9 396.7 L304.4 396.1 L304.9 395.4 L305.4 394.8 L305.9 394.3 L306.4 393.7 L306.9 393.2 L307.4 392.7 L307.9 392.2 L308.4 391.8 L308.9 391.3 L309.4 390.9 L309.9 390.5 L310.4 390.1 L310.9 389.7 L311.4 389.3 L311.9 388.9 L312.4 388.6 L312.9 388.2 L313.4 387.9 L313.9 387.6 L314.4 387.3 L314.9 387.0 L315.4 386.7 L315.9 386.4 L316.4 386.1 L316.9 385.8 L317.4 385.6 L317.9 385.3 L318.4 385.1 L318.9 384.8 L319.4 384.6 L319.9 384.4 L320.4 384.2 L320.9 384.0 L321.4 383.8 L321.9 383.6 L322.4 383.4 L322.9 383.2 L323.4 383.0 L323.9 382.9 L324.4 382.7 L324.9 382.6 L325.4 382.4 L325.9 382.3 L326.4 382.1 L326.9 382.0 L327.4 381.9 L327.9 381.7 L328.4 381.6 L328.9 381.5 L329.4 381.4 L329.9 381.3 L330.4 381.2 L330.9 381.1 L331.4 381.0 L331.9 380.9 L332.4 380.8 L332.9 380.7 L333.4 380.6 L333.9 380.5 L334.4 380.5 L334.9 380.4 L335.4 380.3 L335.9 380.2 L336.4 380.2 L336.9 380.1 L337.4 380.0 L337.9 379.9 L338.4 379.9 L338.9 379.8 L339.4 379.8 L339.9 379.7 L340.4 379.6 L340.9 379.6 L341.4 379.5 L341.9 379.5 L342.4 379.4 L342.9 379.4 L343.4 379.3 L343.9 379.2 L344.4 379.2 L344.9 379.1 L345.4 379.1 L345.9 379.1 L346.4 379.0 L346.9 379.0 L347.4 378.9 L347.9 378.9 L348.4 378.8 L348.9 378.8 L349.4 378.8 L349.9 378.7 L350.4 378.7 L350.9 378.6 L351.4 378.6 L351.9 378.6 L352.4 378.5 L352.9 378.5 L353.4 378.5 L353.9 378.4 L354.4 378.4 L354.9 378.4 L355.4 378.4 L355.9 378.3 L356.4 378.3 L356.9 378.3 L357.4 378.3 L357.9 378.2 L358.4 378.2 L358.9 378.2 L359.4 378.2 L359.9 378.2 L360.4 378.1 L360.9 378.1 L361.4 378.1 L361.9 378.1 L362.4 378.1 L362.9 378.1 L363.4 378.1 L363.9 378.0 L364.4 378.0 L364.9 378.0 L365.4 378.0 L365.9 378.0 L366.4 378.0 L366.9 378.0 L367.4 378.0 L367.9 378.0 L368.4 378.0 L368.9 377.9 L369.4 377.9 L369.9 377.9 L370.4 377.9 L370.9 377.9 L371.4 377.9 L371.9 377.9 L372.4 377.9 L372.9 377.9 L373.4 377.9 L373.9 377.9 L374.4 377.9 L374.9 377.9 L375.4 377.9 L375.9 377.9 L376.4 377.9 L376.9 377.9 L377.4 377.9 L377.9 377.9 L378.4 377.9 L378.9 377.9 L379.4 377.9 L379.9 377.9 L380.4 377.9 L380.9 377.9 L381.4 377.9 L381.9 377.9 L382.4 377.9 L382.9 377.9 L383.4 377.9 L383.9 377.9 L384.4 377.9 L384.9 377.9 L385.4 377.9 L385.9 377.9 L386.4 377.9 L386.9 377.9 L387.4 377.8 L387.9 377.8 L388.4 377.8 L388.9 377.8 L389.4 377.8 L389.9 377.8 L390.4 377.8 L390.9 377.8 L391.4 377.8 L391.9 377.8 L392.4 377.8 L392.9 377.8 L393.4 377.8 L393.9 377.8 L394.4 377.8 L394.9 377.8 L395.4 377.8 L395.9 377.8 L396.4 377.8 L396.9 377.8 L397.4 377.8 L397.9 377.8 L398.4 377.8 L398.9 377.8 L399.4 377.8 L399.9 377.8 L400.4 377.8 L400.9 377.8 L401.0 377.8"/>
<path d="M157.4 430.5 L157.9 430.5 L158.4 430.5 L158.9 430.5 L159.4 430.5 L159.9 430.5 L160.4 430.5 L160.9 430.5 L161.4 430.6 L161.9 430.6 L162.4 430.6 L162.9 430.6 L163.4 430.6 L163.9 430.6 L164.4 430.6 L164.9 430.7 L165.4 430.7 L165.9 430.7 L166.4 430.7 L166.9 430.7 L167.4 430.7 L167.9 430.7 L168.4 430.8 L168.9 430.8 L169.4 430.8 L169.9 430.8 L170.4 430.8 L170.9 430.9 L171.4 430.9 L171.9 430.9 L172.4 430.9 L172.9 430.9 L173.4 431.0 L173.9 431.0 L174.4 431.0 L174.9 431.0 L175.4 431.0 L175.9 431.1 L176.4 431.1 L176.9 431.1 L177.4 431.1 L177.9 431.1 L178.4 431.2 L178.9 431.2 L179.4 431.2 L179.9 431.2 L180.4 431.3 L180.9 431.3 L181.4 431.3 L181.9 431.3 L182.4 431.4 L182.9 431.4 L183.4 431.4 L183.9 431.4 L184.4 431.5 L184.9 431.5 L185.4 431.5 L185.9 431.5 L186.4 431.6 L186.9 431.6 L187.4 431.6 L187.9 431.6 L188.4 431.7 L188.9 431.7 L189.4 431.7 L189.9 431.8 L190.4 431.8 L190.9 431.8 L191.4 431.9 L191.9 431.9 L192.4 431.9 L192.9 432.0 L193.4 432.0 L193.9 432.0 L194.4 432.1 L194.9 432.1 L195.4 432.1 L195.9 432.2 L196.4 432.2 L196.9 432.3 L197.4 432.3 L197.9 432.4 L198.4 432.4 L198.9 432.4 L199.4 432.5 L199.9 432.5 L200.4 432.6 L200.9 432.6 L201.4 432.7 L201.9 432.7 L202.4 432.8 L202.9 432.8 L203.4 432.9 L203.9 432.9 L204.4 433.0 L204.9 433.0 L205.4 433.1 L205.9 433.2 L206.4 433.2 L206.9 433.3 L207.4 433.3 L207.9 433.4 L208.4 433.5 L208.9 433.5 L209.4 433.6 L209.9 433.7 L210.4 433.7 L210.9 433.8 L211.4 433.9 L211.9 433.9 L212.4 434.0 L212.9 434.1 L213.4 434.2 L213.9 434.3 L214.4 434.3 L214.9 434.4 L215.4 434.5 L215.9 434.6 L216.4 434.7 L216.9 434.8 L217.4 434.9 L217.9 435.0 L218.4 435.1 L218.9 435.2 L219.4 435.3 L219.9 435.4 L220.4 435.5 L220.9 435.6 L221.4 435.7 L221.9 435.8 L222.4 435.9 L222.9 436.0 L223.4 436.1 L223.9 436.3 L224.4 436.4 L224.9 436.5 L225.4 436.7 L225.9 436.8 L226.4 436.9 L226.9 437.1 L227.4 437.2 L227.9 437.3 L228.4 437.5 L228.9 437.6 L229.4 437.8 L229.9 437.9 L230.4 438.1 L230.9 438.3 L231.4 438.4 L231.9 438.6 L232.4 438.8 L232.9 439.0 L233.4 439.1 L233.9 439.3 L234.4 439.5 L234.9 439.7 L235.4 439.9 L235.9 440.1 L236.4 440.3 L236.9 440.5 L237.4 440.8 L237.9 441.0 L238.4 441.2 L238.9 441.4 L239.4 441.7 L239.9 441.9 L240.4 442.2 L240.9 442.5 L241.4 442.8 L241.9 443.0 L242.4 443.3 L242.9 443.6 L243.4 444.0 L243.9 444.3 L244.4 444.6 L244.9 445.0 L245.4 445.4 L245.9 445.8 L246.4 446.2 L246.9 446.6 L247.4 447.0 L247.9 447.5 L248.4 447.9 L248.9 448.4 L249.4 448.9 L249.9 449.5 L250.4 450.0 L250.9 450.6 L251.4 451.2 L251.9 451.9 L252.4 452.6 L252.9 453.3 L253.4 454.0 L253.9 454.7 L254.4 455.5 L254.9 456.4 L255.4 457.2 L255.9 458.1 L256.4 459.0 L256.9 460.0 L257.4 461.0 L257.9 462.1 L258.4 463.2 L258.9 464.4 L259.4 465.6 L259.9 466.8 L260.4 468.1 L260.9 469.4 L261.4 470.8 L261.9 472.3 L262.4 473.8 L262.9 475.4 L263.4 477.0 L263.9 478.6 L264.4 480.3 L264.9 482.0 L265.4 483.8 L265.9 485.7 L266.4 487.6 L266.9 489.6 L267.4 491.6 L267.9 493.6 L268.4 495.6 L268.9 497.6 L269.4 499.5 L269.9 501.5 L270.4 503.4 L270.9 505.3 L271.4 507.2 L271.9 509.0 L272.4 510.8 L272.9 512.4 L273.4 513.9 L273.9 515.3 L274.4 516.6 L274.9 517.8 L275.4 518.8 L275.9 519.8 L276.4 520.5 L276.9 521.2 L277.4 521.6 L277.9 522.0 L278.4 522.1 L278.9 522.2 L279.4 522.0 L279.9 521.7 L280.4 521.1 L280.9 520.4 L281.4 519.3 L281.9 518.1 L282.4 516.7 L282.9 515.2 L283.4 513.7 L283.9 512.2 L284.4 510.6 L284.9 509.0 L285.4 507.3 L285.9 505.6 L286.4 503.8 L286.9 501.9 L287.4 500.0 L287.9 498.0 L288.4 495.9 L288.9 493.8 L289.4 491.6 L289.9 489.4 L290.4 487.3 L290.9 485.1 L291.4 483.0 L291.9 481.0 L292.4 479.0 L292.9 477.1 L293.4 475.3 L293.9 473.6 L294.4 472.0 L294.9 470.4 L295.4 468.9 L295.9 467.4 L296.4 466.0 L296.9 464.7 L297.4 463.4 L297.9 462.1 L298.4 461.0 L298.9 459.8 L299.4 458.7 L299.9 457.7 L300.4 456.7 L300.9 455.8 L301.4 454.9 L301.9 454.1 L302.4 453.3 L302.9 452.5 L303.4 451.8 L303.9 451.0 L304.4 450.4 L304.9 449.7 L305.4 449.1 L305.9 448.5 L306.4 447.9 L306.9 447.4 L307.4 446.8 L307.9 446.3 L308.4 445.8 L308.9 445.3 L309.4 444.9 L309.9 444.4 L310.4 444.0 L310.9 443.5 L311.4 443.1 L311.9 442.7 L312.4 442.3 L312.9 441.9 L313.4 441.5 L313.9 441.2 L314.4 440.8 L314.9 440.5 L315.4 440.1 L315.9 439.8 L316.4 439.5 L316.9 439.2 L317.4 438.9 L317.9 438.6 L318.4 438.3 L318.9 438.1 L319.4 437.8 L319.9 437.6 L320.4 437.3 L320.9 437.1 L321.4 436.9 L321.9 436.7 L322.4 436.5 L322.9 436.3 L323.4 436.1 L323.9 435.9 L324.4 435.8 L324.9 435.6 L325.4 435.5 L325.9 435.3 L326.4 435.2 L326.9 435.0 L327.4 434.9 L327.9 434.8 L328.4 434.7 L328.9 434.5 L329.4 434.4 L329.9 434.3 L330.4 434.2 L330.9 434.1 L331.4 434.0 L331.9 433.9 L332.4 433.8 L332.9 433.7 L333.4 433.7 L333.9 433.6 L334.4 433.5 L334.9 433.4 L335.4 433.3 L335.9 433.3 L336.4 433.2 L336.9 433.1 L337.4 433.0 L337.9 433.0 L338.4 432.9 L338.9 432.8 L339.4 432.8 L339.9 432.7 L340.4 432.6 L340.9 432.6 L341.4 432.5 L341.9 432.5 L342.4 432.4 L342.9 432.4 L343.4 432.3 L343.9 432.2 L344.4 432.2 L344.9 432.1 L345.4 432.1 L345.9 432.0 L346.4 432.0 L346.9 431.9 L347.4 431.9 L347.9 431.9 L348.4 431.8 L348.9 431.8 L349.4 431.7 L349.9 431.7 L350.4 431.6 L350.9 431.6 L351.4 431.6 L351.9 431.5 L352.4 431.5 L352.9 431.4 L353.4 431.4 L353.9 431.4 L354.4 431.3 L354.9 431.3 L355.4 431.2 L355.9 431.2 L356.4 431.2 L356.9 431.1 L357.4 431.1 L357.9 431.1 L358.4 431.0 L358.9 431.0 L359.4 431.0 L359.9 431.0 L360.4 430.9 L360.9 430.9 L361.4 430.9 L361.9 430.8 L362.4 430.8 L362.9 430.8 L363.4 430.7 L363.9 430.7 L364.4 430.7 L364.9 430.7 L365.4 430.6 L365.9 430.6 L366.4 430.6 L366.9 430.6 L367.4 430.5 L367.9 430.5 L368.4 430.5 L368.9 430.5 L369.4 430.4 L369.9 430.4 L370.4 430.4 L370.9 430.4 L371.4 430.4 L371.9 430.3 L372.4 430.3 L372.9 430.3 L373.4 430.3 L373.9 430.3 L374.4 430.2 L374.9 430.2 L375.4 430.2 L375.9 430.2 L376.4 430.2 L376.9 430.2 L377.4 430.2 L377.9 430.2 L378.4 430.1 L378.9 430.1 L379.4 430.1 L379.9 430.1 L380.4 430.1 L380.9 430.1 L381.4 430.1 L381.9 430.1 L382.4 430.1 L382.9 430.1 L383.4 430.1 L383.9 430.1 L384.4 430.1 L384.9 430.0 L385.4 430.0 L385.9 430.0 L386.4 430.0 L386.9 430.0 L387.4 430.0 L387.9 430.0 L388.4 430.0 L388.9 430.0 L389.4 430.0 L389.9 430.0 L390.4 430.0 L390.9 430.0 L391.4 430.0 L391.9 430.0 L392.4 430.0 L392.9 430.0 L393.4 430.0 L393.9 430.0 L394.4 430.0 L394.9 430.0 L395.4 430.0 L395.9 430.0 L396.4 430.0 L396.9 430.0 L397.4 430.0 L397.9 430.0 L398.4 430.0 L398.9 430.0 L399.4 430.0 L399.9 430.0 L400.4 430.0 L400.9 430.0 L401.0 430.0"/>
<path d="M505.8 116.3 L506.3 116.3 L506.8 116.3 L507.3 116.3 L507.8 116.3 L508.3 116.3 L508.8 116.3 L509.3 116.3 L509.8 116.3 L510.3 116.3 L510.8 116.3 L511.3 116.3 L511.8 116.3 L512.3 116.3 L512.8 116.3 L513.3 116.3 L513.8 116.3 L514.3 116.3 L514.8 116.3 L515.3 116.3 L515.8 116.3 L516.3 116.3 L516.8 116.3 L517.3 116.3 L517.8 116.3 L518.3 116.3 L518.8 116.3 L519.3 116.3 L519.8 116.3 L520.3 116.3 L520.8 116.3 L521.3 116.3 L521.8 116.3 L522.3 116.3 L522.8 116.3 L523.3 116.3 L523.8 116.3 L524.3 116.3 L524.8 116.3 L525.3 116.3 L525.8 116.3 L526.3 116.3 L526.8 116.3 L527.3 116.3 L527.8 116.3 L528.3 116.3 L528.8 116.3 L529.3 116.3 L529.8 116.3 L530.3 116.3 L530.8 116.3 L531.3 116.3 L531.8 116.3 L532.3 116.3 L532.8 116.3 L533.3 116.3 L533.8 116.3 L534.3 116.3 L534.8 116.3 L535.3 116.3 L535.8 116.3 L536.3 116.3 L536.8 116.3 L537.3 116.3 L537.8 116.4 L538.3 116.4 L538.8 116.4 L539.3 116.4 L539.8 116.4 L540.3 116.5 L540.8 116.5 L541.3 116.5 L541.8 116.5 L542.3 116.6 L542.8 116.6 L543.3 116.6 L543.8 116.7 L544.3 116.7 L544.8 116.7 L545.3 116.8 L545.8 116.8 L546.3 116.8 L546.8 116.9 L547.3 116.9 L547.8 117.0 L548.3 117.0 L548.8 117.0 L549.3 117.1 L549.8 117.1 L550.3 117.2 L550.8 117.3 L551.3 117.3 L551.8 117.4 L552.3 117.5 L552.8 117.6 L553.3 117.7 L553.8 117.8 L554.3 117.9 L554.8 118.0 L555.3 118.1 L555.8 118.2 L556.3 118.3 L556.8 118.5 L557.3 118.6 L557.8 118.8 L558.3 118.9 L558.8 119.1 L559.3 119.3 L559.8 119.4 L560.3 119.6 L560.8 119.8 L561.3 120.0 L561.8 120.2 L562.3 120.5 L562.8 120.7 L563.3 121.0 L563.8 121.2 L564.3 121.5 L564.8 121.9 L565.3 122.2 L565.8 122.6 L566.3 122.9 L566.8 123.3 L567.3 123.8 L567.8 124.2 L568.3 124.6 L568.8 125.0 L569.3 125.5 L569.8 125.9 L570.3 126.4 L570.8 126.8 L571.3 127.3 L571.8 127.7 L572.3 128.2 L572.8 128.6 L573.3 129.1 L573.8 129.6 L574.3 130.0 L574.8 130.5 L575.3 130.9 L575.8 131.4 L576.3 131.8 L576.8 132.2 L577.3 132.6 L577.8 133.0 L578.3 133.3 L578.8 133.6 L579.3 134.0 L579.8 134.3 L580.3 134.5 L580.8 134.8 L581.3 135.0 L581.8 135.2 L582.3 135.4 L582.8 135.6 L583.3 135.7 L583.8 135.8 L584.3 135.8 L584.8 135.8 L585.3 135.7 L585.8 135.6 L586.3 135.5 L586.8 135.3 L587.3 135.1 L587.8 134.8 L588.3 134.6 L588.8 134.2 L589.3 133.9 L589.8 133.5 L590.3 133.1 L590.8 132.7 L591.3 132.2 L591.8 131.8 L592.3 131.2 L592.8 130.7 L593.3 130.2 L593.8 129.6 L594.3 129.0 L594.8 128.5 L595.3 127.9 L595.8 127.4 L596.3 126.8 L596.8 126.3 L597.3 125.9 L597.8 125.4 L598.3 125.0 L598.8 124.6 L599.3 124.2 L599.8 123.8 L600.3 123.4 L600.8 123.0 L601.3 122.7 L601.8 122.4 L602.3 122.1 L602.8 121.8 L603.3 121.5 L603.8 121.2 L604.3 120.9 L604.8 120.7 L605.3 120.5 L605.8 120.2 L606.3 120.0 L606.8 119.8 L607.3 119.6 L607.8 119.4 L608.3 119.3 L608.8 119.1 L609.3 118.9 L609.8 118.8 L610.3 118.6 L610.8 118.5 L611.3 118.3 L611.8 118.2 L612.3 118.0 L612.8 117.9 L613.3 117.8 L613.8 117.7 L614.3 117.6 L614.8 117.5 L615.3 117.4 L615.8 117.3 L616.3 117.3 L616.8 117.2 L617.3 117.1 L617.8 117.1 L618.3 117.0 L618.8 117.0 L619.3 116.9 L619.8 116.9 L620.3 116.9 L620.8 116.8 L621.3 116.8 L621.8 116.8 L622.3 116.7 L622.8 116.7 L623.3 116.7 L623.8 116.6 L624.3 116.6 L624.8 116.6 L625.3 116.5 L625.8 116.5 L626.3 116.5 L626.8 116.5 L627.3 116.4 L627.8 116.4 L628.3 116.4 L628.8 116.4 L629.3 116.4 L629.8 116.3 L630.3 116.3 L630.8 116.3 L631.3 116.3 L631.8 116.3 L632.3 116.3 L632.8 116.3 L633.3 116.3 L633.8 116.3 L634.3 116.3 L634.8 116.3 L635.3 116.3 L635.8 116.3 L636.3 116.3 L636.8 116.3 L637.3 116.3 L637.8 116.3 L638.3 116.3 L638.8 116.3 L639.3 116.3 L639.8 116.3 L640.3 116.3 L640.8 116.3 L641.3 116.3 L641.8 116.3 L642.3 116.3 L642.8 116.3 L643.3 116.3 L643.8 116.3 L644.3 116.3 L644.8 116.3 L645.3 116.3 L645.8 116.3 L646.3 116.3 L646.8 116.3 L647.3 116.3 L647.8 116.3 L648.3 116.3 L648.8 116.3 L649.3 116.3 L649.8 116.3 L650.3 116.3 L650.8 116.3 L651.3 116.3 L651.8 116.3 L652.3 116.3 L652.8 116.3 L653.3 116.3 L653.8 116.3 L654.3 116.3 L654.8 116.3 L655.3 116.3 L655.8 116.3 L656.3 116.3 L656.8 116.3 L657.3 116.3 L657.8 116.3 L658.3 116.3 L658.8 116.3 L659.3 116.3 L659.8 116.3 L660.3 116.3 L660.8 116.3 L661.3 116.3 L661.8 116.3 L662.3 116.3 L662.8 116.3 L663.3 116.3 L663.8 116.3 L664.3 116.3 L664.8 116.3 L665.3 116.3 L665.8 116.3 L666.3 116.3 L666.6 116.3"/>
<path d="M505.8 169.1 L506.3 169.1 L506.8 169.1 L507.3 169.1 L507.8 169.1 L508.3 169.1 L508.8 169.1 L509.3 169.1 L509.8 169.1 L510.3 169.1 L510.8 169.1 L511.3 169.1 L511.8 169.1 L512.3 169.1 L512.8 169.1 L513.3 169.1 L513.8 169.1 L514.3 169.1 L514.8 169.2 L515.3 169.2 L515.8 169.2 L516.3 169.2 L516.8 169.2 L517.3 169.2 L517.8 169.2 L518.3 169.2 L518.8 169.2 L519.3 169.2 L519.8 169.2 L520.3 169.2 L520.8 169.2 L521.3 169.3 L521.8 169.3 L522.3 169.3 L522.8 169.3 L523.3 169.3 L523.8 169.3 L524.3 169.3 L524.8 169.3 L525.3 169.3 L525.8 169.4 L526.3 169.4 L526.8 169.4 L527.3 169.4 L527.8 169.4 L528.3 169.4 L528.8 169.4 L529.3 169.4 L529.8 169.4 L530.3 169.5 L530.8 169.5 L531.3 169.5 L531.8 169.5 L532.3 169.5 L532.8 169.5 L533.3 169.5 L533.8 169.6 L534.3 169.6 L534.8 169.6 L535.3 169.6 L535.8 169.6 L536.3 169.6 L536.8 169.7 L537.3 169.7 L537.8 169.7 L538.3 169.7 L538.8 169.8 L539.3 169.8 L539.8 169.8 L540.3 169.8 L540.8 169.9 L541.3 169.9 L541.8 169.9 L542.3 169.9 L542.8 170.0 L543.3 170.0 L543.8 170.1 L544.3 170.1 L544.8 170.1 L545.3 170.2 L545.8 170.2 L546.3 170.3 L546.8 170.3 L547.3 170.3 L547.8 170.4 L548.3 170.4 L548.8 170.5 L549.3 170.6 L549.8 170.6 L550.3 170.7 L550.8 170.8 L551.3 170.9 L551.8 171.0 L552.3 171.1 L552.8 171.2 L553.3 171.3 L553.8 171.5 L554.3 171.6 L554.8 171.8 L555.3 171.9 L555.8 172.1 L556.3 172.3 L556.8 172.5 L557.3 172.7 L557.8 172.9 L558.3 173.1 L558.8 173.4 L559.3 173.6 L559.8 173.9 L560.3 174.1 L560.8 174.4 L561.3 174.7 L561.8 175.0 L562.3 175.3 L562.8 175.7 L563.3 176.1 L563.8 176.5 L564.3 176.9 L564.8 177.4 L565.3 177.9 L565.8 178.4 L566.3 178.9 L566.8 179.4 L567.3 180.0 L567.8 180.6 L568.3 181.2 L568.8 181.9 L569.3 182.6 L569.8 183.4 L570.3 184.2 L570.8 185.1 L571.3 186.0 L571.8 187.0 L572.3 188.0 L572.8 189.0 L573.3 190.1 L573.8 191.1 L574.3 192.2 L574.8 193.2 L575.3 194.2 L575.8 195.2 L576.3 196.1 L576.8 197.1 L577.3 198.0 L577.8 198.8 L578.3 199.7 L578.8 200.5 L579.3 201.3 L579.8 202.0 L580.3 202.7 L580.8 203.4 L581.3 204.0 L581.8 204.5 L582.3 205.0 L582.8 205.5 L583.3 205.8 L583.8 206.1 L584.3 206.4 L584.8 206.5 L585.3 206.5 L585.8 206.4 L586.3 206.2 L586.8 205.9 L587.3 205.6 L587.8 205.1 L588.3 204.6 L588.8 204.0 L589.3 203.4 L589.8 202.6 L590.3 201.8 L590.8 200.9 L591.3 200.0 L591.8 199.0 L592.3 197.9 L592.8 196.8 L593.3 195.7 L593.8 194.6 L594.3 193.5 L594.8 192.3 L595.3 191.2 L595.8 190.0 L596.3 188.8 L596.8 187.7 L597.3 186.5 L597.8 185.4 L598.3 184.3 L598.8 183.2 L599.3 182.2 L599.8 181.3 L600.3 180.5 L600.8 179.7 L601.3 179.0 L601.8 178.3 L602.3 177.7 L602.8 177.1 L603.3 176.6 L603.8 176.1 L604.3 175.6 L604.8 175.2 L605.3 174.8 L605.8 174.4 L606.3 174.1 L606.8 173.7 L607.3 173.4 L607.8 173.2 L608.3 172.9 L608.8 172.7 L609.3 172.5 L609.8 172.3 L610.3 172.2 L610.8 172.0 L611.3 171.9 L611.8 171.7 L612.3 171.6 L612.8 171.4 L613.3 171.3 L613.8 171.2 L614.3 171.1 L614.8 171.0 L615.3 170.8 L615.8 170.7 L616.3 170.6 L616.8 170.6 L617.3 170.5 L617.8 170.4 L618.3 170.3 L618.8 170.3 L619.3 170.2 L619.8 170.1 L620.3 170.1 L620.8 170.0 L621.3 170.0 L621.8 169.9 L622.3 169.9 L622.8 169.9 L623.3 169.8 L623.8 169.8 L624.3 169.8 L624.8 169.7 L625.3 169.7 L625.8 169.7 L626.3 169.6 L626.8 169.6 L627.3 169.6 L627.8 169.6 L628.3 169.5 L628.8 169.5 L629.3 169.5 L629.8 169.5 L630.3 169.4 L630.8 169.4 L631.3 169.4 L631.8 169.4 L632.3 169.4 L632.8 169.4 L633.3 169.3 L633.8 169.3 L634.3 169.3 L634.8 169.3 L635.3 169.3 L635.8 169.2 L636.3 169.2 L636.8 169.2 L637.3 169.2 L637.8 169.2 L638.3 169.2 L638.8 169.2 L639.3 169.1 L639.8 169.1 L640.3 169.1 L640.8 169.1 L641.3 169.1 L641.8 169.1 L642.3 169.0 L642.8 169.0 L643.3 169.0 L643.8 169.0 L644.3 169.0 L644.8 169.0 L645.3 168.9 L645.8 168.9 L646.3 168.9 L646.8 168.9 L647.3 168.9 L647.8 168.9 L648.3 168.9 L648.8 168.8 L649.3 168.8 L649.8 168.8 L650.3 168.8 L650.8 168.8 L651.3 168.8 L651.8 168.8 L652.3 168.7 L652.8 168.7 L653.3 168.7 L653.8 168.7 L654.3 168.7 L654.8 168.7 L655.3 168.7 L655.8 168.7 L656.3 168.6 L656.8 168.6 L657.3 168.6 L657.8 168.6 L658.3 168.6 L658.8 168.6 L659.3 168.6 L659.8 168.6 L660.3 168.6 L660.8 168.5 L661.3 168.5 L661.8 168.5 L662.3 168.5 L662.8 168.5 L663.3 168.5 L663.8 168.5 L664.3 168.5 L664.8 168.5 L665.3 168.5 L665.8 168.5 L666.3 168.5 L666.6 168.5"/>
<path d="M505.8 221.0 L506.3 221.0 L506.8 221.0 L507.3 221.0 L507.8 221.0 L508.3 221.0 L508.8 221.0 L509.3 221.0 L509.8 221.0 L510.3 221.0 L510.8 221.0 L511.3 221.0 L511.8 221.0 L512.3 221.0 L512.8 221.0 L513.3 221.0 L513.8 221.1 L514.3 221.1 L514.8 221.1 L515.3 221.1 L515.8 221.1 L516.3 221.1 L516.8 221.1 L517.3 221.1 L517.8 221.1 L518.3 221.1 L518.8 221.1 L519.3 221.1 L519.8 221.1 L520.3 221.1 L520.8 221.1 L521.3 221.1 L521.8 221.1 L522.3 221.1 L522.8 221.1 L523.3 221.1 L523.8 221.1 L524.3 221.1 L524.8 221.1 L525.3 221.1 L525.8 221.1 L526.3 221.1 L526.8 221.1 L527.3 221.1 L527.8 221.1 L528.3 221.1 L528.8 221.1 L529.3 221.1 L529.8 221.2 L530.3 221.2 L530.8 221.2 L531.3 221.2 L531.8 221.2 L532.3 221.2 L532.8 221.2 L533.3 221.2 L533.8 221.2 L534.3 221.2 L534.8 221.2 L535.3 221.2 L535.8 221.2 L536.3 221.2 L536.8 221.2 L537.3 221.2 L537.8 221.2 L538.3 221.2 L538.8 221.3 L539.3 221.3 L539.8 221.3 L540.3 221.3 L540.8 221.3 L541.3 221.3 L541.8 221.3 L542.3 221.3 L542.8 221.3 L543.3 221.4 L543.8 221.4 L544.3 221.4 L544.8 221.4 L545.3 221.5 L545.8 221.5 L546.3 221.5 L546.8 221.5 L547.3 221.6 L547.8 221.6 L548.3 221.6 L548.8 221.7 L549.3 221.7 L549.8 221.7 L550.3 221.8 L550.8 221.8 L551.3 221.9 L551.8 221.9 L552.3 221.9 L552.8 222.0 L553.3 222.0 L553.8 222.1 L554.3 222.1 L554.8 222.2 L555.3 222.3 L555.8 222.3 L556.3 222.4 L556.8 222.5 L557.3 222.6 L557.8 222.7 L558.3 222.9 L558.8 223.0 L559.3 223.2 L559.8 223.3 L560.3 223.5 L560.8 223.7 L561.3 223.8 L561.8 224.0 L562.3 224.3 L562.8 224.5 L563.3 224.7 L563.8 225.0 L564.3 225.2 L564.8 225.5 L565.3 225.8 L565.8 226.2 L566.3 226.6 L566.8 227.1 L567.3 227.7 L567.8 228.3 L568.3 229.0 L568.8 229.7 L569.3 230.5 L569.8 231.4 L570.3 232.3 L570.8 233.3 L571.3 234.3 L571.8 235.5 L572.3 236.8 L572.8 238.2 L573.3 239.8 L573.8 241.6 L574.3 243.4 L574.8 245.4 L575.3 247.4 L575.8 249.6 L576.3 251.8 L576.8 254.1 L577.3 256.5 L577.8 259.0 L578.3 261.6 L578.8 264.2 L579.3 266.7 L579.8 269.3 L580.3 271.8 L580.8 274.2 L581.3 276.6 L581.8 278.9 L582.3 281.0 L582.8 282.9 L583.3 284.5 L583.8 285.7 L584.3 286.7 L584.8 287.3 L585.3 287.7 L585.8 287.7 L586.3 287.5 L586.8 286.9 L587.3 286.0 L587.8 284.9 L588.3 283.5 L588.8 281.9 L589.3 280.0 L589.8 277.8 L590.3 275.3 L590.8 272.7 L591.3 270.0 L591.8 267.3 L592.3 264.6 L592.8 261.9 L593.3 259.3 L593.8 256.6 L594.3 254.1 L594.8 251.5 L595.3 249.1 L595.8 246.8 L596.3 244.5 L596.8 242.4 L597.3 240.4 L597.8 238.5 L598.3 236.7 L598.8 235.0 L599.3 233.4 L599.8 232.0 L600.3 230.8 L600.8 229.7 L601.3 228.8 L601.8 227.9 L602.3 227.2 L602.8 226.5 L603.3 225.9 L603.8 225.4 L604.3 224.9 L604.8 224.4 L605.3 224.1 L605.8 223.8 L606.3 223.5 L606.8 223.3 L607.3 223.1 L607.8 222.9 L608.3 222.8 L608.8 222.6 L609.3 222.5 L609.8 222.3 L610.3 222.2 L610.8 222.1 L611.3 222.0 L611.8 221.9 L612.3 221.8 L612.8 221.7 L613.3 221.6 L613.8 221.5 L614.3 221.5 L614.8 221.4 L615.3 221.4 L615.8 221.3 L616.3 221.3 L616.8 221.3 L617.3 221.3 L617.8 221.2 L618.3 221.2 L618.8 221.2 L619.3 221.2 L619.8 221.2 L620.3 221.2 L620.8 221.2 L621.3 221.2 L621.8 221.2 L622.3 221.2 L622.8 221.2 L623.3 221.2 L623.8 221.1 L624.3 221.1 L624.8 221.1 L625.3 221.1 L625.8 221.1 L626.3 221.1 L626.8 221.1 L627.3 221.1 L627.8 221.1 L628.3 221.1 L628.8 221.1 L629.3 221.1 L629.8 221.1 L630.3 221.1 L630.8 221.1 L631.3 221.1 L631.8 221.1 L632.3 221.1 L632.8 221.1 L633.3 221.1 L633.8 221.1 L634.3 221.1 L634.8 221.0 L635.3 221.0 L635.8 221.0 L636.3 221.0 L636.8 221.0 L637.3 221.0 L637.8 221.0 L638.3 221.0 L638.8 221.0 L639.3 221.0 L639.8 221.0 L640.3 221.0 L640.8 221.0 L641.3 221.0 L641.8 221.0 L642.3 221.0 L642.8 221.0 L643.3 221.0 L643.8 221.0 L644.3 221.0 L644.8 221.0 L645.3 221.0 L645.8 221.0 L646.3 221.0 L646.8 221.0 L647.3 221.0 L647.8 221.0 L648.3 221.0 L648.8 221.0 L649.3 221.0 L649.8 221.0 L650.3 221.0 L650.8 221.0 L651.3 221.0 L651.8 221.0 L652.3 221.0 L652.8 221.0 L653.3 221.0 L653.8 221.0 L654.3 221.0 L654.8 221.0 L655.3 221.0 L655.8 221.0 L656.3 221.0 L656.8 221.0 L657.3 221.0 L657.8 221.0 L658.3 221.0 L658.8 221.0 L659.3 221.0 L659.8 221.0 L660.3 221.0 L660.8 221.0 L661.3 221.0 L661.8 221.0 L662.3 221.0 L662.8 221.0 L663.3 221.0 L663.8 221.0 L664.3 221.0 L664.8 221.0 L665.3 221.0 L665.8 221.0 L666.3 221.0 L666.6 221.0"/>
<path d="M525.9 325.1 L526.4 325.1 L526.9 325.1 L527.4 325.1 L527.9 325.1 L528.4 325.1 L528.9 325.1 L529.4 325.1 L529.9 325.1 L530.4 325.1 L530.9 325.1 L531.4 325.1 L531.9 325.1 L532.4 325.1 L532.9 325.1 L533.4 325.1 L533.9 325.1 L534.4 325.1 L534.9 325.1 L535.4 325.1 L535.9 325.1 L536.4 325.1 L536.9 325.1 L537.4 325.1 L537.9 325.1 L538.4 325.1 L538.9 325.1 L539.4 325.1 L539.9 325.1 L540.4 325.1 L540.9 325.1 L541.4 325.1 L541.9 325.1 L542.4 325.1 L542.9 325.1 L543.4 325.1 L543.9 325.1 L544.4 325.1 L544.9 325.1 L545.4 325.1 L545.9 325.1 L546.4 325.1 L546.9 325.1 L547.4 325.1 L547.9 325.1 L548.4 325.1 L548.9 325.1 L549.4 325.1 L549.9 325.1 L550.4 325.1 L550.9 325.1 L551.4 325.1 L551.9 325.2 L552.4 325.2 L552.9 325.2 L553.4 325.2 L553.9 325.3 L554.4 325.3 L554.9 325.3 L555.4 325.4 L555.9 325.4 L556.4 325.4 L556.9 325.5 L557.4 325.5 L557.9 325.6 L558.4 325.6 L558.9 325.7 L559.4 325.7 L559.9 325.8 L560.4 325.9 L560.9 325.9 L561.4 326.0 L561.9 326.1 L562.4 326.1 L562.9 326.2 L563.4 326.3 L563.9 326.4 L564.4 326.5 L564.9 326.6 L565.4 326.8 L565.9 326.9 L566.4 327.1 L566.9 327.2 L567.4 327.4 L567.9 327.5 L568.4 327.7 L568.9 327.9 L569.4 328.1 L569.9 328.3 L570.4 328.5 L570.9 328.7 L571.4 328.9 L571.9 329.1 L572.4 329.3 L572.9 329.5 L573.4 329.8 L573.9 330.0 L574.4 330.3 L574.9 330.5 L575.4 330.8 L575.9 331.0 L576.4 331.3 L576.9 331.5 L577.4 331.8 L577.9 332.0 L578.4 332.3 L578.9 332.5 L579.4 332.7 L579.9 332.9 L580.4 333.1 L580.9 333.3 L581.4 333.5 L581.9 333.7 L582.4 333.8 L582.9 334.0 L583.4 334.1 L583.9 334.2 L584.4 334.3 L584.9 334.4 L585.4 334.4 L585.9 334.4 L586.4 334.4 L586.9 334.3 L587.4 334.2 L587.9 334.1 L588.4 333.9 L588.9 333.8 L589.4 333.6 L589.9 333.3 L590.4 333.1 L590.9 332.9 L591.4 332.6 L591.9 332.3 L592.4 332.1 L592.9 331.8 L593.4 331.6 L593.9 331.3 L594.4 331.0 L594.9 330.8 L595.4 330.5 L595.9 330.2 L596.4 330.0 L596.9 329.7 L597.4 329.5 L597.9 329.2 L598.4 329.0 L598.9 328.7 L599.4 328.5 L599.9 328.3 L600.4 328.1 L600.9 327.9 L601.4 327.7 L601.9 327.6 L602.4 327.4 L602.9 327.3 L603.4 327.1 L603.9 327.0 L604.4 326.8 L604.9 326.7 L605.4 326.5 L605.9 326.4 L606.4 326.3 L606.9 326.2 L607.4 326.1 L607.9 326.0 L608.4 325.9 L608.9 325.9 L609.4 325.8 L609.9 325.7 L610.4 325.7 L610.9 325.6 L611.4 325.6 L611.9 325.6 L612.4 325.5 L612.9 325.5 L613.4 325.5 L613.9 325.4 L614.4 325.4 L614.9 325.4 L615.4 325.4 L615.9 325.3 L616.4 325.3 L616.9 325.3 L617.4 325.3 L617.9 325.3 L618.4 325.3 L618.9 325.2 L619.4 325.2 L619.9 325.2 L620.4 325.2 L620.9 325.2 L621.4 325.2 L621.9 325.2 L622.4 325.1 L622.9 325.1 L623.4 325.1 L623.9 325.1 L624.4 325.1 L624.9 325.1 L625.4 325.1 L625.9 325.1 L626.4 325.0 L626.9 325.0 L627.4 325.0 L627.9 325.0 L628.4 325.0 L628.9 325.0 L629.4 325.0 L629.9 325.0 L630.4 324.9 L630.9 324.9 L631.4 324.9 L631.9 324.9 L632.4 324.9 L632.9 324.9 L633.4 324.9 L633.9 324.9 L634.4 324.9 L634.9 324.9 L635.4 324.8 L635.9 324.8 L636.4 324.8 L636.9 324.8 L637.4 324.8 L637.9 324.8 L638.4 324.8 L638.9 324.8 L639.4 324.8 L639.9 324.8 L640.4 324.8 L640.9 324.7 L641.4 324.7 L641.9 324.7 L642.4 324.7 L642.9 324.7 L643.4 324.7 L643.9 324.7 L644.4 324.7 L644.9 324.7 L645.4 324.7 L645.9 324.7 L646.4 324.7 L646.5 324.7"/>
<path d="M525.9 377.4 L526.4 377.4 L526.9 377.4 L527.4 377.4 L527.9 377.4 L528.4 377.4 L528.9 377.4 L529.4 377.4 L529.9 377.4 L530.4 377.4 L530.9 377.4 L531.4 377.4 L531.9 377.4 L532.4 377.4 L532.9 377.4 L533.4 377.4 L533.9 377.4 L534.4 377.4 L534.9 377.4 L535.4 377.4 L535.9 377.4 L536.4 377.4 L536.9 377.4 L537.4 377.4 L537.9 377.4 L538.4 377.4 L538.9 377.4 L539.4 377.4 L539.9 377.4 L540.4 377.4 L540.9 377.4 L541.4 377.4 L541.9 377.4 L542.4 377.4 L542.9 377.4 L543.4 377.4 L543.9 377.4 L544.4 377.4 L544.9 377.4 L545.4 377.4 L545.9 377.4 L546.4 377.4 L546.9 377.4 L547.4 377.4 L547.9 377.4 L548.4 377.4 L548.9 377.4 L549.4 377.4 L549.9 377.4 L550.4 377.4 L550.9 377.4 L551.4 377.4 L551.9 377.4 L552.4 377.4 L552.9 377.4 L553.4 377.4 L553.9 377.4 L554.4 377.4 L554.9 377.4 L555.4 377.4 L555.9 377.4 L556.4 377.4 L556.9 377.4 L557.4 377.4 L557.9 377.4 L558.4 377.4 L558.9 377.4 L559.4 377.4 L559.9 377.4 L560.4 377.4 L560.9 377.4 L561.4 377.4 L561.9 377.4 L562.4 377.4 L562.9 377.4 L563.4 377.4 L563.9 377.4 L564.4 377.4 L564.9 377.4 L565.4 377.4 L565.9 377.4 L566.4 377.4 L566.9 377.4 L567.4 377.4 L567.9 377.4 L568.4 377.4 L568.9 377.4 L569.4 377.4 L569.9 377.4 L570.4 377.4 L570.9 377.4 L571.4 377.4 L571.9 377.4 L572.4 377.4 L572.9 377.4 L573.4 377.4 L573.9 377.4 L574.4 377.5 L574.9 377.6 L575.4 377.7 L575.9 377.8 L576.4 377.9 L576.9 378.1 L577.4 378.2 L577.9 378.4 L578.4 378.6 L578.9 378.8 L579.4 379.0 L579.9 379.2 L580.4 379.4 L580.9 379.6 L581.4 379.8 L581.9 380.1 L582.4 380.3 L582.9 380.5 L583.4 380.6 L583.9 380.8 L584.4 380.9 L584.9 381.0 L585.4 381.1 L585.9 381.1 L586.4 381.1 L586.9 381.1 L587.4 381.0 L587.9 380.9 L588.4 380.8 L588.9 380.6 L589.4 380.5 L589.9 380.3 L590.4 380.1 L590.9 379.8 L591.4 379.6 L591.9 379.4 L592.4 379.2 L592.9 379.0 L593.4 378.8 L593.9 378.6 L594.4 378.4 L594.9 378.2 L595.4 378.1 L595.9 377.9 L596.4 377.8 L596.9 377.7 L597.4 377.6 L597.9 377.5 L598.4 377.4 L598.9 377.4 L599.4 377.4 L599.9 377.4 L600.4 377.4 L600.9 377.4 L601.4 377.4 L601.9 377.4 L602.4 377.4 L602.9 377.4 L603.4 377.4 L603.9 377.4 L604.4 377.4 L604.9 377.4 L605.4 377.4 L605.9 377.4 L606.4 377.4 L606.9 377.4 L607.4 377.4 L607.9 377.4 L608.4 377.4 L608.9 377.4 L609.4 377.4 L609.9 377.4 L610.4 377.4 L610.9 377.4 L611.4 377.4 L611.9 377.4 L612.4 377.4 L612.9 377.4 L613.4 377.4 L613.9 377.4 L614.4 377.4 L614.9 377.4 L615.4 377.4 L615.9 377.4 L616.4 377.4 L616.9 377.4 L617.4 377.4 L617.9 377.4 L618.4 377.4 L618.9 377.4 L619.4 377.4 L619.9 377.4 L620.4 377.4 L620.9 377.4 L621.4 377.4 L621.9 377.4 L622.4 377.4 L622.9 377.4 L623.4 377.4 L623.9 377.4 L624.4 377.4 L624.9 377.4 L625.4 377.4 L625.9 377.4 L626.4 377.4 L626.9 377.4 L627.4 377.4 L627.9 377.4 L628.4 377.4 L628.9 377.4 L629.4 377.4 L629.9 377.4 L630.4 377.4 L630.9 377.4 L631.4 377.4 L631.9 377.4 L632.4 377.4 L632.9 377.4 L633.4 377.4 L633.9 377.4 L634.4 377.4 L634.9 377.4 L635.4 377.4 L635.9 377.4 L636.4 377.4 L636.9 377.4 L637.4 377.4 L637.9 377.4 L638.4 377.4 L638.9 377.4 L639.4 377.4 L639.9 377.4 L640.4 377.4 L640.9 377.4 L641.4 377.4 L641.9 377.4 L642.4 377.4 L642.9 377.4 L643.4 377.4 L643.9 377.4 L644.4 377.4 L644.9 377.4 L645.4 377.4 L645.9 377.4 L646.4 377.4 L646.5 377.4"/>
<path d="M525.9 483.6 L526.4 484.4 L526.9 485.6 L527.4 487.5 L527.9 489.5 L528.4 491.5 L528.9 493.1 L529.4 494.4 L529.9 495.4 L530.4 495.9 L530.9 496.0 L531.4 495.5 L531.9 494.6 L532.4 493.2 L532.9 491.5 L533.4 489.4 L533.9 486.9 L534.4 484.0 L534.9 480.9 L535.4 477.8 L535.9 474.7 L536.4 471.7 L536.9 468.8 L537.4 466.0 L537.9 463.4 L538.4 460.9 L538.9 458.6 L539.4 456.4 L539.9 454.3 L540.4 452.4 L540.9 450.6 L541.4 448.9 L541.9 447.3 L542.4 445.9 L542.9 444.6 L543.4 443.3 L543.9 442.2 L544.4 441.2 L544.9 440.2 L545.4 439.2 L545.9 438.4 L546.4 437.6 L546.9 436.9 L547.4 436.3 L547.9 435.8 L548.4 435.3 L548.9 434.9 L549.4 434.5 L549.9 434.1 L550.4 433.7 L550.9 433.4 L551.4 433.1 L551.9 432.8 L552.4 432.6 L552.9 432.4 L553.4 432.2 L553.9 432.0 L554.4 431.8 L554.9 431.7 L555.4 431.5 L555.9 431.4 L556.4 431.3 L556.9 431.1 L557.4 431.0 L557.9 430.9 L558.4 430.8 L558.9 430.7 L559.4 430.6 L559.9 430.5 L560.4 430.5 L560.9 430.4 L561.4 430.3 L561.9 430.3 L562.4 430.2 L562.9 430.2 L563.4 430.1 L563.9 430.1 L564.4 430.0 L564.9 430.0 L565.4 429.9 L565.9 429.9 L566.4 429.8 L566.9 429.8 L567.4 429.7 L567.9 429.7 L568.4 429.7 L568.9 429.6 L569.4 429.6 L569.9 429.6 L570.4 429.5 L570.9 429.5 L571.4 429.5 L571.9 429.4 L572.4 429.4 L572.9 429.4 L573.4 429.4 L573.9 429.3 L574.4 429.3 L574.9 429.3 L575.4 429.3 L575.9 429.3 L576.4 429.3 L576.9 429.3 L577.4 429.3 L577.9 429.3 L578.4 429.3 L578.9 429.3 L579.4 429.3 L579.9 429.3 L580.4 429.3 L580.9 429.3 L581.4 429.3 L581.9 429.3 L582.4 429.3 L582.9 429.3 L583.4 429.3 L583.9 429.3 L584.4 429.3 L584.9 429.3 L585.4 429.3 L585.9 429.3 L586.4 429.3 L586.9 429.3 L587.4 429.3 L587.9 429.3 L588.4 429.3 L588.9 429.3 L589.4 429.3 L589.9 429.3 L590.4 429.3 L590.9 429.3 L591.4 429.3 L591.9 429.3 L592.4 429.3 L592.9 429.3 L593.4 429.3 L593.9 429.3 L594.4 429.3 L594.9 429.3 L595.4 429.3 L595.9 429.3 L596.4 429.3 L596.9 429.3 L597.4 429.3 L597.9 429.3 L598.4 429.3 L598.9 429.3 L599.4 429.3 L599.9 429.3 L600.4 429.3 L600.9 429.3 L601.4 429.3 L601.9 429.3 L602.4 429.3 L602.9 429.3 L603.4 429.3 L603.9 429.3 L604.4 429.3 L604.9 429.3 L605.4 429.3 L605.9 429.3 L606.4 429.3 L606.9 429.3 L607.4 429.3 L607.9 429.3 L608.4 429.3 L608.9 429.3 L609.4 429.3 L609.9 429.3 L610.4 429.3 L610.9 429.3 L611.4 429.3 L611.9 429.3 L612.4 429.3 L612.9 429.3 L613.4 429.3 L613.9 429.3 L614.4 429.3 L614.9 429.3 L615.4 429.3 L615.9 429.3 L616.4 429.3 L616.9 429.3 L617.4 429.3 L617.9 429.3 L618.4 429.3 L618.9 429.3 L619.4 429.3 L619.9 429.3 L620.4 429.3 L620.9 429.3 L621.4 429.3 L621.9 429.3 L622.4 429.3 L622.9 429.3 L623.4 429.3 L623.9 429.3 L624.4 429.3 L624.9 429.3 L625.4 429.3 L625.9 429.3 L626.4 429.3 L626.9 429.3 L627.4 429.3 L627.9 429.3 L628.4 429.3 L628.9 429.3 L629.4 429.3 L629.9 429.3 L630.4 429.3 L630.9 429.3 L631.4 429.3 L631.9 429.3 L632.4 429.3 L632.9 429.3 L633.4 429.3 L633.9 429.3 L634.4 429.3 L634.9 429.3 L635.4 429.3 L635.9 429.3 L636.4 429.3 L636.9 429.3 L637.4 429.3 L637.9 429.3 L638.4 429.3 L638.9 429.3 L639.4 429.3 L639.9 429.3 L640.4 429.3 L640.9 429.3 L641.4 429.3 L641.9 429.3 L642.4 429.3 L642.9 429.3 L643.4 429.3 L643.9 429.3 L644.4 429.3 L644.9 429.3 L645.4 429.3 L645.9 429.3 L646.4 429.3 L646.5 429.3"/>
<path d="M525.9 483.8 L526.4 483.8 L526.9 483.8 L527.4 483.8 L527.9 483.8 L528.4 483.8 L528.9 483.8 L529.4 483.8 L529.9 483.8 L530.4 483.8 L530.9 483.8 L531.4 483.8 L531.9 483.8 L532.4 483.8 L532.9 483.7 L533.4 483.7 L533.9 483.7 L534.4 483.7 L534.9 483.7 L535.4 483.7 L535.9 483.7 L536.4 483.6 L536.9 483.6 L537.4 483.6 L537.9 483.6 L538.4 483.6 L538.9 483.6 L539.4 483.5 L539.9 483.5 L540.4 483.5 L540.9 483.5 L541.4 483.5 L541.9 483.5 L542.4 483.4 L542.9 483.4 L543.4 483.4 L543.9 483.4 L544.4 483.4 L544.9 483.4 L545.4 483.3 L545.9 483.3 L546.4 483.3 L546.9 483.3 L547.4 483.3 L547.9 483.3 L548.4 483.3 L548.9 483.2 L549.4 483.2 L549.9 483.2 L550.4 483.2 L550.9 483.2 L551.4 483.2 L551.9 483.2 L552.4 483.2 L552.9 483.1 L553.4 483.1 L553.9 483.1 L554.4 483.1 L554.9 483.1 L555.4 483.1 L555.9 483.1 L556.4 483.0 L556.9 483.0 L557.4 483.0 L557.9 483.0 L558.4 483.0 L558.9 483.0 L559.4 483.0 L559.9 483.0 L560.4 482.9 L560.9 482.9 L561.4 482.9 L561.9 482.9 L562.4 482.9 L562.9 482.9 L563.4 482.9 L563.9 482.8 L564.4 482.8 L564.9 482.8 L565.4 482.8 L565.9 482.8 L566.4 482.8 L566.9 482.8 L567.4 482.8 L567.9 482.7 L568.4 482.7 L568.9 482.7 L569.4 482.7 L569.9 482.7 L570.4 482.7 L570.9 482.7 L571.4 482.6 L571.9 482.6 L572.4 482.6 L572.9 482.6 L573.4 482.6 L573.9 482.6 L574.4 482.6 L574.9 482.6 L575.4 482.5 L575.9 482.5 L576.4 482.5 L576.9 482.5 L577.4 482.5 L577.9 482.5 L578.4 482.5 L578.9 482.5 L579.4 482.5 L579.9 482.4 L580.4 482.4 L580.9 482.4 L581.4 482.4 L581.9 482.4 L582.4 482.4 L582.9 482.4 L583.4 482.4 L583.9 482.4 L584.4 482.3 L584.9 482.3 L585.4 482.3 L585.9 482.3 L586.4 482.3 L586.9 482.3 L587.4 482.3 L587.9 482.3 L588.4 482.3 L588.9 482.3 L589.4 482.2 L589.9 482.2 L590.4 482.2 L590.9 482.2 L591.4 482.2 L591.9 482.2 L592.4 482.2 L592.9 482.2 L593.4 482.2 L593.9 482.2 L594.4 482.2 L594.9 482.2 L595.4 482.2 L595.9 482.1 L596.4 482.1 L596.9 482.1 L597.4 482.1 L597.9 482.1 L598.4 482.1 L598.9 482.1 L599.4 482.1 L599.9 482.1 L600.4 482.1 L600.9 482.1 L601.4 482.1 L601.9 482.1 L602.4 482.1 L602.9 482.1 L603.4 482.1 L603.9 482.0 L604.4 482.0 L604.9 482.0 L605.4 482.0 L605.9 482.0 L606.4 482.0 L606.9 482.0 L607.4 482.0 L607.9 482.0 L608.4 482.0 L608.9 482.0 L609.4 482.0 L609.9 482.0 L610.4 482.0 L610.9 482.0 L611.4 481.9 L611.9 481.9 L612.4 481.9 L612.9 481.9 L613.4 481.9 L613.9 481.9 L614.4 481.9 L614.9 481.9 L615.4 481.9 L615.9 481.9 L616.4 481.9 L616.9 481.9 L617.4 481.9 L617.9 481.9 L618.4 481.8 L618.9 481.8 L619.4 481.8 L619.9 481.8 L620.4 481.8 L620.9 481.8 L621.4 481.8 L621.9 481.8 L622.4 481.8 L622.9 481.8 L623.4 481.8 L623.9 481.7 L624.4 481.7 L624.9 481.7 L625.4 481.7 L625.9 481.7 L626.4 481.7 L626.9 481.7 L627.4 481.7 L627.9 481.7 L628.4 481.6 L628.9 481.6 L629.4 481.6 L629.9 481.6 L630.4 481.6 L630.9 481.6 L631.4 481.6 L631.9 481.5 L632.4 481.5 L632.9 481.5 L633.4 481.5 L633.9 481.5 L634.4 481.5 L634.9 481.4 L635.4 481.4 L635.9 481.4 L636.4 481.4 L636.9 481.4 L637.4 481.4 L637.9 481.3 L638.0 481.3"/>
</g>
</g>
<path d="M103.75 491.90h6.4M418.98 491.90h12.8M747.00 491.90h-6.4M103.75 408.47h6.4M418.98 408.47h12.8M747.00 408.47h-6.4M103.75 325.04h6.4M418.98 325.04h12.8M747.00 325.04h-6.4M103.75 241.62h6.4M418.98 241.62h12.8M747.00 241.62h-6.4M103.75 158.19h6.4M418.98 158.19h12.8M747.00 158.19h-6.4M103.75 74.76h6.4M418.98 74.76h12.8M747.00 74.76h-6.4M157.35 554.47v-6.4M157.35 74.76v6.4M485.68 554.47v-6.4M485.68 74.76v6.4M279.18 554.47v-6.4M279.18 74.76v6.4M586.19 554.47v-6.4M586.19 74.76v6.4M401.01 554.47v-6.4M401.01 74.76v6.4M686.70 554.47v-6.4M686.70 74.76v6.4" stroke="#000" stroke-width="1.55" fill="none"/>
<g stroke="#000" stroke-width="1.55" fill="none" stroke-linecap="square">
<rect x="103.75" y="74.76" width="643.25" height="479.71"/>
<path d="M425.38 74.76V554.47"/>
</g>
<g font-family="'DejaVu Sans','Liberation Sans',sans-serif" font-size="18.20" fill="#000" stroke="#000" stroke-width="0.4">
<text x="97.65" y="498.80" text-anchor="end">0.6</text>
<text x="97.65" y="415.37" text-anchor="end">0.8</text>
<text x="97.65" y="331.94" text-anchor="end">1.0</text>
<text x="97.65" y="248.52" text-anchor="end">1.2</text>
<text x="97.65" y="165.09" text-anchor="end">1.4</text>
<text x="97.65" y="81.66" text-anchor="end">1.6</text>
<text x="157.35" y="574.00" text-anchor="middle">−50</text>
<text x="485.68" y="574.00" text-anchor="middle">−50</text>
<text x="279.18" y="574.00" text-anchor="middle">0</text>
<text x="586.19" y="574.00" text-anchor="middle">0</text>
<text x="401.01" y="574.00" text-anchor="middle">50</text>
<text x="686.70" y="574.00" text-anchor="middle">50</text>
<text x="425.38" y="608.40" text-anchor="middle">Relative Wavelength [Å]</text>
<text transform="translate(57.60 314.40) rotate(-90)" text-anchor="middle">Relative Flux</text>
<text x="193.90" y="120.00">H<tspan font-style="italic">θ</tspan></text>
<text x="193.90" y="171.40">H<tspan font-style="italic">η</tspan></text>
<text x="169.60" y="224.40">H<tspan font-style="italic">ζ</tspan></text>
<text x="169.60" y="276.40">H<tspan font-style="italic">ε</tspan></text>
<text x="120.90" y="331.80">H<tspan font-style="italic">δ</tspan></text>
<text x="120.90" y="383.90">H<tspan font-style="italic">γ</tspan></text>
<text x="120.90" y="435.40">H<tspan font-style="italic">β</tspan></text>
<text x="440.90" y="120.30">He II</text>
<text x="680.60" y="120.30"><tspan font-style="italic">λ</tspan><tspan dx="-1.1">4200</tspan></text>
<text x="440.90" y="172.60">He II</text>
<text x="680.60" y="172.60"><tspan font-style="italic">λ</tspan><tspan dx="-1.1">4542</tspan></text>
<text x="440.90" y="224.80">He II</text>
<text x="680.60" y="224.80"><tspan font-style="italic">λ</tspan><tspan dx="-1.1">4686</tspan></text>
<text x="451.30" y="333.00">He I</text>
<text x="670.70" y="333.00"><tspan font-style="italic">λ</tspan><tspan dx="-1.1">4026</tspan></text>
<text x="451.30" y="385.00">He I</text>
<text x="670.70" y="385.00"><tspan font-style="italic">λ</tspan><tspan dx="-1.1">4471</tspan></text>
<text x="451.30" y="437.30">He I</text>
<text x="670.70" y="437.30"><tspan font-style="italic">λ</tspan><tspan dx="-1.1">4713</tspan></text>
<text x="451.30" y="489.40">He I</text>
<text x="670.70" y="489.40"><tspan font-style="italic">λ</tspan><tspan dx="-1.1">4922</tspan></text>
</g>
</svg>
</body></html>
